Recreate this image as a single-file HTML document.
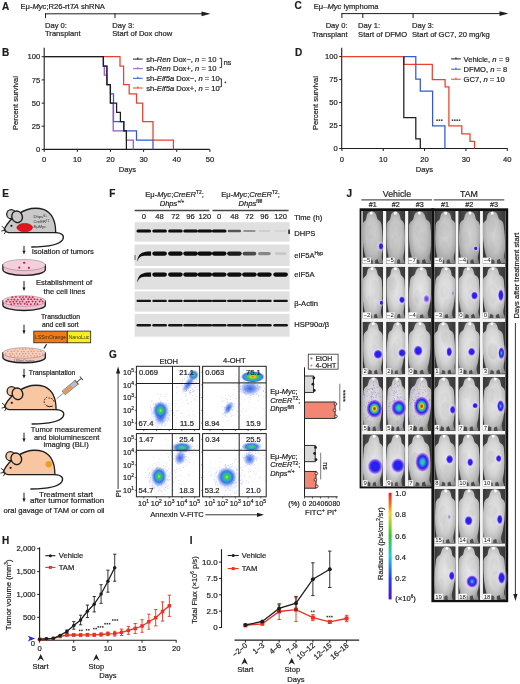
<!DOCTYPE html>
<html><head><meta charset="utf-8"><style>
html,body{margin:0;padding:0;background:#fff;}
svg{display:block;}
svg{font-family:"Liberation Sans",Arial,sans-serif;font-size:7.6px;}
text{fill:#1e1e1e;stroke:#1e1e1e;stroke-width:0.2px;}
</style></head><body>
<svg width="520" height="684" viewBox="0 0 520 684">
<text x="2" y="9.5" style="font-weight:bold;font-size:10px;">A</text>
<text x="20.5" y="9.4">Eμ-<tspan font-style="italic">Myc</tspan>;R26-rt<tspan font-style="italic">TA</tspan> shRNA</text>
<line x1="45" y1="13.8" x2="203.5" y2="13.8" stroke="#1e1e1e" stroke-width="1"/>
<polygon points="201.5,11.4 210.5,13.8 201.5,16.2" fill="#1e1e1e"/>
<line x1="45.5" y1="13.3" x2="45.5" y2="18.2" stroke="#1e1e1e" stroke-width="1"/>
<line x1="115" y1="13.3" x2="115" y2="18.2" stroke="#1e1e1e" stroke-width="1"/>
<text x="45" y="27.5">Day 0:</text>
<text x="45" y="36.2">Transplant</text>
<text x="112.3" y="27.5">Day 3:</text>
<text x="112.3" y="36.2">Start of Dox chow</text>
<text x="2" y="55.5" style="font-weight:bold;font-size:10px;">B</text>
<line x1="44.2" y1="47.7" x2="44.2" y2="149.9" stroke="#1e1e1e" stroke-width="1.1"/>
<line x1="41.7" y1="56.7" x2="44.2" y2="56.7" stroke="#1e1e1e" stroke-width="1"/>
<text x="40.2" y="59.300000000000004" text-anchor="end">100</text>
<line x1="41.7" y1="79.9" x2="44.2" y2="79.9" stroke="#1e1e1e" stroke-width="1"/>
<text x="40.2" y="82.5" text-anchor="end">75</text>
<line x1="41.7" y1="103.1" x2="44.2" y2="103.1" stroke="#1e1e1e" stroke-width="1"/>
<text x="40.2" y="105.69999999999999" text-anchor="end">50</text>
<line x1="41.7" y1="126.2" x2="44.2" y2="126.2" stroke="#1e1e1e" stroke-width="1"/>
<text x="40.2" y="128.8" text-anchor="end">25</text>
<line x1="41.7" y1="149.4" x2="44.2" y2="149.4" stroke="#1e1e1e" stroke-width="1"/>
<text x="40.2" y="152.0" text-anchor="end">0</text>
<line x1="44.2" y1="149.4" x2="209.8" y2="149.4" stroke="#1e1e1e" stroke-width="1.1"/>
<line x1="44.2" y1="149.4" x2="44.2" y2="151.9" stroke="#1e1e1e" stroke-width="1"/>
<text x="44.2" y="162.2" text-anchor="middle">0</text>
<line x1="77.34" y1="149.4" x2="77.34" y2="151.9" stroke="#1e1e1e" stroke-width="1"/>
<text x="77.34" y="162.2" text-anchor="middle">10</text>
<line x1="110.48" y1="149.4" x2="110.48" y2="151.9" stroke="#1e1e1e" stroke-width="1"/>
<text x="110.48" y="162.2" text-anchor="middle">20</text>
<line x1="143.62" y1="149.4" x2="143.62" y2="151.9" stroke="#1e1e1e" stroke-width="1"/>
<text x="143.62" y="162.2" text-anchor="middle">30</text>
<line x1="176.76" y1="149.4" x2="176.76" y2="151.9" stroke="#1e1e1e" stroke-width="1"/>
<text x="176.76" y="162.2" text-anchor="middle">40</text>
<line x1="209.89999999999998" y1="149.4" x2="209.89999999999998" y2="151.9" stroke="#1e1e1e" stroke-width="1"/>
<text x="209.89999999999998" y="162.2" text-anchor="middle">50</text>
<text x="127.5" y="172.3" text-anchor="middle">Days</text>
<text transform="translate(17.6,103) rotate(-90)" text-anchor="middle">Percent survival</text>
<polyline points="44.2,56.7 120.0,56.7 120.0,66.0 123.6,66.0 123.6,84.5 129.2,84.5 129.2,93.8 136.5,93.8 136.5,103.1 142.7,103.1 142.7,121.6 153.0,121.6 153.0,140.1 173.4,140.1 173.4,149.4" fill="none" stroke="#e8412f" stroke-width="1.25"/>
<polyline points="103.4,56.7 103.4,66.0 106.9,66.0 106.9,84.5 110.4,84.5 110.4,93.8 113.5,93.8 113.5,121.6 123.8,121.6 123.8,130.9 126.4,130.9 126.4,130.9 136.5,130.9 136.5,140.1 153.0,140.1 153.0,149.4" fill="none" stroke="#3557d4" stroke-width="1.25"/>
<polyline points="103.4,56.7 103.4,66.0 104.3,66.0 104.3,75.2 106.9,75.2 106.9,84.5 110.4,84.5 110.4,103.1 113.2,103.1 113.2,130.9 126.4,130.9 126.4,140.1 133.3,140.1 133.3,149.4" fill="none" stroke="#9a55b8" stroke-width="1.25"/>
<polyline points="44.2,56.7 103.4,56.7 103.4,66.0 106.9,66.0 106.9,84.5 110.4,84.5 110.4,103.1 116.6,103.1 116.6,112.3 120.4,112.3 120.4,121.6 123.8,121.6 123.8,130.9 126.4,130.9 126.4,149.4" fill="none" stroke="#1e1e1e" stroke-width="1.25"/>
<line x1="133" y1="59.1" x2="142.7" y2="59.1" stroke="#1e1e1e" stroke-width="1"/>
<line x1="137.85" y1="57.5" x2="137.85" y2="59.4" stroke="#1e1e1e" stroke-width="1"/>
<text x="146.3" y="61.800000000000004">sh-<tspan font-style="italic">Ren</tspan> Dox−, <tspan font-style="italic">n</tspan> = 10</text>
<line x1="133" y1="68.7" x2="142.7" y2="68.7" stroke="#9a55b8" stroke-width="1"/>
<line x1="137.85" y1="67.10000000000001" x2="137.85" y2="69.0" stroke="#9a55b8" stroke-width="1"/>
<text x="146.3" y="71.4">sh-<tspan font-style="italic">Ren</tspan> Dox+, <tspan font-style="italic">n</tspan> = 10</text>
<line x1="133" y1="78.3" x2="142.7" y2="78.3" stroke="#3557d4" stroke-width="1"/>
<line x1="137.85" y1="76.7" x2="137.85" y2="78.6" stroke="#3557d4" stroke-width="1"/>
<text x="146.3" y="81.0">sh-<tspan font-style="italic">Eif5a</tspan> Dox−, <tspan font-style="italic">n</tspan> = 10</text>
<line x1="133" y1="88.0" x2="142.7" y2="88.0" stroke="#e8412f" stroke-width="1"/>
<line x1="137.85" y1="86.4" x2="137.85" y2="88.3" stroke="#e8412f" stroke-width="1"/>
<text x="146.3" y="90.7">sh-<tspan font-style="italic">Eif5a</tspan> Dox+, <tspan font-style="italic">n</tspan> = 10</text>
<polyline points="219.6,58.3 221.6,58.3 221.6,67.4 219.6,67.4" fill="none" stroke="#1e1e1e" stroke-width="0.9"/>
<text x="223.4" y="65.4">ns</text>
<polyline points="219.4,78.8 221.4,78.8 221.4,86.8 219.4,86.8" fill="none" stroke="#1e1e1e" stroke-width="0.9"/>
<rect x="224.62" y="81.62" width="1.55" height="1.55" fill="#3a3a3a"/>
<text x="294.5" y="9.3" style="font-weight:bold;font-size:10px;">C</text>
<text x="313.8" y="9.4">Eμ–<tspan font-style="italic">Myc</tspan> lymphoma</text>
<line x1="341.5" y1="13.6" x2="501.5" y2="13.6" stroke="#1e1e1e" stroke-width="1"/>
<polygon points="499.5,11.2 508.5,13.6 499.5,16.0" fill="#1e1e1e"/>
<line x1="341.9" y1="13.1" x2="341.9" y2="18" stroke="#1e1e1e" stroke-width="1"/>
<line x1="362.8" y1="13.1" x2="362.8" y2="18" stroke="#1e1e1e" stroke-width="1"/>
<line x1="413.1" y1="13.1" x2="413.1" y2="18" stroke="#1e1e1e" stroke-width="1"/>
<text x="347.6" y="27.8" text-anchor="end">Day 0:</text>
<text x="347.6" y="36.6" text-anchor="end">Transplant</text>
<text x="358.1" y="27.8">Day 1:</text>
<text x="358.1" y="36.6">Start of DFMO</text>
<text x="412.0" y="27.8">Day 3:</text>
<text x="412.0" y="36.6">Start of GC7, 20 mg/kg</text>
<text x="295" y="55.7" style="font-weight:bold;font-size:10px;">D</text>
<line x1="341.7" y1="47.7" x2="341.7" y2="149" stroke="#1e1e1e" stroke-width="1.1"/>
<line x1="339.2" y1="56.599999999999994" x2="341.7" y2="56.599999999999994" stroke="#1e1e1e" stroke-width="1"/>
<text x="337.7" y="59.199999999999996" text-anchor="end">100</text>
<line x1="339.2" y1="79.575" x2="341.7" y2="79.575" stroke="#1e1e1e" stroke-width="1"/>
<text x="337.7" y="82.175" text-anchor="end">75</text>
<line x1="339.2" y1="102.55" x2="341.7" y2="102.55" stroke="#1e1e1e" stroke-width="1"/>
<text x="337.7" y="105.14999999999999" text-anchor="end">50</text>
<line x1="339.2" y1="125.525" x2="341.7" y2="125.525" stroke="#1e1e1e" stroke-width="1"/>
<text x="337.7" y="128.125" text-anchor="end">25</text>
<line x1="339.2" y1="148.5" x2="341.7" y2="148.5" stroke="#1e1e1e" stroke-width="1"/>
<text x="337.7" y="151.1" text-anchor="end">0</text>
<line x1="341.7" y1="148.5" x2="507.6" y2="148.5" stroke="#1e1e1e" stroke-width="1.1"/>
<line x1="341.9" y1="148.5" x2="341.9" y2="151" stroke="#1e1e1e" stroke-width="1"/>
<text x="341.9" y="161.5" text-anchor="middle">0</text>
<line x1="383.25" y1="148.5" x2="383.25" y2="151" stroke="#1e1e1e" stroke-width="1"/>
<text x="383.25" y="161.5" text-anchor="middle">10</text>
<line x1="424.59999999999997" y1="148.5" x2="424.59999999999997" y2="151" stroke="#1e1e1e" stroke-width="1"/>
<text x="424.59999999999997" y="161.5" text-anchor="middle">20</text>
<line x1="465.95" y1="148.5" x2="465.95" y2="151" stroke="#1e1e1e" stroke-width="1"/>
<text x="465.95" y="161.5" text-anchor="middle">30</text>
<line x1="507.29999999999995" y1="148.5" x2="507.29999999999995" y2="151" stroke="#1e1e1e" stroke-width="1"/>
<text x="507.29999999999995" y="161.5" text-anchor="middle">40</text>
<text x="424.5" y="171.6" text-anchor="middle">Days</text>
<text transform="translate(317.6,103) rotate(-90)" text-anchor="middle">Percent survival</text>
<polyline points="341.9,56.6 403.8,56.6 403.8,64.3 432.3,64.3 432.3,79.5 445.1,79.5 445.1,86.9 448.9,86.9 448.9,125.8 461.8,125.8 461.8,133.8 470.0,133.8 470.0,141.3 474.5,141.3 474.5,148.5" fill="none" stroke="#e8412f" stroke-width="1.25"/>
<polyline points="403.8,56.6 415.8,56.6 415.8,79.2 420.3,79.2 420.3,91.2 432.6,91.2 432.6,125.8 444.9,125.8 444.9,148.5" fill="none" stroke="#3557d4" stroke-width="1.25"/>
<polyline points="403.8,56.6 403.8,117.7 415.8,117.7 415.8,138.9 420.3,138.9 420.3,148.5" fill="none" stroke="#1e1e1e" stroke-width="1.25"/>
<rect x="436.32" y="119.42" width="1.55" height="1.55" fill="#3a3a3a"/>
<rect x="438.62" y="119.42" width="1.55" height="1.55" fill="#3a3a3a"/>
<rect x="440.93" y="119.42" width="1.55" height="1.55" fill="#3a3a3a"/>
<rect x="451.78" y="119.42" width="1.55" height="1.55" fill="#3a3a3a"/>
<rect x="454.08" y="119.42" width="1.55" height="1.55" fill="#3a3a3a"/>
<rect x="456.38" y="119.42" width="1.55" height="1.55" fill="#3a3a3a"/>
<rect x="458.68" y="119.42" width="1.55" height="1.55" fill="#3a3a3a"/>
<line x1="451.1" y1="58.9" x2="460.8" y2="58.9" stroke="#1e1e1e" stroke-width="1"/>
<line x1="455.95000000000005" y1="57.3" x2="455.95000000000005" y2="59.199999999999996" stroke="#1e1e1e" stroke-width="1"/>
<text x="463.6" y="61.6">Vehicle, <tspan font-style="italic">n</tspan> = 9</text>
<line x1="451.1" y1="69.2" x2="460.8" y2="69.2" stroke="#3557d4" stroke-width="1"/>
<line x1="455.95000000000005" y1="67.60000000000001" x2="455.95000000000005" y2="69.5" stroke="#3557d4" stroke-width="1"/>
<text x="463.6" y="71.9">DFMO, <tspan font-style="italic">n</tspan> = 8</text>
<line x1="451.1" y1="79.2" x2="460.8" y2="79.2" stroke="#e8412f" stroke-width="1"/>
<line x1="455.95000000000005" y1="77.60000000000001" x2="455.95000000000005" y2="79.5" stroke="#e8412f" stroke-width="1"/>
<text x="463.6" y="81.9">GC7, <tspan font-style="italic">n</tspan> = 10</text>
<text x="2.2" y="196.8" style="font-weight:bold;font-size:10px;">E</text>
<g transform="translate(4.2,207.6) scale(1.0)">
<path d="M51.5,25 C58,25.3 60.5,28 58.5,32 C55.5,37 42,39.2 27.5,39.4" fill="none" stroke="#1e1e1e" stroke-width="1.3" stroke-linecap="round"/>
<circle cx="7.0" cy="6.6" r="4.5" fill="#c9c9c9" stroke="#1e1e1e" stroke-width="1.25"/>
<path d="M0,21.5 C3,15.5 8,10 14,6.5 C22,1 32,-0.5 40,2 C48,5.5 51.5,14 51.5,25 L4.5,25 C2,24.5 0,23.5 0,21.5 Z" fill="#c9c9c9" stroke="#1e1e1e" stroke-width="1.3" stroke-linejoin="round"/>
<ellipse cx="12.9" cy="9.2" rx="5.2" ry="5.9" transform="rotate(-25,12.9,9.2)" fill="#c9c9c9" stroke="#1e1e1e" stroke-width="1.35"/>
<circle cx="7.2" cy="18.2" r="1.1" fill="#1e1e1e"/>
<path d="M1.5,22 L-2.5,18.5 M1.5,22.5 L-3,23.5 M2,23 L0,26.5" stroke="#1e1e1e" stroke-width="0.9" fill="none"/>
<ellipse cx="20.5" cy="20" rx="7.8" ry="4.2" fill="#e3141b" stroke="#b00010" stroke-width="0.6"/>
<text x="29.2" y="10.6" style="font-size:4.2px;fill:#333;stroke:none">Dhps<tspan font-size="2.8" dy="-1.5">fl/+</tspan></text>
<text x="29.2" y="15.7" style="font-size:4.2px;fill:#333;stroke:none">CreER<tspan font-size="2.8" dy="-1.5">T2</tspan></text>
<text x="29.2" y="20.8" style="font-size:4.2px;fill:#333;stroke:none">EμMyc</text>
</g>
<g transform="translate(4.6,384.6) scale(1.0)">
<path d="M51.5,25 C58,25.3 60.5,28 58.5,32 C55.5,37 42,39.2 27.5,39.4" fill="none" stroke="#1e1e1e" stroke-width="1.3" stroke-linecap="round"/>
<circle cx="7.0" cy="6.6" r="4.5" fill="#f8c6a0" stroke="#1e1e1e" stroke-width="1.25"/>
<path d="M0,21.5 C3,15.5 8,10 14,6.5 C22,1 32,-0.5 40,2 C48,5.5 51.5,14 51.5,25 L4.5,25 C2,24.5 0,23.5 0,21.5 Z" fill="#f8c6a0" stroke="#1e1e1e" stroke-width="1.3" stroke-linejoin="round"/>
<ellipse cx="12.9" cy="9.2" rx="5.2" ry="5.9" transform="rotate(-25,12.9,9.2)" fill="#f8c6a0" stroke="#1e1e1e" stroke-width="1.35"/>
<circle cx="7.2" cy="18.2" r="1.1" fill="#1e1e1e"/>
<path d="M1.5,22 L-2.5,18.5 M1.5,22.5 L-3,23.5 M2,23 L0,26.5" stroke="#1e1e1e" stroke-width="0.9" fill="none"/>
<path d="M42.5,12.5 A5,5 0 0 0 40.5,20" stroke="#1e1e1e" stroke-width="1" fill="none" stroke-dasharray="1.6,1"/>
<path d="M44,13.5 A4.8,4.8 0 0 1 49.5,17.5" stroke="#1e1e1e" stroke-width="1" fill="none" stroke-dasharray="1.6,1"/>
<path d="M41.5,21 Q44.5,23 48,21.5" stroke="#1e1e1e" stroke-width="1" fill="none"/>
</g>
<g transform="translate(3.4,449.6) scale(1.0)">
<path d="M51.5,25 C58,25.3 60.5,28 58.5,32 C55.5,37 42,39.2 27.5,39.4" fill="none" stroke="#1e1e1e" stroke-width="1.3" stroke-linecap="round"/>
<circle cx="7.0" cy="6.6" r="4.5" fill="#f8c6a0" stroke="#1e1e1e" stroke-width="1.25"/>
<path d="M0,21.5 C3,15.5 8,10 14,6.5 C22,1 32,-0.5 40,2 C48,5.5 51.5,14 51.5,25 L4.5,25 C2,24.5 0,23.5 0,21.5 Z" fill="#f8c6a0" stroke="#1e1e1e" stroke-width="1.3" stroke-linejoin="round"/>
<ellipse cx="12.9" cy="9.2" rx="5.2" ry="5.9" transform="rotate(-25,12.9,9.2)" fill="#f8c6a0" stroke="#1e1e1e" stroke-width="1.35"/>
<circle cx="7.2" cy="18.2" r="1.1" fill="#1e1e1e"/>
<path d="M1.5,22 L-2.5,18.5 M1.5,22.5 L-3,23.5 M2,23 L0,26.5" stroke="#1e1e1e" stroke-width="0.9" fill="none"/>
<circle cx="45.3" cy="14.6" r="3.1" fill="#ec9a1e" opacity="0.95"/>
</g>
<line x1="24" y1="245.8" x2="24" y2="251.4" stroke="#1e1e1e" stroke-width="1"/>
<polygon points="22.4,250.8 24,254.4 25.6,250.8" fill="#1e1e1e"/>
<line x1="24" y1="281" x2="24" y2="288" stroke="#1e1e1e" stroke-width="1"/>
<polygon points="22.4,287.4 24,291 25.6,287.4" fill="#1e1e1e"/>
<line x1="24" y1="324.6" x2="24" y2="331.2" stroke="#1e1e1e" stroke-width="1"/>
<polygon points="22.4,330.59999999999997 24,334.2 25.6,330.59999999999997" fill="#1e1e1e"/>
<line x1="24" y1="368.8" x2="24" y2="375.5" stroke="#1e1e1e" stroke-width="1"/>
<polygon points="22.4,374.9 24,378.5 25.6,374.9" fill="#1e1e1e"/>
<line x1="24" y1="432.7" x2="24" y2="439.2" stroke="#1e1e1e" stroke-width="1"/>
<polygon points="22.4,438.59999999999997 24,442.2 25.6,438.59999999999997" fill="#1e1e1e"/>
<line x1="24" y1="492.7" x2="24" y2="499.2" stroke="#1e1e1e" stroke-width="1"/>
<polygon points="22.4,498.59999999999997 24,502.2 25.6,498.59999999999997" fill="#1e1e1e"/>
<path d="M2.900000000000002,265 L2.900000000000002,269.8 A21.2,5.6 0 0 0 45.3,269.8 L45.3,265 Z" fill="#efc2d2" stroke="#1e1e1e" stroke-width="1.35"/>
<ellipse cx="24.1" cy="265" rx="21.2" ry="5.6" fill="#f4d0dd" stroke="#777" stroke-width="0.5"/>
<circle cx="24.1" cy="262.8" r="1.1" fill="#e0163a"/>
<circle cx="19.3" cy="267.6" r="1.1" fill="#e0163a"/>
<circle cx="28.9" cy="267.8" r="1.1" fill="#e0163a"/>
<path d="M2.900000000000002,301 L2.900000000000002,305.2 A21.2,5.3 0 0 0 45.3,305.2 L45.3,301 Z" fill="#efc2d2" stroke="#1e1e1e" stroke-width="1.35"/>
<ellipse cx="24.1" cy="301" rx="21.2" ry="5.3" fill="#f4d0dd" stroke="#777" stroke-width="0.5"/>
<circle cx="12.3" cy="297.2" r="0.95" fill="#e3183c"/>
<circle cx="15.9" cy="296.9" r="0.95" fill="#e3183c"/>
<circle cx="19.9" cy="297.1" r="0.95" fill="#e3183c"/>
<circle cx="23.0" cy="297.1" r="0.95" fill="#e3183c"/>
<circle cx="26.1" cy="296.9" r="0.95" fill="#e3183c"/>
<circle cx="29.4" cy="297.3" r="0.95" fill="#e3183c"/>
<circle cx="32.6" cy="297.2" r="0.95" fill="#e3183c"/>
<circle cx="8.1" cy="299.6" r="0.95" fill="#e3183c"/>
<circle cx="11.4" cy="299.6" r="0.95" fill="#e3183c"/>
<circle cx="14.3" cy="299.5" r="0.95" fill="#e3183c"/>
<circle cx="17.7" cy="299.6" r="0.95" fill="#e3183c"/>
<circle cx="21.4" cy="299.2" r="0.95" fill="#e3183c"/>
<circle cx="24.0" cy="299.2" r="0.95" fill="#e3183c"/>
<circle cx="28.1" cy="299.3" r="0.95" fill="#e3183c"/>
<circle cx="31.1" cy="299.3" r="0.95" fill="#e3183c"/>
<circle cx="34.3" cy="299.3" r="0.95" fill="#e3183c"/>
<circle cx="37.4" cy="299.4" r="0.95" fill="#e3183c"/>
<circle cx="40.9" cy="299.6" r="0.95" fill="#e3183c"/>
<circle cx="6.4" cy="301.5" r="0.95" fill="#e3183c"/>
<circle cx="9.9" cy="301.9" r="0.95" fill="#e3183c"/>
<circle cx="13.2" cy="301.7" r="0.95" fill="#e3183c"/>
<circle cx="16.3" cy="301.5" r="0.95" fill="#e3183c"/>
<circle cx="19.7" cy="301.7" r="0.95" fill="#e3183c"/>
<circle cx="22.5" cy="301.5" r="0.95" fill="#e3183c"/>
<circle cx="26.4" cy="301.9" r="0.95" fill="#e3183c"/>
<circle cx="28.9" cy="301.8" r="0.95" fill="#e3183c"/>
<circle cx="32.5" cy="301.5" r="0.95" fill="#e3183c"/>
<circle cx="35.7" cy="301.8" r="0.95" fill="#e3183c"/>
<circle cx="39.6" cy="301.5" r="0.95" fill="#e3183c"/>
<circle cx="42.6" cy="301.5" r="0.95" fill="#e3183c"/>
<circle cx="11.2" cy="304.2" r="0.95" fill="#e3183c"/>
<circle cx="14.3" cy="303.8" r="0.95" fill="#e3183c"/>
<circle cx="17.8" cy="303.7" r="0.95" fill="#e3183c"/>
<circle cx="20.7" cy="303.9" r="0.95" fill="#e3183c"/>
<circle cx="24.5" cy="303.8" r="0.95" fill="#e3183c"/>
<circle cx="27.2" cy="304.2" r="0.95" fill="#e3183c"/>
<circle cx="30.8" cy="304.2" r="0.95" fill="#e3183c"/>
<circle cx="34.6" cy="303.9" r="0.95" fill="#e3183c"/>
<circle cx="37.5" cy="304.0" r="0.95" fill="#e3183c"/>
<path d="M2.900000000000002,353 L2.900000000000002,357.5 A21.2,5.3 0 0 0 45.3,357.5 L45.3,353 Z" fill="#f0c6c6" stroke="#1e1e1e" stroke-width="1.35"/>
<ellipse cx="24.1" cy="353" rx="21.2" ry="5.3" fill="#f6d2c8" stroke="#777" stroke-width="0.5"/>
<circle cx="15.9" cy="349.0" r="0.85" fill="#f09a5a"/>
<circle cx="19.7" cy="348.8" r="0.85" fill="#f09a5a"/>
<circle cx="22.8" cy="349.2" r="0.85" fill="#f09a5a"/>
<circle cx="25.8" cy="348.9" r="0.85" fill="#f09a5a"/>
<circle cx="29.6" cy="348.9" r="0.85" fill="#f09a5a"/>
<circle cx="32.3" cy="349.0" r="0.85" fill="#f09a5a"/>
<circle cx="7.7" cy="351.5" r="0.85" fill="#f09a5a"/>
<circle cx="11.5" cy="351.4" r="0.85" fill="#f09a5a"/>
<circle cx="14.2" cy="351.2" r="0.85" fill="#f09a5a"/>
<circle cx="17.8" cy="351.2" r="0.85" fill="#f09a5a"/>
<circle cx="21.4" cy="351.5" r="0.85" fill="#f09a5a"/>
<circle cx="24.0" cy="351.3" r="0.85" fill="#f09a5a"/>
<circle cx="28.0" cy="351.5" r="0.85" fill="#f09a5a"/>
<circle cx="31.3" cy="351.3" r="0.85" fill="#f09a5a"/>
<circle cx="33.9" cy="351.3" r="0.85" fill="#f09a5a"/>
<circle cx="37.8" cy="351.3" r="0.85" fill="#f09a5a"/>
<circle cx="40.7" cy="351.3" r="0.85" fill="#f09a5a"/>
<circle cx="5.7" cy="353.9" r="0.85" fill="#f09a5a"/>
<circle cx="9.9" cy="353.9" r="0.85" fill="#f09a5a"/>
<circle cx="12.7" cy="353.9" r="0.85" fill="#f09a5a"/>
<circle cx="16.5" cy="353.5" r="0.85" fill="#f09a5a"/>
<circle cx="19.6" cy="353.8" r="0.85" fill="#f09a5a"/>
<circle cx="22.9" cy="353.7" r="0.85" fill="#f09a5a"/>
<circle cx="25.8" cy="353.6" r="0.85" fill="#f09a5a"/>
<circle cx="29.0" cy="353.5" r="0.85" fill="#f09a5a"/>
<circle cx="32.7" cy="353.6" r="0.85" fill="#f09a5a"/>
<circle cx="36.2" cy="353.5" r="0.85" fill="#f09a5a"/>
<circle cx="39.6" cy="353.8" r="0.85" fill="#f09a5a"/>
<circle cx="42.9" cy="353.9" r="0.85" fill="#f09a5a"/>
<circle cx="10.8" cy="355.9" r="0.85" fill="#f09a5a"/>
<circle cx="14.6" cy="356.0" r="0.85" fill="#f09a5a"/>
<circle cx="17.7" cy="356.2" r="0.85" fill="#f09a5a"/>
<circle cx="21.2" cy="355.9" r="0.85" fill="#f09a5a"/>
<circle cx="24.1" cy="356.2" r="0.85" fill="#f09a5a"/>
<circle cx="27.6" cy="356.1" r="0.85" fill="#f09a5a"/>
<circle cx="30.8" cy="355.8" r="0.85" fill="#f09a5a"/>
<circle cx="34.3" cy="356.1" r="0.85" fill="#f09a5a"/>
<circle cx="37.2" cy="356.1" r="0.85" fill="#f09a5a"/>
<text x="24.1" y="361.6" text-anchor="middle" style="font-size:3.4px;fill:#555;stroke:none">LSSmOrange</text>
<text x="31.7" y="254.4">Isolation of tumors</text>
<text x="64" y="285.2" text-anchor="middle">Establishment of</text>
<text x="64.5" y="293.5" text-anchor="middle">the cell lines</text>
<text x="60.5" y="318.5" text-anchor="middle" style="font-size:6.8px;">Transduction</text>
<text x="60.4" y="326.5" text-anchor="middle" style="font-size:6.8px;">and cell sort</text>
<rect x="33.8" y="331.1" width="33.5" height="11.7" fill="#ef7a1a" stroke="#1e1e1e" stroke-width="0.8"/>
<rect x="67.3" y="331.1" width="23.4" height="11.7" fill="#f6ee22" stroke="#1e1e1e" stroke-width="0.8"/>
<text x="50.5" y="338.9" text-anchor="middle" style="font-size:5.2px;fill:#3a2a10;stroke:none">LSSmOrange</text>
<text x="79" y="338.9" text-anchor="middle" style="font-size:5.2px;fill:#3a3a10;stroke:none">NanoLuc</text>
<line x1="46.6" y1="344.3" x2="44" y2="348.5" stroke="#1e1e1e" stroke-width="1.2"/>
<text x="28.8" y="375.2" style="font-size:6.8px;">Transplantation</text>
<g transform="translate(56.7,398.7) rotate(-39.5)">
<line x1="0" y1="0" x2="9" y2="0" stroke="#666" stroke-width="0.7"/>
<rect x="9" y="-2.4" width="17" height="4.8" fill="#b8bec6" stroke="#6a7078" stroke-width="0.7"/>
<rect x="9.3" y="-2.0" width="10" height="4.0" fill="#e49a5c"/>
<line x1="26" y1="0" x2="32" y2="0" stroke="#555" stroke-width="1.1"/>
<line x1="32" y1="-2.4" x2="32" y2="2.4" stroke="#555" stroke-width="1.1"/>
<line x1="25.8" y1="-3" x2="25.8" y2="3" stroke="#555" stroke-width="0.9"/>
</g>
<text x="65.9" y="432" text-anchor="middle">Tumor measurement</text>
<text x="66.6" y="439.5" text-anchor="middle">and bioluminescent</text>
<text x="66.1" y="447.1" text-anchor="middle">imaging (BLI)</text>
<text x="66.1" y="496.5" text-anchor="middle" style="font-size:8px;">Treatment start</text>
<text x="67.1" y="503.3" text-anchor="middle" style="font-size:8px;">after tumor formation</text>
<text x="54" y="512.8" text-anchor="middle">oral gavage of TAM or corn oil</text>
<text x="109.3" y="197" style="font-weight:bold;font-size:10px;">F</text>
<text x="174.5" y="196.9" text-anchor="middle">Eμ-<tspan font-style="italic">Myc</tspan>;<tspan font-style="italic">CreER</tspan><tspan font-size="4.8" dy="-2.8">T2</tspan><tspan dy="2.8">;</tspan></text>
<text x="172" y="206" text-anchor="middle"><tspan font-style="italic">Dhps</tspan><tspan font-size="4.8" dy="-2.8">+/+</tspan></text>
<text x="250.5" y="196.9" text-anchor="middle">Eμ-<tspan font-style="italic">Myc</tspan>;<tspan font-style="italic">CreER</tspan><tspan font-size="4.8" dy="-2.8">T2</tspan><tspan dy="2.8">;</tspan></text>
<text x="250.5" y="206" text-anchor="middle"><tspan font-style="italic">Dhps</tspan><tspan font-size="4.8" dy="-2.8">fl/fl</tspan></text>
<line x1="134.6" y1="210.5" x2="209.4" y2="210.5" stroke="#444" stroke-width="1.3"/>
<line x1="212.5" y1="210.5" x2="288.6" y2="210.5" stroke="#444" stroke-width="1.3"/>
<text x="143.8" y="218.5" text-anchor="middle">0</text>
<text x="159.6" y="218.5" text-anchor="middle">48</text>
<text x="175.4" y="218.5" text-anchor="middle">72</text>
<text x="190.6" y="218.5" text-anchor="middle">96</text>
<text x="204.8" y="218.5" text-anchor="middle">120</text>
<text x="219.2" y="218.5" text-anchor="middle">0</text>
<text x="234.4" y="218.5" text-anchor="middle">48</text>
<text x="249.4" y="218.5" text-anchor="middle">72</text>
<text x="264.4" y="218.5" text-anchor="middle">96</text>
<text x="280.6" y="218.5" text-anchor="middle">120</text>
<text x="294.2" y="219.6">Time (h)</text>
<defs><filter id="bl" x="-20%" y="-100%" width="140%" height="300%"><feGaussianBlur stdDeviation="0.45"/></filter><filter id="bl2" x="-20%" y="-100%" width="140%" height="300%"><feGaussianBlur stdDeviation="0.7"/></filter></defs>
<rect x="134.6" y="222.2" width="155" height="19.4" fill="#e0e0e0"/>
<g filter="url(#bl)">
<rect x="136.5" y="229.50" width="14.6" height="3.00" rx="1.50" fill="rgb(13,13,13)"/>
<rect x="152.3" y="229.50" width="14.6" height="3.00" rx="1.50" fill="rgb(13,13,13)"/>
<rect x="168.1" y="229.50" width="14.6" height="3.00" rx="1.50" fill="rgb(13,13,13)"/>
<rect x="183.3" y="229.50" width="14.6" height="3.00" rx="1.50" fill="rgb(13,13,13)"/>
<rect x="197.5" y="229.50" width="14.6" height="3.00" rx="1.50" fill="rgb(13,13,13)"/>
<rect x="211.9" y="229.50" width="14.6" height="3.00" rx="1.50" fill="rgb(13,13,13)"/>
<rect x="227.7" y="229.72" width="13.4" height="2.57" rx="1.28" fill="rgb(84,84,84)"/>
<rect x="243.2" y="229.91" width="12.4" height="2.19" rx="1.10" fill="rgb(146,146,146)"/>
<rect x="258.7" y="230.09" width="11.5" height="1.83" rx="0.91" fill="rgb(206,206,206)"/>
<rect x="274.9" y="230.11" width="11.4" height="1.79" rx="0.89" fill="rgb(212,212,212)"/>
</g>
<text x="294.2" y="235.9">DHPS</text>
<rect x="134.6" y="244.5" width="155" height="21.5" fill="#e0e0e0"/>
<g filter="url(#bl)">
<path d="M137.3,260.32 C138.8,253.1 141.8,251.5 151.10000000000002,251.5 L151.10000000000002,255.7 C141.8,255.7 139.8,254.79999999999998 137.3,261.52 Z" fill="rgb(13,13,13)"/>
<rect x="152.3" y="251.50" width="14.6" height="4.20" rx="2.10" fill="rgb(13,13,13)"/>
<rect x="168.1" y="251.50" width="14.6" height="4.20" rx="2.10" fill="rgb(13,13,13)"/>
<rect x="183.3" y="251.50" width="14.6" height="4.20" rx="2.10" fill="rgb(13,13,13)"/>
<rect x="197.5" y="251.50" width="14.6" height="4.20" rx="2.10" fill="rgb(13,13,13)"/>
<rect x="211.9" y="251.50" width="14.6" height="4.20" rx="2.10" fill="rgb(13,13,13)"/>
<rect x="227.1" y="251.58" width="14.6" height="4.05" rx="2.02" fill="rgb(30,30,30)"/>
<rect x="242.6" y="251.76" width="13.6" height="3.67" rx="1.84" fill="rgb(75,75,75)"/>
<rect x="258.1" y="252.02" width="12.6" height="3.16" rx="1.58" fill="rgb(135,135,135)"/>
<rect x="274.8" y="252.29" width="11.6" height="2.61" rx="1.31" fill="rgb(199,199,199)"/>
</g>
<text x="294.2" y="257.5">eIF5A<tspan font-size="4.8" dy="-2.8">Hyp</tspan></text>
<rect x="134.6" y="268.2" width="155" height="21.3" fill="#e0e0e0"/>
<g filter="url(#bl)">
<path d="M137.3,281.32000000000005 C138.8,274.1 141.8,272.5 151.10000000000002,272.5 L151.10000000000002,276.70000000000005 C141.8,276.70000000000005 139.8,275.8 137.3,282.52000000000004 Z" fill="rgb(13,13,13)"/>
<rect x="152.3" y="272.50" width="14.6" height="4.20" rx="2.10" fill="rgb(13,13,13)"/>
<rect x="168.1" y="272.50" width="14.6" height="4.20" rx="2.10" fill="rgb(13,13,13)"/>
<rect x="183.3" y="272.50" width="14.6" height="4.20" rx="2.10" fill="rgb(13,13,13)"/>
<rect x="197.5" y="272.50" width="14.6" height="4.20" rx="2.10" fill="rgb(13,13,13)"/>
<rect x="211.9" y="272.50" width="14.6" height="4.20" rx="2.10" fill="rgb(13,13,13)"/>
<rect x="227.1" y="272.50" width="14.6" height="4.20" rx="2.10" fill="rgb(13,13,13)"/>
<rect x="242.1" y="272.50" width="14.6" height="4.20" rx="2.10" fill="rgb(13,13,13)"/>
<rect x="257.1" y="272.50" width="14.6" height="4.20" rx="2.10" fill="rgb(13,13,13)"/>
<rect x="273.3" y="272.50" width="14.6" height="4.20" rx="2.10" fill="rgb(13,13,13)"/>
</g>
<text x="294.2" y="277.3">eIF5A</text>
<rect x="134.6" y="291.4" width="155" height="20.2" fill="#e0e0e0"/>
<g filter="url(#bl)">
<rect x="136.5" y="299.82" width="14.6" height="2.15" rx="1.08" fill="rgb(24,24,24)"/>
<rect x="152.3" y="299.82" width="14.6" height="2.15" rx="1.08" fill="rgb(24,24,24)"/>
<rect x="168.1" y="299.82" width="14.6" height="2.15" rx="1.08" fill="rgb(24,24,24)"/>
<rect x="183.3" y="299.82" width="14.6" height="2.15" rx="1.08" fill="rgb(24,24,24)"/>
<rect x="197.5" y="299.82" width="14.6" height="2.15" rx="1.08" fill="rgb(24,24,24)"/>
<rect x="211.9" y="299.82" width="14.6" height="2.15" rx="1.08" fill="rgb(24,24,24)"/>
<rect x="227.1" y="299.82" width="14.6" height="2.15" rx="1.08" fill="rgb(24,24,24)"/>
<rect x="242.1" y="299.82" width="14.6" height="2.15" rx="1.08" fill="rgb(24,24,24)"/>
<rect x="257.1" y="299.82" width="14.6" height="2.15" rx="1.08" fill="rgb(24,24,24)"/>
<rect x="273.3" y="299.82" width="14.6" height="2.15" rx="1.08" fill="rgb(24,24,24)"/>
</g>
<text x="294.2" y="305.8">β-Actin</text>
<rect x="134.6" y="313.9" width="155" height="22.8" fill="#e0e0e0"/>
<g filter="url(#bl)">
<rect x="136.5" y="324.03" width="14.6" height="2.35" rx="1.17" fill="rgb(24,24,24)"/>
<rect x="152.3" y="324.03" width="14.6" height="2.35" rx="1.17" fill="rgb(24,24,24)"/>
<rect x="168.1" y="324.03" width="14.6" height="2.35" rx="1.17" fill="rgb(24,24,24)"/>
<rect x="183.3" y="324.03" width="14.6" height="2.35" rx="1.17" fill="rgb(24,24,24)"/>
<rect x="197.5" y="324.03" width="14.6" height="2.35" rx="1.17" fill="rgb(24,24,24)"/>
<rect x="211.9" y="324.03" width="14.6" height="2.35" rx="1.17" fill="rgb(24,24,24)"/>
<rect x="227.1" y="324.03" width="14.6" height="2.35" rx="1.17" fill="rgb(24,24,24)"/>
<rect x="242.1" y="324.03" width="14.6" height="2.35" rx="1.17" fill="rgb(24,24,24)"/>
<rect x="257.1" y="324.03" width="14.6" height="2.35" rx="1.17" fill="rgb(24,24,24)"/>
<rect x="273.3" y="324.03" width="14.6" height="2.35" rx="1.17" fill="rgb(24,24,24)"/>
</g>
<text x="294.2" y="327.3">HSP90α/β</text>
<rect x="288.3" y="229.6" width="1.6" height="4.4" fill="#222" filter="url(#bl)"/>
<rect x="134.6" y="255" width="0.9" height="5" fill="#555"/>
<text x="109" y="358.2" style="font-weight:bold;font-size:10px;">G</text>
<text x="168.8" y="363.5" text-anchor="middle">EtOH</text>
<text x="234.3" y="362.6" text-anchor="middle">4-OHT</text>
<defs>
<radialGradient id="gD"><stop offset="0" stop-color="#e8e020"/><stop offset="0.18" stop-color="#40d040"/><stop offset="0.38" stop-color="#20b0c8"/><stop offset="0.6" stop-color="#2a64e0" stop-opacity="0.85"/><stop offset="1" stop-color="#5a7ef0" stop-opacity="0"/></radialGradient>
<radialGradient id="gG"><stop offset="0" stop-color="#50d848"/><stop offset="0.3" stop-color="#30b8b0"/><stop offset="0.55" stop-color="#2a64e0" stop-opacity="0.85"/><stop offset="1" stop-color="#5a7ef0" stop-opacity="0"/></radialGradient>
<radialGradient id="gB"><stop offset="0" stop-color="#2a5ee0" stop-opacity="0.95"/><stop offset="0.5" stop-color="#3a6ae8" stop-opacity="0.6"/><stop offset="1" stop-color="#7a90f0" stop-opacity="0"/></radialGradient>
<radialGradient id="gL"><stop offset="0" stop-color="#7a8ef0" stop-opacity="0.45"/><stop offset="1" stop-color="#9aa8f4" stop-opacity="0"/></radialGradient>
<radialGradient id="gR"><stop offset="0" stop-color="#f06818"/><stop offset="0.18" stop-color="#f0c820"/><stop offset="0.4" stop-color="#40d040"/><stop offset="0.62" stop-color="#20a8d0"/><stop offset="0.82" stop-color="#2a64e0" stop-opacity="0.85"/><stop offset="1" stop-color="#5a7ef0" stop-opacity="0"/></radialGradient>
<clipPath id="cp1"><rect x="136.4" y="366.3" width="63.2" height="63.2"/></clipPath>
<clipPath id="cp2"><rect x="202.6" y="366.3" width="63.6" height="63.2"/></clipPath>
<clipPath id="cp3"><rect x="136.4" y="433.6" width="63.2" height="63.2"/></clipPath>
<clipPath id="cp4"><rect x="202.6" y="433.6" width="63.6" height="63.2"/></clipPath>
</defs>
<g clip-path="url(#cp1)">
<path d="M153.7,416.0h0.7v0.7h-0.7zM167.0,408.9h0.7v0.7h-0.7zM153.0,412.5h0.7v0.7h-0.7zM163.9,421.8h0.7v0.7h-0.7zM153.7,402.7h0.7v0.7h-0.7zM165.2,416.8h0.7v0.7h-0.7zM170.2,420.9h0.7v0.7h-0.7zM160.4,410.8h0.7v0.7h-0.7zM176.4,410.7h0.7v0.7h-0.7zM156.3,403.9h0.7v0.7h-0.7zM161.6,414.2h0.7v0.7h-0.7zM158.9,412.5h0.7v0.7h-0.7zM162.6,418.5h0.7v0.7h-0.7zM167.6,414.7h0.7v0.7h-0.7zM150.3,418.6h0.7v0.7h-0.7zM152.5,411.6h0.7v0.7h-0.7zM152.2,413.0h0.7v0.7h-0.7zM156.3,414.7h0.7v0.7h-0.7zM180.8,412.6h0.7v0.7h-0.7zM166.1,402.4h0.7v0.7h-0.7zM159.3,418.3h0.7v0.7h-0.7zM160.4,416.0h0.7v0.7h-0.7zM161.6,405.0h0.7v0.7h-0.7zM164.4,406.5h0.7v0.7h-0.7zM172.2,409.0h0.7v0.7h-0.7zM165.1,413.0h0.7v0.7h-0.7zM166.7,408.2h0.7v0.7h-0.7zM167.0,412.0h0.7v0.7h-0.7zM168.6,418.0h0.7v0.7h-0.7zM161.8,406.8h0.7v0.7h-0.7zM165.6,416.7h0.7v0.7h-0.7zM170.9,410.0h0.7v0.7h-0.7zM164.3,417.1h0.7v0.7h-0.7zM162.7,414.7h0.7v0.7h-0.7zM162.1,408.2h0.7v0.7h-0.7zM154.9,409.8h0.7v0.7h-0.7zM164.5,425.1h0.7v0.7h-0.7zM166.9,421.4h0.7v0.7h-0.7zM165.7,418.6h0.7v0.7h-0.7zM162.1,419.2h0.7v0.7h-0.7zM171.6,410.4h0.7v0.7h-0.7zM156.8,428.7h0.7v0.7h-0.7zM162.5,420.8h0.7v0.7h-0.7zM166.2,403.9h0.7v0.7h-0.7zM175.6,427.2h0.7v0.7h-0.7zM162.1,419.0h0.7v0.7h-0.7zM161.8,405.9h0.7v0.7h-0.7zM160.3,416.0h0.7v0.7h-0.7zM167.7,418.7h0.7v0.7h-0.7zM161.4,423.8h0.7v0.7h-0.7zM156.4,419.3h0.7v0.7h-0.7zM167.7,410.7h0.7v0.7h-0.7zM150.3,405.7h0.7v0.7h-0.7zM162.4,417.2h0.7v0.7h-0.7zM170.3,405.0h0.7v0.7h-0.7zM161.0,418.2h0.7v0.7h-0.7zM160.1,394.0h0.7v0.7h-0.7zM165.8,431.5h0.7v0.7h-0.7zM167.0,405.7h0.7v0.7h-0.7zM158.5,414.8h0.7v0.7h-0.7zM175.9,417.9h0.7v0.7h-0.7zM161.7,425.5h0.7v0.7h-0.7zM160.5,427.9h0.7v0.7h-0.7zM156.9,409.2h0.7v0.7h-0.7zM165.3,424.4h0.7v0.7h-0.7zM164.9,415.4h0.7v0.7h-0.7zM150.1,407.3h0.7v0.7h-0.7zM157.3,408.7h0.7v0.7h-0.7zM164.5,410.3h0.7v0.7h-0.7zM165.7,413.7h0.7v0.7h-0.7zM159.0,413.9h0.7v0.7h-0.7zM163.6,419.9h0.7v0.7h-0.7zM158.1,411.1h0.7v0.7h-0.7zM152.8,425.8h0.7v0.7h-0.7zM169.7,411.6h0.7v0.7h-0.7zM158.1,403.1h0.7v0.7h-0.7zM162.0,414.7h0.7v0.7h-0.7zM174.1,415.0h0.7v0.7h-0.7zM156.3,393.4h0.7v0.7h-0.7zM169.5,414.5h0.7v0.7h-0.7zM151.3,414.4h0.7v0.7h-0.7zM151.3,440.8h0.7v0.7h-0.7zM167.7,417.6h0.7v0.7h-0.7zM159.9,395.9h0.7v0.7h-0.7zM160.2,400.6h0.7v0.7h-0.7zM164.6,395.9h0.7v0.7h-0.7zM155.6,422.8h0.7v0.7h-0.7zM170.9,403.6h0.7v0.7h-0.7zM151.8,420.0h0.7v0.7h-0.7zM166.1,405.1h0.7v0.7h-0.7zM156.8,407.4h0.7v0.7h-0.7zM153.9,407.6h0.7v0.7h-0.7zM168.5,418.5h0.7v0.7h-0.7zM173.3,412.3h0.7v0.7h-0.7zM160.2,405.1h0.7v0.7h-0.7zM160.3,402.5h0.7v0.7h-0.7zM150.3,418.6h0.7v0.7h-0.7zM169.6,419.7h0.7v0.7h-0.7zM169.0,415.0h0.7v0.7h-0.7zM156.7,413.7h0.7v0.7h-0.7zM158.8,404.1h0.7v0.7h-0.7zM150.8,401.1h0.7v0.7h-0.7zM161.0,414.2h0.7v0.7h-0.7zM158.2,424.4h0.7v0.7h-0.7zM162.1,417.7h0.7v0.7h-0.7zM168.3,406.4h0.7v0.7h-0.7zM149.2,419.0h0.7v0.7h-0.7zM156.9,423.5h0.7v0.7h-0.7zM163.0,421.1h0.7v0.7h-0.7zM165.6,396.4h0.7v0.7h-0.7zM165.3,407.6h0.7v0.7h-0.7zM156.5,409.5h0.7v0.7h-0.7zM165.6,420.1h0.7v0.7h-0.7zM167.1,399.7h0.7v0.7h-0.7zM157.5,394.0h0.7v0.7h-0.7zM160.4,417.8h0.7v0.7h-0.7zM156.4,415.0h0.7v0.7h-0.7zM162.4,421.1h0.7v0.7h-0.7zM156.1,406.4h0.7v0.7h-0.7zM156.4,427.0h0.7v0.7h-0.7zM167.5,412.0h0.7v0.7h-0.7zM162.4,413.9h0.7v0.7h-0.7zM162.2,411.3h0.7v0.7h-0.7zM159.0,402.9h0.7v0.7h-0.7zM157.1,426.2h0.7v0.7h-0.7zM164.2,413.5h0.7v0.7h-0.7zM159.7,413.5h0.7v0.7h-0.7zM163.1,407.8h0.7v0.7h-0.7zM162.2,414.9h0.7v0.7h-0.7zM156.5,406.7h0.7v0.7h-0.7zM155.0,404.5h0.7v0.7h-0.7zM166.3,394.1h0.7v0.7h-0.7zM159.4,408.1h0.7v0.7h-0.7zM157.3,413.8h0.7v0.7h-0.7zM167.8,413.6h0.7v0.7h-0.7zM160.2,408.1h0.7v0.7h-0.7zM160.2,420.3h0.7v0.7h-0.7zM158.6,403.8h0.7v0.7h-0.7zM153.4,404.1h0.7v0.7h-0.7zM152.7,421.8h0.7v0.7h-0.7zM163.1,411.1h0.7v0.7h-0.7zM169.8,407.7h0.7v0.7h-0.7zM165.5,419.4h0.7v0.7h-0.7zM151.7,400.5h0.7v0.7h-0.7zM155.4,420.3h0.7v0.7h-0.7zM168.8,403.2h0.7v0.7h-0.7zM167.3,409.9h0.7v0.7h-0.7zM158.6,408.6h0.7v0.7h-0.7zM159.1,398.5h0.7v0.7h-0.7zM155.0,403.1h0.7v0.7h-0.7zM163.9,429.7h0.7v0.7h-0.7zM177.4,410.3h0.7v0.7h-0.7zM150.7,409.7h0.7v0.7h-0.7zM155.4,428.9h0.7v0.7h-0.7zM164.4,407.2h0.7v0.7h-0.7zM166.6,417.3h0.7v0.7h-0.7zM151.2,408.7h0.7v0.7h-0.7zM159.6,413.2h0.7v0.7h-0.7zM161.8,410.3h0.7v0.7h-0.7zM162.1,408.3h0.7v0.7h-0.7zM155.6,425.1h0.7v0.7h-0.7zM163.2,416.5h0.7v0.7h-0.7zM151.4,411.7h0.7v0.7h-0.7zM165.9,402.7h0.7v0.7h-0.7zM167.6,409.9h0.7v0.7h-0.7zM163.4,411.9h0.7v0.7h-0.7zM162.3,422.6h0.7v0.7h-0.7zM158.6,425.5h0.7v0.7h-0.7zM156.3,405.5h0.7v0.7h-0.7zM165.3,404.5h0.7v0.7h-0.7z" fill="#6a7ee8" opacity="0.5"/>
<path d="M181.8,385.9h0.7v0.7h-0.7zM187.6,380.2h0.7v0.7h-0.7zM193.8,384.5h0.7v0.7h-0.7zM187.6,398.4h0.7v0.7h-0.7zM186.5,373.9h0.7v0.7h-0.7zM182.1,379.8h0.7v0.7h-0.7zM192.3,390.8h0.7v0.7h-0.7zM194.7,398.8h0.7v0.7h-0.7zM197.6,389.3h0.7v0.7h-0.7zM195.8,389.5h0.7v0.7h-0.7zM186.4,391.0h0.7v0.7h-0.7zM189.5,382.7h0.7v0.7h-0.7zM199.3,390.6h0.7v0.7h-0.7zM186.8,383.8h0.7v0.7h-0.7zM201.1,382.4h0.7v0.7h-0.7zM193.0,389.5h0.7v0.7h-0.7zM191.9,389.2h0.7v0.7h-0.7zM186.8,380.7h0.7v0.7h-0.7zM188.5,381.5h0.7v0.7h-0.7zM193.4,396.9h0.7v0.7h-0.7zM184.8,388.9h0.7v0.7h-0.7zM184.3,378.8h0.7v0.7h-0.7zM188.1,385.3h0.7v0.7h-0.7zM187.1,363.3h0.7v0.7h-0.7zM196.3,382.2h0.7v0.7h-0.7zM186.1,390.0h0.7v0.7h-0.7zM186.3,372.9h0.7v0.7h-0.7zM191.8,387.8h0.7v0.7h-0.7zM185.1,391.2h0.7v0.7h-0.7zM191.2,375.2h0.7v0.7h-0.7zM198.2,386.6h0.7v0.7h-0.7zM183.5,388.1h0.7v0.7h-0.7zM189.9,392.3h0.7v0.7h-0.7zM182.4,392.9h0.7v0.7h-0.7zM194.1,390.1h0.7v0.7h-0.7zM192.4,395.1h0.7v0.7h-0.7zM192.9,385.5h0.7v0.7h-0.7zM185.0,393.5h0.7v0.7h-0.7zM194.3,386.9h0.7v0.7h-0.7zM190.0,390.3h0.7v0.7h-0.7zM176.5,387.0h0.7v0.7h-0.7zM176.6,386.4h0.7v0.7h-0.7zM194.6,399.8h0.7v0.7h-0.7zM186.9,387.9h0.7v0.7h-0.7zM188.9,366.4h0.7v0.7h-0.7zM192.9,384.3h0.7v0.7h-0.7zM189.6,376.7h0.7v0.7h-0.7zM189.0,385.1h0.7v0.7h-0.7zM195.7,386.8h0.7v0.7h-0.7zM206.9,381.1h0.7v0.7h-0.7zM187.9,384.0h0.7v0.7h-0.7zM185.1,396.6h0.7v0.7h-0.7zM192.5,374.1h0.7v0.7h-0.7zM189.8,393.7h0.7v0.7h-0.7zM182.0,385.6h0.7v0.7h-0.7zM188.0,403.3h0.7v0.7h-0.7zM191.3,381.1h0.7v0.7h-0.7zM186.4,399.7h0.7v0.7h-0.7zM186.9,402.9h0.7v0.7h-0.7zM181.3,382.8h0.7v0.7h-0.7zM188.0,378.7h0.7v0.7h-0.7zM188.2,390.0h0.7v0.7h-0.7zM185.9,372.8h0.7v0.7h-0.7zM196.1,396.3h0.7v0.7h-0.7zM185.7,386.9h0.7v0.7h-0.7zM176.2,392.8h0.7v0.7h-0.7zM182.5,379.9h0.7v0.7h-0.7zM200.2,374.1h0.7v0.7h-0.7zM189.3,375.7h0.7v0.7h-0.7zM179.9,374.9h0.7v0.7h-0.7zM190.6,373.8h0.7v0.7h-0.7zM186.2,390.3h0.7v0.7h-0.7zM188.4,373.7h0.7v0.7h-0.7zM196.8,385.4h0.7v0.7h-0.7zM196.4,375.9h0.7v0.7h-0.7zM197.8,373.4h0.7v0.7h-0.7zM180.4,380.9h0.7v0.7h-0.7zM187.3,386.5h0.7v0.7h-0.7zM186.4,389.5h0.7v0.7h-0.7zM196.0,379.1h0.7v0.7h-0.7zM182.3,381.1h0.7v0.7h-0.7zM193.4,391.0h0.7v0.7h-0.7zM187.5,376.4h0.7v0.7h-0.7zM189.1,392.2h0.7v0.7h-0.7zM185.6,394.9h0.7v0.7h-0.7zM190.4,386.7h0.7v0.7h-0.7zM186.0,395.4h0.7v0.7h-0.7zM189.4,372.3h0.7v0.7h-0.7zM193.4,381.0h0.7v0.7h-0.7zM194.7,385.7h0.7v0.7h-0.7zM186.1,385.7h0.7v0.7h-0.7zM186.7,377.7h0.7v0.7h-0.7zM189.3,391.1h0.7v0.7h-0.7zM189.6,383.7h0.7v0.7h-0.7zM186.4,389.0h0.7v0.7h-0.7zM190.6,392.1h0.7v0.7h-0.7zM191.1,401.6h0.7v0.7h-0.7zM181.3,383.9h0.7v0.7h-0.7zM191.9,391.6h0.7v0.7h-0.7zM181.5,374.5h0.7v0.7h-0.7zM189.0,392.9h0.7v0.7h-0.7zM194.8,372.1h0.7v0.7h-0.7zM189.9,393.8h0.7v0.7h-0.7zM189.4,376.0h0.7v0.7h-0.7zM185.6,373.5h0.7v0.7h-0.7zM195.3,382.2h0.7v0.7h-0.7zM187.0,377.3h0.7v0.7h-0.7zM188.5,377.0h0.7v0.7h-0.7zM184.3,384.0h0.7v0.7h-0.7zM188.0,388.0h0.7v0.7h-0.7z" fill="#6a7ee8" opacity="0.5"/>
<path d="M183.3,426.2h0.7v0.7h-0.7zM177.7,386.6h0.7v0.7h-0.7zM186.3,416.0h0.7v0.7h-0.7zM187.4,414.8h0.7v0.7h-0.7zM183.6,401.7h0.7v0.7h-0.7zM178.6,406.4h0.7v0.7h-0.7zM181.6,420.3h0.7v0.7h-0.7zM189.7,394.0h0.7v0.7h-0.7zM190.4,408.9h0.7v0.7h-0.7zM193.8,427.4h0.7v0.7h-0.7zM189.3,387.8h0.7v0.7h-0.7zM190.1,390.4h0.7v0.7h-0.7zM197.5,401.3h0.7v0.7h-0.7zM183.3,431.4h0.7v0.7h-0.7zM170.6,409.7h0.7v0.7h-0.7zM176.2,403.0h0.7v0.7h-0.7zM178.4,417.6h0.7v0.7h-0.7zM182.4,413.5h0.7v0.7h-0.7zM190.1,388.6h0.7v0.7h-0.7zM196.2,406.3h0.7v0.7h-0.7zM171.5,401.3h0.7v0.7h-0.7zM192.0,421.5h0.7v0.7h-0.7zM179.3,410.6h0.7v0.7h-0.7zM186.9,422.0h0.7v0.7h-0.7zM183.8,421.3h0.7v0.7h-0.7zM177.7,400.6h0.7v0.7h-0.7zM190.3,418.2h0.7v0.7h-0.7zM184.5,416.8h0.7v0.7h-0.7zM186.6,418.8h0.7v0.7h-0.7zM194.4,415.7h0.7v0.7h-0.7zM191.6,404.6h0.7v0.7h-0.7zM180.4,380.6h0.7v0.7h-0.7zM188.3,409.8h0.7v0.7h-0.7zM189.3,386.5h0.7v0.7h-0.7zM181.0,402.6h0.7v0.7h-0.7zM170.2,420.5h0.7v0.7h-0.7zM194.9,393.8h0.7v0.7h-0.7zM188.6,430.5h0.7v0.7h-0.7zM175.0,421.5h0.7v0.7h-0.7zM197.9,432.3h0.7v0.7h-0.7zM173.8,396.4h0.7v0.7h-0.7zM186.6,424.2h0.7v0.7h-0.7zM174.7,400.2h0.7v0.7h-0.7zM175.8,423.0h0.7v0.7h-0.7zM180.4,416.4h0.7v0.7h-0.7zM190.2,423.6h0.7v0.7h-0.7zM188.4,413.6h0.7v0.7h-0.7zM194.4,415.3h0.7v0.7h-0.7zM174.6,402.8h0.7v0.7h-0.7zM192.4,411.1h0.7v0.7h-0.7zM182.1,412.4h0.7v0.7h-0.7zM212.1,408.8h0.7v0.7h-0.7zM188.9,415.0h0.7v0.7h-0.7zM182.7,424.1h0.7v0.7h-0.7zM192.0,414.3h0.7v0.7h-0.7zM173.8,424.9h0.7v0.7h-0.7zM191.2,408.4h0.7v0.7h-0.7zM162.8,408.7h0.7v0.7h-0.7zM175.0,406.6h0.7v0.7h-0.7zM180.7,399.2h0.7v0.7h-0.7z" fill="#9a8ee8" opacity="0.35"/>
<ellipse cx="161" cy="414" rx="12" ry="14" fill="url(#gL)"/>
<ellipse cx="160.5" cy="417" rx="6" ry="8" fill="url(#gB)"/>
<ellipse cx="160.5" cy="410.5" rx="8" ry="9.5" fill="url(#gD)"/>
<ellipse cx="188.5" cy="384" rx="4" ry="11" fill="url(#gB)" transform="rotate(35,188.5,384)"/>
<ellipse cx="193.5" cy="375" rx="5.5" ry="5.5" fill="url(#gG)"/>
</g>
<rect x="136.4" y="366.3" width="63.2" height="63.2" fill="none" stroke="#1e1e1e" stroke-width="1"/>
<line x1="172.5" y1="366.3" x2="172.5" y2="429.5" stroke="#1e1e1e" stroke-width="1"/>
<line x1="136.4" y1="383.5" x2="199.6" y2="383.5" stroke="#1e1e1e" stroke-width="1"/>
<text x="139.0" y="374.7">0.069</text>
<text x="194.1" y="374.7" text-anchor="end">21.1</text>
<text x="138.6" y="425.7">67.4</text>
<text x="194.1" y="425.7" text-anchor="end">11.5</text>
<line x1="143.8" y1="429.5" x2="143.8" y2="431.1" stroke="#1e1e1e" stroke-width="0.7"/>
<line x1="156.5" y1="429.5" x2="156.5" y2="431.1" stroke="#1e1e1e" stroke-width="0.7"/>
<line x1="169.20000000000002" y1="429.5" x2="169.20000000000002" y2="431.1" stroke="#1e1e1e" stroke-width="0.7"/>
<line x1="181.9" y1="429.5" x2="181.9" y2="431.1" stroke="#1e1e1e" stroke-width="0.7"/>
<line x1="194.60000000000002" y1="429.5" x2="194.60000000000002" y2="431.1" stroke="#1e1e1e" stroke-width="0.7"/>
<line x1="134.8" y1="372.1" x2="136.4" y2="372.1" stroke="#1e1e1e" stroke-width="0.7"/>
<text x="134.1" y="374.8" text-anchor="end" style="font-size:7.4px;">10<tspan style="font-size:5px" dy="-3">5</tspan></text>
<line x1="134.8" y1="384.85" x2="136.4" y2="384.85" stroke="#1e1e1e" stroke-width="0.7"/>
<text x="134.1" y="387.55" text-anchor="end" style="font-size:7.4px;">10<tspan style="font-size:5px" dy="-3">4</tspan></text>
<line x1="134.8" y1="397.6" x2="136.4" y2="397.6" stroke="#1e1e1e" stroke-width="0.7"/>
<text x="134.1" y="400.3" text-anchor="end" style="font-size:7.4px;">10<tspan style="font-size:5px" dy="-3">3</tspan></text>
<line x1="134.8" y1="410.35" x2="136.4" y2="410.35" stroke="#1e1e1e" stroke-width="0.7"/>
<text x="134.1" y="413.05" text-anchor="end" style="font-size:7.4px;">10<tspan style="font-size:5px" dy="-3">2</tspan></text>
<line x1="134.8" y1="423.1" x2="136.4" y2="423.1" stroke="#1e1e1e" stroke-width="0.7"/>
<text x="134.1" y="425.8" text-anchor="end" style="font-size:7.4px;">10<tspan style="font-size:5px" dy="-3">1</tspan></text>
<g clip-path="url(#cp2)">
<path d="M256.2,393.9h0.7v0.7h-0.7zM244.0,380.9h0.7v0.7h-0.7zM253.0,396.4h0.7v0.7h-0.7zM253.4,379.3h0.7v0.7h-0.7zM244.1,385.9h0.7v0.7h-0.7zM257.7,386.1h0.7v0.7h-0.7zM247.4,384.8h0.7v0.7h-0.7zM251.6,381.8h0.7v0.7h-0.7zM250.3,387.8h0.7v0.7h-0.7zM263.1,385.8h0.7v0.7h-0.7zM257.8,380.1h0.7v0.7h-0.7zM257.0,387.1h0.7v0.7h-0.7zM246.0,386.0h0.7v0.7h-0.7zM257.3,384.3h0.7v0.7h-0.7zM258.3,395.1h0.7v0.7h-0.7zM263.0,395.7h0.7v0.7h-0.7zM240.3,388.2h0.7v0.7h-0.7zM244.9,391.8h0.7v0.7h-0.7zM250.8,387.5h0.7v0.7h-0.7zM253.9,382.7h0.7v0.7h-0.7zM251.0,382.0h0.7v0.7h-0.7zM266.6,383.5h0.7v0.7h-0.7zM250.4,375.8h0.7v0.7h-0.7zM238.7,381.3h0.7v0.7h-0.7zM256.5,390.7h0.7v0.7h-0.7zM252.5,382.4h0.7v0.7h-0.7zM264.8,380.2h0.7v0.7h-0.7zM243.6,389.1h0.7v0.7h-0.7zM242.5,387.8h0.7v0.7h-0.7zM257.9,385.8h0.7v0.7h-0.7zM253.5,386.4h0.7v0.7h-0.7zM245.0,367.5h0.7v0.7h-0.7zM240.7,386.2h0.7v0.7h-0.7zM237.4,382.9h0.7v0.7h-0.7zM251.9,394.1h0.7v0.7h-0.7zM239.5,383.1h0.7v0.7h-0.7zM252.1,389.3h0.7v0.7h-0.7zM239.4,397.2h0.7v0.7h-0.7zM243.8,392.6h0.7v0.7h-0.7zM248.7,388.6h0.7v0.7h-0.7zM263.4,390.4h0.7v0.7h-0.7zM251.3,380.3h0.7v0.7h-0.7zM245.1,377.8h0.7v0.7h-0.7zM266.2,377.0h0.7v0.7h-0.7zM229.9,396.0h0.7v0.7h-0.7zM260.4,384.1h0.7v0.7h-0.7zM256.9,381.3h0.7v0.7h-0.7zM245.7,389.2h0.7v0.7h-0.7zM253.4,383.5h0.7v0.7h-0.7zM263.1,390.6h0.7v0.7h-0.7zM251.4,379.2h0.7v0.7h-0.7zM251.4,384.3h0.7v0.7h-0.7zM249.7,391.0h0.7v0.7h-0.7zM245.7,387.8h0.7v0.7h-0.7zM256.6,388.3h0.7v0.7h-0.7zM268.5,375.8h0.7v0.7h-0.7zM249.8,379.2h0.7v0.7h-0.7zM249.7,401.2h0.7v0.7h-0.7zM237.2,384.4h0.7v0.7h-0.7zM255.4,386.7h0.7v0.7h-0.7zM257.5,376.9h0.7v0.7h-0.7zM258.0,380.5h0.7v0.7h-0.7zM240.6,389.5h0.7v0.7h-0.7zM254.0,381.8h0.7v0.7h-0.7zM243.7,385.0h0.7v0.7h-0.7zM250.1,385.1h0.7v0.7h-0.7zM242.2,372.3h0.7v0.7h-0.7zM260.6,387.2h0.7v0.7h-0.7zM240.3,376.8h0.7v0.7h-0.7zM244.7,383.7h0.7v0.7h-0.7zM233.3,394.5h0.7v0.7h-0.7zM253.6,384.2h0.7v0.7h-0.7zM252.9,387.5h0.7v0.7h-0.7zM258.6,387.0h0.7v0.7h-0.7zM260.2,395.3h0.7v0.7h-0.7zM247.7,383.4h0.7v0.7h-0.7zM243.1,384.7h0.7v0.7h-0.7zM244.4,386.2h0.7v0.7h-0.7zM252.6,389.3h0.7v0.7h-0.7zM240.9,392.6h0.7v0.7h-0.7zM247.7,385.4h0.7v0.7h-0.7zM246.0,374.2h0.7v0.7h-0.7zM252.1,375.5h0.7v0.7h-0.7zM258.9,386.3h0.7v0.7h-0.7zM262.5,390.0h0.7v0.7h-0.7zM255.7,394.4h0.7v0.7h-0.7zM249.8,395.3h0.7v0.7h-0.7zM249.1,387.6h0.7v0.7h-0.7zM244.7,389.3h0.7v0.7h-0.7zM255.4,383.1h0.7v0.7h-0.7zM239.9,385.9h0.7v0.7h-0.7zM253.5,385.1h0.7v0.7h-0.7zM242.3,381.8h0.7v0.7h-0.7zM248.0,370.4h0.7v0.7h-0.7zM245.4,394.6h0.7v0.7h-0.7zM239.9,384.8h0.7v0.7h-0.7zM263.5,390.3h0.7v0.7h-0.7zM257.4,385.2h0.7v0.7h-0.7zM239.5,403.3h0.7v0.7h-0.7zM252.5,387.5h0.7v0.7h-0.7zM263.1,390.9h0.7v0.7h-0.7zM250.5,379.5h0.7v0.7h-0.7zM248.8,385.2h0.7v0.7h-0.7zM244.7,380.9h0.7v0.7h-0.7zM242.1,385.3h0.7v0.7h-0.7zM245.3,388.5h0.7v0.7h-0.7zM258.1,387.9h0.7v0.7h-0.7zM250.2,395.4h0.7v0.7h-0.7zM255.3,377.2h0.7v0.7h-0.7zM244.3,387.2h0.7v0.7h-0.7zM243.1,390.6h0.7v0.7h-0.7zM236.1,374.6h0.7v0.7h-0.7zM257.9,389.5h0.7v0.7h-0.7zM237.3,386.5h0.7v0.7h-0.7zM260.7,379.4h0.7v0.7h-0.7zM240.6,378.8h0.7v0.7h-0.7zM242.2,375.7h0.7v0.7h-0.7zM246.2,377.4h0.7v0.7h-0.7zM250.5,399.4h0.7v0.7h-0.7zM241.7,391.4h0.7v0.7h-0.7zM259.3,372.2h0.7v0.7h-0.7zM250.9,386.0h0.7v0.7h-0.7zM247.3,390.8h0.7v0.7h-0.7zM246.5,388.1h0.7v0.7h-0.7zM246.9,385.2h0.7v0.7h-0.7zM243.8,399.6h0.7v0.7h-0.7zM249.6,379.3h0.7v0.7h-0.7zM265.5,395.4h0.7v0.7h-0.7zM248.5,382.1h0.7v0.7h-0.7zM244.1,393.4h0.7v0.7h-0.7zM247.4,381.8h0.7v0.7h-0.7zM256.7,384.4h0.7v0.7h-0.7zM249.6,397.6h0.7v0.7h-0.7zM256.9,393.5h0.7v0.7h-0.7zM253.3,393.7h0.7v0.7h-0.7zM248.7,391.8h0.7v0.7h-0.7zM258.4,383.6h0.7v0.7h-0.7zM239.8,389.2h0.7v0.7h-0.7zM249.1,389.6h0.7v0.7h-0.7zM245.2,389.2h0.7v0.7h-0.7zM257.7,400.1h0.7v0.7h-0.7zM264.3,388.3h0.7v0.7h-0.7zM261.5,382.3h0.7v0.7h-0.7zM259.4,386.8h0.7v0.7h-0.7zM260.6,388.0h0.7v0.7h-0.7zM248.2,381.8h0.7v0.7h-0.7zM260.0,386.4h0.7v0.7h-0.7zM255.7,388.9h0.7v0.7h-0.7zM233.7,389.6h0.7v0.7h-0.7zM247.1,388.4h0.7v0.7h-0.7zM253.9,375.2h0.7v0.7h-0.7zM247.5,385.6h0.7v0.7h-0.7zM253.1,391.6h0.7v0.7h-0.7zM244.6,384.6h0.7v0.7h-0.7zM255.0,375.1h0.7v0.7h-0.7zM264.8,380.4h0.7v0.7h-0.7zM260.5,386.9h0.7v0.7h-0.7zM265.0,392.2h0.7v0.7h-0.7zM249.7,375.9h0.7v0.7h-0.7zM251.1,387.9h0.7v0.7h-0.7zM254.4,378.5h0.7v0.7h-0.7zM243.4,381.4h0.7v0.7h-0.7zM252.3,380.8h0.7v0.7h-0.7zM249.1,391.6h0.7v0.7h-0.7zM246.7,394.0h0.7v0.7h-0.7zM252.4,384.5h0.7v0.7h-0.7zM258.7,389.0h0.7v0.7h-0.7zM247.7,382.5h0.7v0.7h-0.7zM249.7,388.1h0.7v0.7h-0.7zM259.1,387.6h0.7v0.7h-0.7zM245.1,378.1h0.7v0.7h-0.7zM252.0,388.4h0.7v0.7h-0.7zM259.0,382.9h0.7v0.7h-0.7zM239.7,391.0h0.7v0.7h-0.7zM248.6,378.8h0.7v0.7h-0.7zM263.2,391.3h0.7v0.7h-0.7zM250.5,387.7h0.7v0.7h-0.7zM244.1,391.9h0.7v0.7h-0.7zM246.6,383.3h0.7v0.7h-0.7zM247.7,379.2h0.7v0.7h-0.7zM258.2,396.0h0.7v0.7h-0.7zM256.1,373.8h0.7v0.7h-0.7zM247.6,382.2h0.7v0.7h-0.7zM253.0,373.2h0.7v0.7h-0.7zM232.9,383.3h0.7v0.7h-0.7zM257.8,384.9h0.7v0.7h-0.7zM267.6,381.0h0.7v0.7h-0.7zM250.3,385.1h0.7v0.7h-0.7zM243.4,392.6h0.7v0.7h-0.7zM239.5,379.7h0.7v0.7h-0.7z" fill="#6a7ee8" opacity="0.5"/>
<path d="M230.4,407.3h0.7v0.7h-0.7zM241.1,410.7h0.7v0.7h-0.7zM229.2,410.3h0.7v0.7h-0.7zM226.6,404.3h0.7v0.7h-0.7zM230.5,405.7h0.7v0.7h-0.7zM231.5,406.9h0.7v0.7h-0.7zM222.0,401.1h0.7v0.7h-0.7zM225.4,397.6h0.7v0.7h-0.7zM228.2,406.5h0.7v0.7h-0.7zM231.9,403.5h0.7v0.7h-0.7zM227.7,411.0h0.7v0.7h-0.7zM231.2,402.6h0.7v0.7h-0.7zM234.1,404.7h0.7v0.7h-0.7zM232.9,406.4h0.7v0.7h-0.7zM227.0,401.5h0.7v0.7h-0.7zM228.0,420.5h0.7v0.7h-0.7zM226.2,416.1h0.7v0.7h-0.7zM233.4,406.0h0.7v0.7h-0.7zM232.6,415.3h0.7v0.7h-0.7zM227.4,405.2h0.7v0.7h-0.7zM232.6,409.9h0.7v0.7h-0.7zM236.3,410.3h0.7v0.7h-0.7zM224.3,407.8h0.7v0.7h-0.7zM224.2,412.0h0.7v0.7h-0.7zM231.1,405.9h0.7v0.7h-0.7zM225.3,412.7h0.7v0.7h-0.7zM227.1,414.4h0.7v0.7h-0.7zM224.9,406.6h0.7v0.7h-0.7zM226.5,402.6h0.7v0.7h-0.7zM238.5,416.8h0.7v0.7h-0.7zM226.2,412.2h0.7v0.7h-0.7zM221.9,414.6h0.7v0.7h-0.7zM232.5,406.2h0.7v0.7h-0.7zM227.2,409.3h0.7v0.7h-0.7zM230.2,406.1h0.7v0.7h-0.7zM225.4,406.7h0.7v0.7h-0.7zM226.9,412.1h0.7v0.7h-0.7zM228.8,409.3h0.7v0.7h-0.7zM222.4,406.0h0.7v0.7h-0.7zM227.1,405.3h0.7v0.7h-0.7zM228.1,406.5h0.7v0.7h-0.7zM222.9,413.0h0.7v0.7h-0.7zM231.9,405.4h0.7v0.7h-0.7zM230.8,403.2h0.7v0.7h-0.7zM223.9,407.0h0.7v0.7h-0.7zM234.3,407.5h0.7v0.7h-0.7zM222.9,409.4h0.7v0.7h-0.7zM226.5,404.3h0.7v0.7h-0.7zM229.9,399.0h0.7v0.7h-0.7zM222.0,400.5h0.7v0.7h-0.7zM232.6,408.7h0.7v0.7h-0.7zM226.4,404.6h0.7v0.7h-0.7zM231.0,414.8h0.7v0.7h-0.7zM226.0,409.6h0.7v0.7h-0.7zM237.3,411.4h0.7v0.7h-0.7zM227.4,410.0h0.7v0.7h-0.7zM229.1,411.8h0.7v0.7h-0.7zM230.0,405.6h0.7v0.7h-0.7zM228.2,410.2h0.7v0.7h-0.7zM226.2,408.6h0.7v0.7h-0.7zM225.3,414.8h0.7v0.7h-0.7zM234.4,403.7h0.7v0.7h-0.7zM231.8,409.2h0.7v0.7h-0.7zM229.0,406.9h0.7v0.7h-0.7zM229.7,413.6h0.7v0.7h-0.7zM224.2,413.6h0.7v0.7h-0.7zM227.7,402.5h0.7v0.7h-0.7zM228.5,411.6h0.7v0.7h-0.7zM228.4,409.8h0.7v0.7h-0.7zM227.5,405.5h0.7v0.7h-0.7zM232.4,403.4h0.7v0.7h-0.7zM232.4,410.1h0.7v0.7h-0.7zM227.7,407.1h0.7v0.7h-0.7zM227.6,408.1h0.7v0.7h-0.7zM228.5,407.6h0.7v0.7h-0.7zM221.6,397.3h0.7v0.7h-0.7zM230.0,405.0h0.7v0.7h-0.7zM226.6,407.4h0.7v0.7h-0.7zM224.7,416.4h0.7v0.7h-0.7zM228.7,407.4h0.7v0.7h-0.7zM224.9,412.9h0.7v0.7h-0.7zM231.3,416.0h0.7v0.7h-0.7zM232.0,404.1h0.7v0.7h-0.7zM224.1,415.4h0.7v0.7h-0.7zM226.2,407.7h0.7v0.7h-0.7zM228.1,410.9h0.7v0.7h-0.7zM230.7,402.9h0.7v0.7h-0.7zM226.4,399.3h0.7v0.7h-0.7zM230.7,407.5h0.7v0.7h-0.7zM222.6,413.7h0.7v0.7h-0.7z" fill="#6a7ee8" opacity="0.5"/>
<path d="M266.7,391.7h0.7v0.7h-0.7zM248.3,401.9h0.7v0.7h-0.7zM236.2,398.1h0.7v0.7h-0.7zM239.8,403.8h0.7v0.7h-0.7zM248.9,417.2h0.7v0.7h-0.7zM247.0,418.0h0.7v0.7h-0.7zM249.2,405.8h0.7v0.7h-0.7zM242.4,392.8h0.7v0.7h-0.7zM228.8,403.5h0.7v0.7h-0.7zM242.8,408.2h0.7v0.7h-0.7zM247.8,389.3h0.7v0.7h-0.7zM237.4,391.0h0.7v0.7h-0.7zM254.3,402.9h0.7v0.7h-0.7zM245.6,393.5h0.7v0.7h-0.7zM231.8,397.3h0.7v0.7h-0.7zM243.3,409.7h0.7v0.7h-0.7zM229.3,408.1h0.7v0.7h-0.7zM235.8,398.0h0.7v0.7h-0.7zM241.0,399.1h0.7v0.7h-0.7zM248.8,414.6h0.7v0.7h-0.7zM247.7,397.8h0.7v0.7h-0.7zM248.4,408.6h0.7v0.7h-0.7zM252.8,407.3h0.7v0.7h-0.7zM228.4,395.2h0.7v0.7h-0.7zM240.3,415.1h0.7v0.7h-0.7zM243.0,414.9h0.7v0.7h-0.7zM247.2,390.1h0.7v0.7h-0.7zM244.7,410.7h0.7v0.7h-0.7zM248.3,386.6h0.7v0.7h-0.7zM248.5,397.2h0.7v0.7h-0.7zM223.5,397.4h0.7v0.7h-0.7zM224.9,389.1h0.7v0.7h-0.7zM258.5,433.3h0.7v0.7h-0.7zM254.7,409.3h0.7v0.7h-0.7zM263.0,408.2h0.7v0.7h-0.7zM234.6,375.1h0.7v0.7h-0.7zM253.3,377.5h0.7v0.7h-0.7zM216.1,396.4h0.7v0.7h-0.7zM244.9,393.9h0.7v0.7h-0.7zM254.6,403.1h0.7v0.7h-0.7zM246.4,409.5h0.7v0.7h-0.7zM238.5,406.7h0.7v0.7h-0.7zM267.4,393.1h0.7v0.7h-0.7zM246.0,410.5h0.7v0.7h-0.7zM239.0,403.7h0.7v0.7h-0.7zM227.4,399.1h0.7v0.7h-0.7zM244.8,417.6h0.7v0.7h-0.7zM253.8,397.4h0.7v0.7h-0.7zM233.4,426.2h0.7v0.7h-0.7zM253.3,381.5h0.7v0.7h-0.7z" fill="#9a8ee8" opacity="0.35"/>
<ellipse cx="250" cy="388.5" rx="11" ry="7.5" fill="url(#gB)"/>
<ellipse cx="228.5" cy="408" rx="4" ry="7.5" fill="url(#gB)" transform="rotate(30,228.5,408)"/>
<ellipse cx="252.8" cy="376.8" rx="12" ry="5.8" fill="url(#gR)"/>
</g>
<rect x="202.6" y="366.3" width="63.6" height="63.2" fill="none" stroke="#1e1e1e" stroke-width="1"/>
<line x1="239.0" y1="366.3" x2="239.0" y2="429.5" stroke="#1e1e1e" stroke-width="1"/>
<line x1="202.6" y1="382.9" x2="266.2" y2="382.9" stroke="#1e1e1e" stroke-width="1"/>
<text x="205.2" y="374.7">0.063</text>
<text x="260.7" y="374.7" text-anchor="end">75.1</text>
<text x="204.79999999999998" y="425.7">8.94</text>
<text x="260.7" y="425.7" text-anchor="end">15.9</text>
<line x1="210.0" y1="429.5" x2="210.0" y2="431.1" stroke="#1e1e1e" stroke-width="0.7"/>
<line x1="222.7" y1="429.5" x2="222.7" y2="431.1" stroke="#1e1e1e" stroke-width="0.7"/>
<line x1="235.4" y1="429.5" x2="235.4" y2="431.1" stroke="#1e1e1e" stroke-width="0.7"/>
<line x1="248.1" y1="429.5" x2="248.1" y2="431.1" stroke="#1e1e1e" stroke-width="0.7"/>
<line x1="260.8" y1="429.5" x2="260.8" y2="431.1" stroke="#1e1e1e" stroke-width="0.7"/>
<line x1="201.4" y1="372.1" x2="202.6" y2="372.1" stroke="#1e1e1e" stroke-width="0.7"/>
<line x1="201.4" y1="384.85" x2="202.6" y2="384.85" stroke="#1e1e1e" stroke-width="0.7"/>
<line x1="201.4" y1="397.6" x2="202.6" y2="397.6" stroke="#1e1e1e" stroke-width="0.7"/>
<line x1="201.4" y1="410.35" x2="202.6" y2="410.35" stroke="#1e1e1e" stroke-width="0.7"/>
<line x1="201.4" y1="423.1" x2="202.6" y2="423.1" stroke="#1e1e1e" stroke-width="0.7"/>
<g clip-path="url(#cp3)">
<path d="M161.9,477.3h0.7v0.7h-0.7zM151.9,484.6h0.7v0.7h-0.7zM160.9,480.0h0.7v0.7h-0.7zM160.2,490.4h0.7v0.7h-0.7zM164.9,487.5h0.7v0.7h-0.7zM157.3,473.3h0.7v0.7h-0.7zM152.6,475.1h0.7v0.7h-0.7zM141.9,491.0h0.7v0.7h-0.7zM160.0,477.9h0.7v0.7h-0.7zM164.7,474.0h0.7v0.7h-0.7zM160.7,483.8h0.7v0.7h-0.7zM149.1,492.0h0.7v0.7h-0.7zM160.0,482.4h0.7v0.7h-0.7zM152.5,471.9h0.7v0.7h-0.7zM170.0,472.6h0.7v0.7h-0.7zM156.5,481.3h0.7v0.7h-0.7zM168.3,456.4h0.7v0.7h-0.7zM168.6,479.5h0.7v0.7h-0.7zM164.9,468.5h0.7v0.7h-0.7zM161.1,491.0h0.7v0.7h-0.7zM158.5,471.8h0.7v0.7h-0.7zM156.3,472.6h0.7v0.7h-0.7zM164.2,478.9h0.7v0.7h-0.7zM156.0,483.9h0.7v0.7h-0.7zM152.1,464.9h0.7v0.7h-0.7zM174.9,471.7h0.7v0.7h-0.7zM169.6,476.4h0.7v0.7h-0.7zM157.7,481.7h0.7v0.7h-0.7zM153.6,469.9h0.7v0.7h-0.7zM157.8,473.8h0.7v0.7h-0.7zM163.8,493.9h0.7v0.7h-0.7zM151.6,469.7h0.7v0.7h-0.7zM164.0,481.6h0.7v0.7h-0.7zM166.3,470.8h0.7v0.7h-0.7zM163.0,476.7h0.7v0.7h-0.7zM148.7,481.0h0.7v0.7h-0.7zM149.1,481.8h0.7v0.7h-0.7zM156.2,475.5h0.7v0.7h-0.7zM172.9,490.3h0.7v0.7h-0.7zM161.9,480.6h0.7v0.7h-0.7zM154.2,487.9h0.7v0.7h-0.7zM163.1,469.8h0.7v0.7h-0.7zM148.4,477.2h0.7v0.7h-0.7zM158.0,484.6h0.7v0.7h-0.7zM152.5,469.6h0.7v0.7h-0.7zM161.8,477.9h0.7v0.7h-0.7zM165.2,486.8h0.7v0.7h-0.7zM153.3,456.9h0.7v0.7h-0.7zM159.5,470.9h0.7v0.7h-0.7zM160.7,453.9h0.7v0.7h-0.7zM158.5,478.0h0.7v0.7h-0.7zM155.5,481.6h0.7v0.7h-0.7zM159.8,479.2h0.7v0.7h-0.7zM167.5,488.3h0.7v0.7h-0.7zM166.9,480.4h0.7v0.7h-0.7zM160.1,482.0h0.7v0.7h-0.7zM161.2,470.9h0.7v0.7h-0.7zM161.7,485.1h0.7v0.7h-0.7zM156.5,467.8h0.7v0.7h-0.7zM162.9,470.7h0.7v0.7h-0.7zM149.6,475.1h0.7v0.7h-0.7zM149.7,480.0h0.7v0.7h-0.7zM155.9,477.9h0.7v0.7h-0.7zM166.5,486.8h0.7v0.7h-0.7zM158.5,457.9h0.7v0.7h-0.7zM156.1,467.2h0.7v0.7h-0.7zM164.9,490.5h0.7v0.7h-0.7zM163.6,482.7h0.7v0.7h-0.7zM162.7,483.1h0.7v0.7h-0.7zM156.8,484.9h0.7v0.7h-0.7zM157.2,467.3h0.7v0.7h-0.7zM159.5,490.9h0.7v0.7h-0.7zM157.9,462.1h0.7v0.7h-0.7zM167.1,479.3h0.7v0.7h-0.7zM162.7,473.2h0.7v0.7h-0.7zM162.3,491.0h0.7v0.7h-0.7zM155.0,483.1h0.7v0.7h-0.7zM161.4,469.8h0.7v0.7h-0.7zM160.3,482.3h0.7v0.7h-0.7zM153.8,487.2h0.7v0.7h-0.7zM152.0,487.1h0.7v0.7h-0.7zM163.2,479.4h0.7v0.7h-0.7zM154.1,470.5h0.7v0.7h-0.7zM145.0,477.0h0.7v0.7h-0.7zM158.4,482.0h0.7v0.7h-0.7zM165.7,478.9h0.7v0.7h-0.7zM157.0,485.7h0.7v0.7h-0.7zM159.1,477.0h0.7v0.7h-0.7zM151.7,486.2h0.7v0.7h-0.7zM154.9,493.8h0.7v0.7h-0.7zM153.6,473.1h0.7v0.7h-0.7zM159.7,471.3h0.7v0.7h-0.7zM149.8,467.5h0.7v0.7h-0.7zM153.9,475.2h0.7v0.7h-0.7zM165.5,482.9h0.7v0.7h-0.7zM161.2,484.1h0.7v0.7h-0.7zM145.2,472.0h0.7v0.7h-0.7zM155.6,468.4h0.7v0.7h-0.7zM162.2,471.7h0.7v0.7h-0.7zM152.1,484.8h0.7v0.7h-0.7zM155.0,475.1h0.7v0.7h-0.7zM149.5,484.9h0.7v0.7h-0.7zM159.5,489.5h0.7v0.7h-0.7zM173.2,482.9h0.7v0.7h-0.7zM156.9,470.5h0.7v0.7h-0.7zM169.6,475.5h0.7v0.7h-0.7zM163.2,479.3h0.7v0.7h-0.7zM137.7,478.5h0.7v0.7h-0.7zM160.2,478.9h0.7v0.7h-0.7zM158.3,479.2h0.7v0.7h-0.7zM152.7,482.4h0.7v0.7h-0.7zM155.9,478.6h0.7v0.7h-0.7zM169.7,479.1h0.7v0.7h-0.7zM152.6,480.4h0.7v0.7h-0.7zM150.0,478.7h0.7v0.7h-0.7zM168.1,468.2h0.7v0.7h-0.7zM158.2,469.8h0.7v0.7h-0.7zM160.3,480.0h0.7v0.7h-0.7zM160.3,474.9h0.7v0.7h-0.7zM147.1,469.6h0.7v0.7h-0.7zM156.4,484.1h0.7v0.7h-0.7zM146.4,486.5h0.7v0.7h-0.7zM154.4,463.0h0.7v0.7h-0.7zM168.4,480.1h0.7v0.7h-0.7zM153.2,479.5h0.7v0.7h-0.7zM163.0,465.1h0.7v0.7h-0.7zM167.3,470.0h0.7v0.7h-0.7zM164.4,472.5h0.7v0.7h-0.7zM149.1,472.2h0.7v0.7h-0.7zM155.9,478.3h0.7v0.7h-0.7zM148.6,468.7h0.7v0.7h-0.7zM161.1,474.0h0.7v0.7h-0.7zM155.8,480.9h0.7v0.7h-0.7zM150.8,494.0h0.7v0.7h-0.7zM154.4,480.3h0.7v0.7h-0.7zM158.1,485.5h0.7v0.7h-0.7zM156.3,470.6h0.7v0.7h-0.7zM160.7,482.3h0.7v0.7h-0.7zM158.2,494.4h0.7v0.7h-0.7zM163.9,488.7h0.7v0.7h-0.7zM167.2,485.8h0.7v0.7h-0.7zM158.0,490.8h0.7v0.7h-0.7zM156.8,478.3h0.7v0.7h-0.7zM167.9,485.0h0.7v0.7h-0.7zM152.3,474.6h0.7v0.7h-0.7zM153.5,486.8h0.7v0.7h-0.7zM156.9,477.3h0.7v0.7h-0.7zM154.8,472.9h0.7v0.7h-0.7zM163.3,468.7h0.7v0.7h-0.7zM159.5,473.0h0.7v0.7h-0.7zM156.8,466.4h0.7v0.7h-0.7zM166.4,463.6h0.7v0.7h-0.7zM151.4,473.6h0.7v0.7h-0.7zM159.5,470.8h0.7v0.7h-0.7zM148.9,473.1h0.7v0.7h-0.7zM152.8,471.4h0.7v0.7h-0.7zM169.1,459.9h0.7v0.7h-0.7zM158.9,480.1h0.7v0.7h-0.7zM156.4,474.0h0.7v0.7h-0.7zM165.7,475.3h0.7v0.7h-0.7zM148.2,473.9h0.7v0.7h-0.7zM161.3,473.8h0.7v0.7h-0.7zM155.4,478.5h0.7v0.7h-0.7zM155.9,478.1h0.7v0.7h-0.7zM163.0,471.8h0.7v0.7h-0.7zM149.2,487.9h0.7v0.7h-0.7zM161.4,470.5h0.7v0.7h-0.7zM150.1,477.0h0.7v0.7h-0.7zM160.2,481.0h0.7v0.7h-0.7zM161.2,473.3h0.7v0.7h-0.7zM156.4,464.4h0.7v0.7h-0.7zM154.4,473.0h0.7v0.7h-0.7zM165.6,466.0h0.7v0.7h-0.7zM170.5,484.4h0.7v0.7h-0.7zM155.8,472.0h0.7v0.7h-0.7zM160.3,480.2h0.7v0.7h-0.7zM163.4,462.6h0.7v0.7h-0.7zM156.8,481.1h0.7v0.7h-0.7zM164.6,480.7h0.7v0.7h-0.7zM158.4,479.5h0.7v0.7h-0.7z" fill="#6a7ee8" opacity="0.5"/>
<path d="M184.7,454.6h0.7v0.7h-0.7zM176.8,468.2h0.7v0.7h-0.7zM171.4,452.3h0.7v0.7h-0.7zM186.8,457.6h0.7v0.7h-0.7zM185.0,443.9h0.7v0.7h-0.7zM192.7,446.4h0.7v0.7h-0.7zM180.8,452.2h0.7v0.7h-0.7zM181.1,447.8h0.7v0.7h-0.7zM190.7,452.8h0.7v0.7h-0.7zM187.3,439.3h0.7v0.7h-0.7zM184.9,450.5h0.7v0.7h-0.7zM183.7,454.0h0.7v0.7h-0.7zM183.9,451.5h0.7v0.7h-0.7zM181.7,453.4h0.7v0.7h-0.7zM182.6,452.7h0.7v0.7h-0.7zM178.8,455.8h0.7v0.7h-0.7zM175.9,469.1h0.7v0.7h-0.7zM186.5,464.8h0.7v0.7h-0.7zM180.4,441.7h0.7v0.7h-0.7zM171.9,445.7h0.7v0.7h-0.7zM177.3,449.0h0.7v0.7h-0.7zM178.9,457.3h0.7v0.7h-0.7zM166.6,465.8h0.7v0.7h-0.7zM179.0,453.4h0.7v0.7h-0.7zM170.1,454.1h0.7v0.7h-0.7zM172.2,456.2h0.7v0.7h-0.7zM182.8,453.6h0.7v0.7h-0.7zM180.0,449.9h0.7v0.7h-0.7zM179.1,459.5h0.7v0.7h-0.7zM181.6,454.0h0.7v0.7h-0.7zM195.8,452.8h0.7v0.7h-0.7zM175.4,433.7h0.7v0.7h-0.7zM166.1,453.0h0.7v0.7h-0.7zM186.4,443.6h0.7v0.7h-0.7zM173.9,450.5h0.7v0.7h-0.7zM181.9,459.7h0.7v0.7h-0.7zM180.3,446.8h0.7v0.7h-0.7zM185.2,444.3h0.7v0.7h-0.7zM172.2,443.0h0.7v0.7h-0.7zM179.0,448.5h0.7v0.7h-0.7zM181.0,452.4h0.7v0.7h-0.7zM195.5,455.4h0.7v0.7h-0.7zM167.8,440.4h0.7v0.7h-0.7zM182.0,445.2h0.7v0.7h-0.7zM194.3,448.3h0.7v0.7h-0.7zM178.6,452.9h0.7v0.7h-0.7zM179.5,456.4h0.7v0.7h-0.7zM179.3,454.5h0.7v0.7h-0.7zM177.2,430.3h0.7v0.7h-0.7zM183.5,465.5h0.7v0.7h-0.7zM175.1,447.4h0.7v0.7h-0.7zM185.9,447.7h0.7v0.7h-0.7zM181.7,450.1h0.7v0.7h-0.7zM184.7,450.9h0.7v0.7h-0.7zM193.4,452.4h0.7v0.7h-0.7zM179.4,440.2h0.7v0.7h-0.7zM181.6,444.3h0.7v0.7h-0.7zM185.0,456.6h0.7v0.7h-0.7zM197.2,445.5h0.7v0.7h-0.7zM181.8,460.6h0.7v0.7h-0.7zM168.6,457.3h0.7v0.7h-0.7zM192.3,452.5h0.7v0.7h-0.7zM180.8,462.1h0.7v0.7h-0.7zM182.7,454.4h0.7v0.7h-0.7zM186.3,445.7h0.7v0.7h-0.7zM192.8,449.2h0.7v0.7h-0.7zM181.0,448.8h0.7v0.7h-0.7zM165.2,438.7h0.7v0.7h-0.7zM178.8,451.9h0.7v0.7h-0.7zM188.1,473.8h0.7v0.7h-0.7zM185.5,451.1h0.7v0.7h-0.7zM177.0,463.5h0.7v0.7h-0.7zM177.2,451.8h0.7v0.7h-0.7zM189.3,450.9h0.7v0.7h-0.7zM180.2,453.3h0.7v0.7h-0.7zM171.0,451.1h0.7v0.7h-0.7zM182.1,455.1h0.7v0.7h-0.7zM178.8,434.2h0.7v0.7h-0.7zM176.1,458.3h0.7v0.7h-0.7zM176.2,444.7h0.7v0.7h-0.7zM184.3,456.6h0.7v0.7h-0.7zM182.1,457.1h0.7v0.7h-0.7zM186.1,456.2h0.7v0.7h-0.7zM183.2,467.2h0.7v0.7h-0.7zM174.3,470.5h0.7v0.7h-0.7zM182.8,446.1h0.7v0.7h-0.7zM185.4,460.6h0.7v0.7h-0.7zM173.7,453.6h0.7v0.7h-0.7zM186.3,458.9h0.7v0.7h-0.7zM181.4,443.3h0.7v0.7h-0.7zM180.6,470.1h0.7v0.7h-0.7zM175.4,477.1h0.7v0.7h-0.7zM180.8,451.5h0.7v0.7h-0.7zM177.8,453.5h0.7v0.7h-0.7zM182.4,443.9h0.7v0.7h-0.7zM193.7,462.1h0.7v0.7h-0.7zM183.5,441.6h0.7v0.7h-0.7zM178.9,450.7h0.7v0.7h-0.7zM186.1,451.3h0.7v0.7h-0.7zM174.1,450.6h0.7v0.7h-0.7zM179.9,452.3h0.7v0.7h-0.7zM186.5,446.2h0.7v0.7h-0.7zM171.7,461.9h0.7v0.7h-0.7zM187.1,442.2h0.7v0.7h-0.7zM185.7,447.9h0.7v0.7h-0.7zM185.4,456.5h0.7v0.7h-0.7zM172.5,443.6h0.7v0.7h-0.7zM180.2,440.8h0.7v0.7h-0.7zM173.8,445.0h0.7v0.7h-0.7zM180.1,451.4h0.7v0.7h-0.7zM176.4,450.1h0.7v0.7h-0.7zM188.4,456.8h0.7v0.7h-0.7zM183.6,446.5h0.7v0.7h-0.7zM177.0,442.2h0.7v0.7h-0.7zM175.9,437.3h0.7v0.7h-0.7zM180.2,448.9h0.7v0.7h-0.7zM176.9,447.0h0.7v0.7h-0.7zM173.2,458.0h0.7v0.7h-0.7zM184.9,462.0h0.7v0.7h-0.7zM183.2,450.8h0.7v0.7h-0.7zM186.6,441.9h0.7v0.7h-0.7zM172.6,459.7h0.7v0.7h-0.7zM184.1,454.3h0.7v0.7h-0.7zM189.4,451.8h0.7v0.7h-0.7zM182.6,455.7h0.7v0.7h-0.7zM173.9,455.3h0.7v0.7h-0.7zM184.8,451.7h0.7v0.7h-0.7zM176.7,445.5h0.7v0.7h-0.7zM167.6,445.3h0.7v0.7h-0.7zM189.4,462.3h0.7v0.7h-0.7zM180.5,445.7h0.7v0.7h-0.7zM188.2,461.1h0.7v0.7h-0.7zM184.3,446.1h0.7v0.7h-0.7zM185.9,459.8h0.7v0.7h-0.7zM178.3,445.4h0.7v0.7h-0.7zM178.6,454.0h0.7v0.7h-0.7zM183.7,456.4h0.7v0.7h-0.7zM181.2,447.9h0.7v0.7h-0.7zM183.2,460.5h0.7v0.7h-0.7zM182.1,457.7h0.7v0.7h-0.7z" fill="#6a7ee8" opacity="0.5"/>
<path d="M171.1,474.6h0.7v0.7h-0.7zM182.3,473.4h0.7v0.7h-0.7zM171.5,464.5h0.7v0.7h-0.7zM183.8,476.9h0.7v0.7h-0.7zM174.4,469.8h0.7v0.7h-0.7zM161.8,479.5h0.7v0.7h-0.7zM172.5,478.3h0.7v0.7h-0.7zM189.3,475.6h0.7v0.7h-0.7zM178.1,487.3h0.7v0.7h-0.7zM177.7,480.1h0.7v0.7h-0.7zM171.1,470.8h0.7v0.7h-0.7zM167.9,487.8h0.7v0.7h-0.7zM188.0,475.0h0.7v0.7h-0.7zM178.5,475.9h0.7v0.7h-0.7zM198.4,488.7h0.7v0.7h-0.7zM179.0,486.1h0.7v0.7h-0.7zM189.3,470.9h0.7v0.7h-0.7zM184.4,485.5h0.7v0.7h-0.7zM180.3,487.2h0.7v0.7h-0.7zM188.5,480.4h0.7v0.7h-0.7zM177.7,488.5h0.7v0.7h-0.7zM181.3,484.0h0.7v0.7h-0.7zM193.9,483.8h0.7v0.7h-0.7zM179.9,468.5h0.7v0.7h-0.7zM182.8,483.6h0.7v0.7h-0.7zM184.5,485.4h0.7v0.7h-0.7zM185.3,482.6h0.7v0.7h-0.7zM181.3,485.6h0.7v0.7h-0.7zM175.6,471.8h0.7v0.7h-0.7zM173.5,481.4h0.7v0.7h-0.7zM168.1,476.2h0.7v0.7h-0.7zM179.0,483.2h0.7v0.7h-0.7zM173.2,481.0h0.7v0.7h-0.7zM180.6,475.7h0.7v0.7h-0.7zM180.8,478.9h0.7v0.7h-0.7zM172.7,477.4h0.7v0.7h-0.7zM174.1,497.3h0.7v0.7h-0.7zM178.8,474.9h0.7v0.7h-0.7zM170.4,480.4h0.7v0.7h-0.7zM182.9,480.8h0.7v0.7h-0.7zM170.9,471.3h0.7v0.7h-0.7zM172.9,482.2h0.7v0.7h-0.7zM174.6,479.7h0.7v0.7h-0.7zM192.8,463.9h0.7v0.7h-0.7zM178.6,480.2h0.7v0.7h-0.7zM169.9,489.8h0.7v0.7h-0.7zM178.5,483.8h0.7v0.7h-0.7zM184.4,493.0h0.7v0.7h-0.7zM175.9,474.9h0.7v0.7h-0.7zM171.6,469.3h0.7v0.7h-0.7zM192.9,476.4h0.7v0.7h-0.7zM168.3,486.6h0.7v0.7h-0.7zM192.6,471.8h0.7v0.7h-0.7zM180.0,468.0h0.7v0.7h-0.7zM166.4,478.7h0.7v0.7h-0.7zM172.1,469.8h0.7v0.7h-0.7zM180.4,483.9h0.7v0.7h-0.7zM178.8,491.8h0.7v0.7h-0.7zM175.8,477.3h0.7v0.7h-0.7zM186.4,500.4h0.7v0.7h-0.7z" fill="#9a8ee8" opacity="0.35"/>
<ellipse cx="159" cy="478" rx="12" ry="14" fill="url(#gL)"/>
<ellipse cx="159" cy="476.5" rx="8" ry="10" fill="url(#gD)"/>
<ellipse cx="180" cy="458" rx="6" ry="7.5" fill="url(#gB)" transform="rotate(15,180,458)"/>
<ellipse cx="182" cy="447.5" rx="11" ry="5.5" fill="url(#gG)"/>
</g>
<rect x="136.4" y="433.6" width="63.2" height="63.2" fill="none" stroke="#1e1e1e" stroke-width="1"/>
<line x1="172.3" y1="433.6" x2="172.3" y2="496.8" stroke="#1e1e1e" stroke-width="1"/>
<line x1="136.4" y1="450.3" x2="199.6" y2="450.3" stroke="#1e1e1e" stroke-width="1"/>
<text x="139.0" y="442.0">1.47</text>
<text x="194.1" y="442.0" text-anchor="end">25.4</text>
<text x="138.6" y="493.0">54.7</text>
<text x="194.1" y="493.0" text-anchor="end">18.3</text>
<line x1="143.8" y1="496.8" x2="143.8" y2="498.40000000000003" stroke="#1e1e1e" stroke-width="0.7"/>
<line x1="156.5" y1="496.8" x2="156.5" y2="498.40000000000003" stroke="#1e1e1e" stroke-width="0.7"/>
<line x1="169.20000000000002" y1="496.8" x2="169.20000000000002" y2="498.40000000000003" stroke="#1e1e1e" stroke-width="0.7"/>
<line x1="181.9" y1="496.8" x2="181.9" y2="498.40000000000003" stroke="#1e1e1e" stroke-width="0.7"/>
<line x1="194.60000000000002" y1="496.8" x2="194.60000000000002" y2="498.40000000000003" stroke="#1e1e1e" stroke-width="0.7"/>
<line x1="134.8" y1="439.40000000000003" x2="136.4" y2="439.40000000000003" stroke="#1e1e1e" stroke-width="0.7"/>
<text x="134.1" y="442.1" text-anchor="end" style="font-size:7.4px;">10<tspan style="font-size:5px" dy="-3">5</tspan></text>
<line x1="134.8" y1="452.15000000000003" x2="136.4" y2="452.15000000000003" stroke="#1e1e1e" stroke-width="0.7"/>
<text x="134.1" y="454.85" text-anchor="end" style="font-size:7.4px;">10<tspan style="font-size:5px" dy="-3">4</tspan></text>
<line x1="134.8" y1="464.90000000000003" x2="136.4" y2="464.90000000000003" stroke="#1e1e1e" stroke-width="0.7"/>
<text x="134.1" y="467.6" text-anchor="end" style="font-size:7.4px;">10<tspan style="font-size:5px" dy="-3">3</tspan></text>
<line x1="134.8" y1="477.65000000000003" x2="136.4" y2="477.65000000000003" stroke="#1e1e1e" stroke-width="0.7"/>
<text x="134.1" y="480.35" text-anchor="end" style="font-size:7.4px;">10<tspan style="font-size:5px" dy="-3">2</tspan></text>
<line x1="134.8" y1="490.40000000000003" x2="136.4" y2="490.40000000000003" stroke="#1e1e1e" stroke-width="0.7"/>
<text x="134.1" y="493.1" text-anchor="end" style="font-size:7.4px;">10<tspan style="font-size:5px" dy="-3">1</tspan></text>
<g clip-path="url(#cp4)">
<path d="M222.8,481.9h0.7v0.7h-0.7zM235.9,493.3h0.7v0.7h-0.7zM216.2,472.2h0.7v0.7h-0.7zM219.6,475.4h0.7v0.7h-0.7zM225.8,467.6h0.7v0.7h-0.7zM229.3,466.4h0.7v0.7h-0.7zM231.6,470.7h0.7v0.7h-0.7zM229.6,481.8h0.7v0.7h-0.7zM226.2,473.2h0.7v0.7h-0.7zM220.7,468.8h0.7v0.7h-0.7zM240.0,483.1h0.7v0.7h-0.7zM242.7,481.3h0.7v0.7h-0.7zM230.0,473.3h0.7v0.7h-0.7zM225.1,465.2h0.7v0.7h-0.7zM235.4,486.4h0.7v0.7h-0.7zM239.6,490.4h0.7v0.7h-0.7zM218.6,457.3h0.7v0.7h-0.7zM233.6,480.3h0.7v0.7h-0.7zM219.0,470.5h0.7v0.7h-0.7zM233.9,493.2h0.7v0.7h-0.7zM230.9,472.4h0.7v0.7h-0.7zM234.2,487.4h0.7v0.7h-0.7zM217.1,484.5h0.7v0.7h-0.7zM219.0,478.3h0.7v0.7h-0.7zM231.3,478.6h0.7v0.7h-0.7zM214.5,481.3h0.7v0.7h-0.7zM215.2,484.0h0.7v0.7h-0.7zM211.0,473.9h0.7v0.7h-0.7zM223.0,472.2h0.7v0.7h-0.7zM228.9,480.3h0.7v0.7h-0.7zM242.4,481.9h0.7v0.7h-0.7zM236.4,468.5h0.7v0.7h-0.7zM236.1,485.5h0.7v0.7h-0.7zM238.7,490.1h0.7v0.7h-0.7zM219.5,467.0h0.7v0.7h-0.7zM220.6,472.7h0.7v0.7h-0.7zM238.8,461.3h0.7v0.7h-0.7zM227.4,486.6h0.7v0.7h-0.7zM225.7,466.0h0.7v0.7h-0.7zM219.6,482.7h0.7v0.7h-0.7zM233.3,476.7h0.7v0.7h-0.7zM229.9,489.8h0.7v0.7h-0.7zM224.1,494.8h0.7v0.7h-0.7zM218.7,494.2h0.7v0.7h-0.7zM214.9,489.4h0.7v0.7h-0.7zM227.1,465.0h0.7v0.7h-0.7zM228.1,482.7h0.7v0.7h-0.7zM232.0,479.0h0.7v0.7h-0.7zM225.5,475.5h0.7v0.7h-0.7zM227.8,488.3h0.7v0.7h-0.7zM231.0,483.9h0.7v0.7h-0.7zM228.6,489.9h0.7v0.7h-0.7zM247.4,496.8h0.7v0.7h-0.7zM216.7,470.7h0.7v0.7h-0.7zM218.1,475.0h0.7v0.7h-0.7zM243.7,474.9h0.7v0.7h-0.7zM227.9,476.2h0.7v0.7h-0.7zM210.9,467.8h0.7v0.7h-0.7zM220.8,470.7h0.7v0.7h-0.7zM224.1,474.0h0.7v0.7h-0.7zM225.0,464.1h0.7v0.7h-0.7zM235.6,482.2h0.7v0.7h-0.7zM220.8,473.8h0.7v0.7h-0.7zM219.5,461.6h0.7v0.7h-0.7zM232.7,474.2h0.7v0.7h-0.7zM236.1,490.8h0.7v0.7h-0.7zM215.5,468.3h0.7v0.7h-0.7zM231.4,473.2h0.7v0.7h-0.7zM221.2,474.5h0.7v0.7h-0.7zM230.6,466.3h0.7v0.7h-0.7zM227.6,487.4h0.7v0.7h-0.7zM222.2,474.8h0.7v0.7h-0.7zM230.7,486.3h0.7v0.7h-0.7zM235.4,482.1h0.7v0.7h-0.7zM240.9,472.5h0.7v0.7h-0.7zM241.1,483.0h0.7v0.7h-0.7zM224.4,465.7h0.7v0.7h-0.7zM240.3,480.3h0.7v0.7h-0.7zM231.8,491.6h0.7v0.7h-0.7zM223.6,484.9h0.7v0.7h-0.7zM234.5,492.2h0.7v0.7h-0.7zM229.9,494.0h0.7v0.7h-0.7zM222.5,477.6h0.7v0.7h-0.7zM221.5,469.9h0.7v0.7h-0.7zM241.7,480.5h0.7v0.7h-0.7zM226.8,479.7h0.7v0.7h-0.7zM228.3,465.2h0.7v0.7h-0.7zM223.1,481.4h0.7v0.7h-0.7zM216.5,476.2h0.7v0.7h-0.7zM223.6,469.4h0.7v0.7h-0.7zM215.4,472.7h0.7v0.7h-0.7zM228.9,482.7h0.7v0.7h-0.7zM213.7,479.3h0.7v0.7h-0.7zM232.1,463.2h0.7v0.7h-0.7zM215.3,482.7h0.7v0.7h-0.7zM233.2,482.9h0.7v0.7h-0.7zM240.9,484.2h0.7v0.7h-0.7zM238.9,478.0h0.7v0.7h-0.7zM227.1,470.3h0.7v0.7h-0.7zM227.9,474.8h0.7v0.7h-0.7zM221.9,483.4h0.7v0.7h-0.7zM230.2,474.3h0.7v0.7h-0.7zM228.9,480.9h0.7v0.7h-0.7zM230.8,472.2h0.7v0.7h-0.7zM232.7,474.0h0.7v0.7h-0.7zM229.7,473.5h0.7v0.7h-0.7zM244.7,465.6h0.7v0.7h-0.7zM235.9,469.5h0.7v0.7h-0.7zM241.1,467.2h0.7v0.7h-0.7zM233.3,476.6h0.7v0.7h-0.7zM235.2,466.7h0.7v0.7h-0.7zM224.2,482.0h0.7v0.7h-0.7zM234.3,472.7h0.7v0.7h-0.7zM210.6,474.9h0.7v0.7h-0.7zM220.9,478.6h0.7v0.7h-0.7zM223.1,468.9h0.7v0.7h-0.7zM225.3,490.2h0.7v0.7h-0.7zM232.0,474.6h0.7v0.7h-0.7zM232.1,465.6h0.7v0.7h-0.7zM221.8,477.3h0.7v0.7h-0.7zM223.7,472.4h0.7v0.7h-0.7zM226.9,493.7h0.7v0.7h-0.7zM226.5,481.5h0.7v0.7h-0.7zM241.7,456.6h0.7v0.7h-0.7zM224.2,485.7h0.7v0.7h-0.7zM214.1,474.3h0.7v0.7h-0.7zM238.5,478.9h0.7v0.7h-0.7zM228.9,496.3h0.7v0.7h-0.7zM210.5,487.8h0.7v0.7h-0.7zM215.9,481.6h0.7v0.7h-0.7zM232.2,479.3h0.7v0.7h-0.7zM224.8,485.4h0.7v0.7h-0.7zM230.9,485.4h0.7v0.7h-0.7zM235.8,483.4h0.7v0.7h-0.7zM242.4,474.4h0.7v0.7h-0.7zM210.7,462.3h0.7v0.7h-0.7zM225.5,466.8h0.7v0.7h-0.7zM223.8,478.9h0.7v0.7h-0.7zM240.3,467.4h0.7v0.7h-0.7zM231.1,466.5h0.7v0.7h-0.7zM234.7,459.4h0.7v0.7h-0.7zM240.5,475.6h0.7v0.7h-0.7zM246.3,480.0h0.7v0.7h-0.7zM219.0,474.4h0.7v0.7h-0.7zM221.2,480.7h0.7v0.7h-0.7zM237.9,480.4h0.7v0.7h-0.7zM224.5,475.7h0.7v0.7h-0.7zM242.3,469.9h0.7v0.7h-0.7zM233.6,470.5h0.7v0.7h-0.7zM220.2,484.0h0.7v0.7h-0.7zM213.3,492.5h0.7v0.7h-0.7zM242.0,469.7h0.7v0.7h-0.7zM217.5,476.8h0.7v0.7h-0.7zM224.5,471.9h0.7v0.7h-0.7zM236.3,499.2h0.7v0.7h-0.7zM226.2,484.3h0.7v0.7h-0.7zM223.6,478.2h0.7v0.7h-0.7zM222.3,477.3h0.7v0.7h-0.7zM228.6,475.1h0.7v0.7h-0.7zM229.0,472.0h0.7v0.7h-0.7zM230.4,464.0h0.7v0.7h-0.7zM231.8,476.6h0.7v0.7h-0.7zM231.5,477.6h0.7v0.7h-0.7zM226.4,478.8h0.7v0.7h-0.7zM223.7,478.1h0.7v0.7h-0.7zM209.5,471.6h0.7v0.7h-0.7zM229.3,466.7h0.7v0.7h-0.7zM246.8,490.7h0.7v0.7h-0.7zM214.1,492.7h0.7v0.7h-0.7zM231.1,483.3h0.7v0.7h-0.7zM239.6,473.7h0.7v0.7h-0.7zM230.4,486.2h0.7v0.7h-0.7zM221.1,476.4h0.7v0.7h-0.7zM227.7,481.3h0.7v0.7h-0.7zM218.7,477.5h0.7v0.7h-0.7zM221.6,485.4h0.7v0.7h-0.7zM222.5,484.5h0.7v0.7h-0.7zM227.4,473.5h0.7v0.7h-0.7zM234.2,482.9h0.7v0.7h-0.7zM224.8,486.8h0.7v0.7h-0.7zM239.3,463.1h0.7v0.7h-0.7zM234.3,461.6h0.7v0.7h-0.7zM227.9,485.3h0.7v0.7h-0.7zM232.1,482.3h0.7v0.7h-0.7zM226.6,483.9h0.7v0.7h-0.7zM217.5,494.5h0.7v0.7h-0.7zM209.9,476.4h0.7v0.7h-0.7zM213.9,475.7h0.7v0.7h-0.7zM221.8,468.6h0.7v0.7h-0.7zM236.6,473.1h0.7v0.7h-0.7z" fill="#6a7ee8" opacity="0.5"/>
<path d="M249.1,451.6h0.7v0.7h-0.7zM249.3,458.6h0.7v0.7h-0.7zM249.2,441.0h0.7v0.7h-0.7zM252.0,450.9h0.7v0.7h-0.7zM248.7,453.9h0.7v0.7h-0.7zM251.4,462.3h0.7v0.7h-0.7zM253.9,453.9h0.7v0.7h-0.7zM245.6,444.9h0.7v0.7h-0.7zM251.5,463.5h0.7v0.7h-0.7zM250.2,452.1h0.7v0.7h-0.7zM253.2,441.4h0.7v0.7h-0.7zM248.1,456.9h0.7v0.7h-0.7zM255.2,451.1h0.7v0.7h-0.7zM252.3,455.0h0.7v0.7h-0.7zM254.7,444.1h0.7v0.7h-0.7zM253.4,440.9h0.7v0.7h-0.7zM234.3,448.1h0.7v0.7h-0.7zM244.5,460.0h0.7v0.7h-0.7zM254.0,443.2h0.7v0.7h-0.7zM255.1,445.0h0.7v0.7h-0.7zM249.5,450.6h0.7v0.7h-0.7zM250.7,459.5h0.7v0.7h-0.7zM253.8,455.8h0.7v0.7h-0.7zM253.9,456.8h0.7v0.7h-0.7zM246.2,447.3h0.7v0.7h-0.7zM247.2,457.0h0.7v0.7h-0.7zM248.5,471.7h0.7v0.7h-0.7zM245.1,444.2h0.7v0.7h-0.7zM254.6,464.4h0.7v0.7h-0.7zM253.0,459.7h0.7v0.7h-0.7zM258.6,452.2h0.7v0.7h-0.7zM241.5,448.7h0.7v0.7h-0.7zM255.7,441.5h0.7v0.7h-0.7zM250.2,455.0h0.7v0.7h-0.7zM248.1,458.8h0.7v0.7h-0.7zM253.5,471.6h0.7v0.7h-0.7zM253.7,448.1h0.7v0.7h-0.7zM246.6,446.3h0.7v0.7h-0.7zM255.7,448.5h0.7v0.7h-0.7zM249.6,459.0h0.7v0.7h-0.7zM245.7,450.7h0.7v0.7h-0.7zM239.0,444.3h0.7v0.7h-0.7zM246.6,456.3h0.7v0.7h-0.7zM257.2,452.9h0.7v0.7h-0.7zM251.6,454.3h0.7v0.7h-0.7zM256.5,460.1h0.7v0.7h-0.7zM251.6,444.9h0.7v0.7h-0.7zM255.4,456.0h0.7v0.7h-0.7zM257.4,452.8h0.7v0.7h-0.7zM261.7,450.1h0.7v0.7h-0.7zM259.6,453.9h0.7v0.7h-0.7zM246.9,444.0h0.7v0.7h-0.7zM249.1,464.4h0.7v0.7h-0.7zM254.9,458.5h0.7v0.7h-0.7zM235.7,458.7h0.7v0.7h-0.7zM253.3,448.6h0.7v0.7h-0.7zM246.2,453.0h0.7v0.7h-0.7zM260.3,444.6h0.7v0.7h-0.7zM247.4,463.9h0.7v0.7h-0.7zM247.3,450.1h0.7v0.7h-0.7zM250.6,443.1h0.7v0.7h-0.7zM251.3,443.3h0.7v0.7h-0.7zM255.3,453.0h0.7v0.7h-0.7zM263.7,455.2h0.7v0.7h-0.7zM258.2,442.6h0.7v0.7h-0.7zM249.3,455.6h0.7v0.7h-0.7zM260.5,439.6h0.7v0.7h-0.7zM255.9,457.7h0.7v0.7h-0.7zM259.2,458.7h0.7v0.7h-0.7zM250.3,448.8h0.7v0.7h-0.7zM242.5,454.6h0.7v0.7h-0.7zM248.8,469.2h0.7v0.7h-0.7zM246.3,455.6h0.7v0.7h-0.7zM240.6,449.8h0.7v0.7h-0.7zM251.6,459.6h0.7v0.7h-0.7zM258.7,452.6h0.7v0.7h-0.7zM243.3,456.7h0.7v0.7h-0.7zM253.1,456.9h0.7v0.7h-0.7zM245.8,462.1h0.7v0.7h-0.7zM250.5,458.6h0.7v0.7h-0.7zM257.6,457.9h0.7v0.7h-0.7zM251.7,470.2h0.7v0.7h-0.7zM251.5,450.6h0.7v0.7h-0.7zM250.7,464.9h0.7v0.7h-0.7zM250.7,457.2h0.7v0.7h-0.7zM257.2,448.9h0.7v0.7h-0.7zM239.6,455.4h0.7v0.7h-0.7zM251.4,448.1h0.7v0.7h-0.7zM255.2,457.9h0.7v0.7h-0.7zM244.0,457.1h0.7v0.7h-0.7zM248.8,441.1h0.7v0.7h-0.7zM252.7,452.6h0.7v0.7h-0.7zM245.5,457.2h0.7v0.7h-0.7zM252.9,448.4h0.7v0.7h-0.7zM252.4,461.1h0.7v0.7h-0.7zM245.7,456.0h0.7v0.7h-0.7zM250.0,471.1h0.7v0.7h-0.7zM238.8,458.6h0.7v0.7h-0.7zM248.2,452.2h0.7v0.7h-0.7zM261.4,452.9h0.7v0.7h-0.7zM263.4,449.5h0.7v0.7h-0.7zM252.1,449.1h0.7v0.7h-0.7zM245.9,453.5h0.7v0.7h-0.7zM248.3,454.6h0.7v0.7h-0.7zM237.4,469.0h0.7v0.7h-0.7zM249.0,466.9h0.7v0.7h-0.7zM244.0,455.3h0.7v0.7h-0.7zM269.0,446.0h0.7v0.7h-0.7zM241.0,448.6h0.7v0.7h-0.7zM252.8,458.5h0.7v0.7h-0.7zM257.7,450.9h0.7v0.7h-0.7zM240.4,449.5h0.7v0.7h-0.7zM257.4,456.7h0.7v0.7h-0.7zM238.3,452.7h0.7v0.7h-0.7zM258.4,470.0h0.7v0.7h-0.7zM253.4,455.5h0.7v0.7h-0.7zM242.6,446.3h0.7v0.7h-0.7zM250.3,457.0h0.7v0.7h-0.7zM253.5,449.2h0.7v0.7h-0.7zM243.1,446.8h0.7v0.7h-0.7zM243.1,458.1h0.7v0.7h-0.7zM236.1,450.3h0.7v0.7h-0.7zM252.7,465.2h0.7v0.7h-0.7zM250.4,461.0h0.7v0.7h-0.7zM247.6,447.0h0.7v0.7h-0.7zM246.0,465.2h0.7v0.7h-0.7zM256.0,456.9h0.7v0.7h-0.7zM270.0,452.7h0.7v0.7h-0.7zM253.7,455.5h0.7v0.7h-0.7zM248.7,471.5h0.7v0.7h-0.7zM259.0,441.8h0.7v0.7h-0.7zM247.6,456.4h0.7v0.7h-0.7zM254.7,442.2h0.7v0.7h-0.7zM236.5,437.7h0.7v0.7h-0.7zM249.6,452.2h0.7v0.7h-0.7zM252.1,446.8h0.7v0.7h-0.7zM242.7,436.8h0.7v0.7h-0.7zM252.0,456.0h0.7v0.7h-0.7zM256.0,459.3h0.7v0.7h-0.7zM248.9,463.8h0.7v0.7h-0.7z" fill="#6a7ee8" opacity="0.5"/>
<path d="M260.5,483.3h0.7v0.7h-0.7zM254.8,487.9h0.7v0.7h-0.7zM244.1,465.9h0.7v0.7h-0.7zM242.1,483.1h0.7v0.7h-0.7zM257.4,481.2h0.7v0.7h-0.7zM240.5,492.6h0.7v0.7h-0.7zM238.8,475.6h0.7v0.7h-0.7zM246.0,482.3h0.7v0.7h-0.7zM257.7,466.6h0.7v0.7h-0.7zM247.8,482.8h0.7v0.7h-0.7zM241.8,479.2h0.7v0.7h-0.7zM251.3,468.0h0.7v0.7h-0.7zM240.8,479.5h0.7v0.7h-0.7zM248.4,482.0h0.7v0.7h-0.7zM265.5,488.1h0.7v0.7h-0.7zM253.1,473.6h0.7v0.7h-0.7zM256.5,473.0h0.7v0.7h-0.7zM261.0,490.7h0.7v0.7h-0.7zM236.0,469.4h0.7v0.7h-0.7zM248.7,476.4h0.7v0.7h-0.7zM241.2,469.0h0.7v0.7h-0.7zM255.1,475.2h0.7v0.7h-0.7zM239.3,477.5h0.7v0.7h-0.7zM256.8,495.1h0.7v0.7h-0.7zM250.4,477.2h0.7v0.7h-0.7zM244.4,475.3h0.7v0.7h-0.7zM253.7,491.3h0.7v0.7h-0.7zM258.7,477.8h0.7v0.7h-0.7zM256.2,486.9h0.7v0.7h-0.7zM253.2,457.9h0.7v0.7h-0.7zM249.6,477.4h0.7v0.7h-0.7zM259.3,477.5h0.7v0.7h-0.7zM253.2,482.4h0.7v0.7h-0.7zM258.9,486.9h0.7v0.7h-0.7zM257.2,493.5h0.7v0.7h-0.7zM256.7,487.0h0.7v0.7h-0.7zM248.2,480.9h0.7v0.7h-0.7zM265.1,480.3h0.7v0.7h-0.7zM253.6,479.3h0.7v0.7h-0.7zM248.0,453.0h0.7v0.7h-0.7zM262.0,469.4h0.7v0.7h-0.7zM244.2,492.2h0.7v0.7h-0.7zM233.5,480.3h0.7v0.7h-0.7zM246.1,463.4h0.7v0.7h-0.7zM254.3,473.1h0.7v0.7h-0.7zM249.3,476.1h0.7v0.7h-0.7zM254.5,500.3h0.7v0.7h-0.7zM241.2,487.7h0.7v0.7h-0.7zM245.2,476.8h0.7v0.7h-0.7zM236.8,469.7h0.7v0.7h-0.7zM247.0,487.3h0.7v0.7h-0.7zM251.7,485.2h0.7v0.7h-0.7zM255.1,467.5h0.7v0.7h-0.7zM260.2,477.1h0.7v0.7h-0.7zM254.8,478.4h0.7v0.7h-0.7zM251.9,485.8h0.7v0.7h-0.7zM234.2,498.1h0.7v0.7h-0.7zM251.2,489.8h0.7v0.7h-0.7zM251.5,480.8h0.7v0.7h-0.7zM240.7,476.5h0.7v0.7h-0.7z" fill="#9a8ee8" opacity="0.35"/>
<ellipse cx="227" cy="479" rx="14" ry="14" fill="url(#gL)"/>
<ellipse cx="226.8" cy="477" rx="10" ry="10" fill="url(#gD)"/>
<ellipse cx="249.5" cy="459" rx="6.5" ry="7" fill="url(#gB)"/>
<ellipse cx="251.5" cy="446.8" rx="10.5" ry="5" fill="url(#gG)"/>
</g>
<rect x="202.6" y="433.6" width="63.6" height="63.2" fill="none" stroke="#1e1e1e" stroke-width="1"/>
<line x1="239.2" y1="433.6" x2="239.2" y2="496.8" stroke="#1e1e1e" stroke-width="1"/>
<line x1="202.6" y1="450.3" x2="266.2" y2="450.3" stroke="#1e1e1e" stroke-width="1"/>
<text x="205.2" y="442.0">0.34</text>
<text x="260.7" y="442.0" text-anchor="end">25.5</text>
<text x="204.79999999999998" y="493.0">53.2</text>
<text x="260.7" y="493.0" text-anchor="end">21.0</text>
<line x1="210.0" y1="496.8" x2="210.0" y2="498.40000000000003" stroke="#1e1e1e" stroke-width="0.7"/>
<line x1="222.7" y1="496.8" x2="222.7" y2="498.40000000000003" stroke="#1e1e1e" stroke-width="0.7"/>
<line x1="235.4" y1="496.8" x2="235.4" y2="498.40000000000003" stroke="#1e1e1e" stroke-width="0.7"/>
<line x1="248.1" y1="496.8" x2="248.1" y2="498.40000000000003" stroke="#1e1e1e" stroke-width="0.7"/>
<line x1="260.8" y1="496.8" x2="260.8" y2="498.40000000000003" stroke="#1e1e1e" stroke-width="0.7"/>
<line x1="201.4" y1="439.40000000000003" x2="202.6" y2="439.40000000000003" stroke="#1e1e1e" stroke-width="0.7"/>
<line x1="201.4" y1="452.15000000000003" x2="202.6" y2="452.15000000000003" stroke="#1e1e1e" stroke-width="0.7"/>
<line x1="201.4" y1="464.90000000000003" x2="202.6" y2="464.90000000000003" stroke="#1e1e1e" stroke-width="0.7"/>
<line x1="201.4" y1="477.65000000000003" x2="202.6" y2="477.65000000000003" stroke="#1e1e1e" stroke-width="0.7"/>
<line x1="201.4" y1="490.40000000000003" x2="202.6" y2="490.40000000000003" stroke="#1e1e1e" stroke-width="0.7"/>
<text x="143.6" y="506.4" text-anchor="middle" style="font-size:7.4px;">10<tspan style="font-size:5px" dy="-3">1</tspan></text>
<text x="156.29999999999998" y="506.4" text-anchor="middle" style="font-size:7.4px;">10<tspan style="font-size:5px" dy="-3">2</tspan></text>
<text x="169.0" y="506.4" text-anchor="middle" style="font-size:7.4px;">10<tspan style="font-size:5px" dy="-3">3</tspan></text>
<text x="181.7" y="506.4" text-anchor="middle" style="font-size:7.4px;">10<tspan style="font-size:5px" dy="-3">4</tspan></text>
<text x="194.39999999999998" y="506.4" text-anchor="middle" style="font-size:7.4px;">10<tspan style="font-size:5px" dy="-3">5</tspan></text>
<text x="209.79999999999998" y="506.4" text-anchor="middle" style="font-size:7.4px;">10<tspan style="font-size:5px" dy="-3">1</tspan></text>
<text x="222.49999999999997" y="506.4" text-anchor="middle" style="font-size:7.4px;">10<tspan style="font-size:5px" dy="-3">2</tspan></text>
<text x="235.2" y="506.4" text-anchor="middle" style="font-size:7.4px;">10<tspan style="font-size:5px" dy="-3">3</tspan></text>
<text x="247.89999999999998" y="506.4" text-anchor="middle" style="font-size:7.4px;">10<tspan style="font-size:5px" dy="-3">4</tspan></text>
<text x="260.59999999999997" y="506.4" text-anchor="middle" style="font-size:7.4px;">10<tspan style="font-size:5px" dy="-3">5</tspan></text>
<line x1="118.1" y1="372" x2="118.1" y2="489" stroke="#1e1e1e" stroke-width="0.9"/>
<polygon points="116,373.5 118.1,366.5 120.2,373.5" fill="#1e1e1e"/>
<text transform="translate(120.6,493.6) rotate(-90)" text-anchor="middle">PI</text>
<text x="150.2" y="517">Annexin V-FITC</text>
<line x1="205.4" y1="514.8" x2="258" y2="514.8" stroke="#1e1e1e" stroke-width="0.9"/>
<polygon points="257,512.7 264,514.8 257,516.9" fill="#1e1e1e"/>
<line x1="304.5" y1="367.3" x2="304.5" y2="496.8" stroke="#1e1e1e" stroke-width="1"/>
<line x1="304.5" y1="496.8" x2="337.7" y2="496.8" stroke="#1e1e1e" stroke-width="1"/>
<line x1="304.5" y1="496.8" x2="304.5" y2="498.6" stroke="#1e1e1e" stroke-width="0.7"/>
<text x="304.5" y="506.3" text-anchor="middle" style="font-size:6.8px;">0</text>
<line x1="312.45" y1="496.8" x2="312.45" y2="498.6" stroke="#1e1e1e" stroke-width="0.7"/>
<text x="312.45" y="506.3" text-anchor="middle" style="font-size:6.8px;">20</text>
<line x1="320.4" y1="496.8" x2="320.4" y2="498.6" stroke="#1e1e1e" stroke-width="0.7"/>
<text x="320.4" y="506.3" text-anchor="middle" style="font-size:6.8px;">40</text>
<line x1="328.35" y1="496.8" x2="328.35" y2="498.6" stroke="#1e1e1e" stroke-width="0.7"/>
<text x="328.35" y="506.3" text-anchor="middle" style="font-size:6.8px;">60</text>
<line x1="336.3" y1="496.8" x2="336.3" y2="498.6" stroke="#1e1e1e" stroke-width="0.7"/>
<text x="336.3" y="506.3" text-anchor="middle" style="font-size:6.8px;">80</text>
<text x="299.8" y="506.3" text-anchor="end" style="font-size:7.4px;">(%)</text>
<text x="321" y="514.8" text-anchor="middle">FITC<tspan font-size="4.8" dy="-2.8">+</tspan><tspan dy="2.8"> PI</tspan><tspan font-size="4.8" dy="-2.8">+</tspan></text>
<rect x="304.5" y="376" width="9.0" height="16.4" fill="#dadada" stroke="#1e1e1e" stroke-width="0.9"/>
<circle cx="313.8" cy="378.0" r="1.4" fill="#1e1e1e"/>
<circle cx="312.9" cy="384.2" r="1.4" fill="#1e1e1e"/>
<circle cx="314.3" cy="390.4" r="1.4" fill="#1e1e1e"/>
<rect x="304.5" y="402" width="30.6" height="16.4" fill="#f28672" stroke="#1e1e1e" stroke-width="0.9"/>
<circle cx="335.4" cy="404.0" r="1.4" fill="#f6c8be" stroke="#1e1e1e" stroke-width="0.7"/>
<circle cx="334.5" cy="410.2" r="1.4" fill="#f6c8be" stroke="#1e1e1e" stroke-width="0.7"/>
<circle cx="335.9" cy="416.4" r="1.4" fill="#f6c8be" stroke="#1e1e1e" stroke-width="0.7"/>
<rect x="304.5" y="445.4" width="10.7" height="16.3" fill="#dadada" stroke="#1e1e1e" stroke-width="0.9"/>
<circle cx="315.5" cy="447.4" r="1.4" fill="#1e1e1e"/>
<circle cx="314.6" cy="453.5" r="1.4" fill="#1e1e1e"/>
<circle cx="316.0" cy="459.7" r="1.4" fill="#1e1e1e"/>
<rect x="304.5" y="471.4" width="11.5" height="16.8" fill="#f28672" stroke="#1e1e1e" stroke-width="0.9"/>
<circle cx="316.3" cy="473.4" r="1.4" fill="#f6c8be" stroke="#1e1e1e" stroke-width="0.7"/>
<circle cx="315.4" cy="479.8" r="1.4" fill="#f6c8be" stroke="#1e1e1e" stroke-width="0.7"/>
<circle cx="316.8" cy="486.2" r="1.4" fill="#f6c8be" stroke="#1e1e1e" stroke-width="0.7"/>
<line x1="339.8" y1="383.7" x2="339.8" y2="410.6" stroke="#555" stroke-width="0.8"/>
<text x="344.3" y="395.20000000000005" text-anchor="middle" style="font-size:6.5px">*</text>
<text x="344.3" y="398.1" text-anchor="middle" style="font-size:6.5px">*</text>
<text x="344.3" y="401.0" text-anchor="middle" style="font-size:6.5px">*</text>
<text x="344.3" y="403.90000000000003" text-anchor="middle" style="font-size:6.5px">*</text>
<line x1="320.7" y1="452.7" x2="320.7" y2="479.5" stroke="#555" stroke-width="0.8"/>
<text transform="translate(323.3,466) rotate(90)" text-anchor="middle" style="font-size:7px;">ns</text>
<rect x="308.3" y="354.2" width="29.8" height="15" fill="#fff" stroke="#444" stroke-width="0.9"/>
<circle cx="311.4" cy="358.4" r="1.15" fill="#7a8484"/>
<circle cx="311.4" cy="365.6" r="1.15" fill="#e08888"/>
<text x="315.5" y="360.8" style="font-size:6.9px;">EtOH</text>
<text x="315.5" y="367.9" style="font-size:6.9px;">4-OHT</text>
<text x="270.2" y="394.1" style="font-size:7.4px;">Eμ-<tspan font-style="italic">Myc</tspan>;</text>
<text x="270.2" y="402.8" style="font-size:7.4px;"><tspan font-style="italic">CreER</tspan><tspan font-size="5" dy="-2.8">T2</tspan><tspan dy="2.8">;</tspan></text>
<text x="270.2" y="411.40000000000003" style="font-size:7.4px;"><tspan font-style="italic">Dhps</tspan><tspan font-size="5" dy="-2.8">fl/fl</tspan></text>
<text x="270.2" y="458.7" style="font-size:7.4px;">Eμ-<tspan font-style="italic">Myc</tspan>;</text>
<text x="270.2" y="467.4" style="font-size:7.4px;"><tspan font-style="italic">CreER</tspan><tspan font-size="5" dy="-2.8">T2</tspan><tspan dy="2.8">;</tspan></text>
<text x="270.2" y="476.0" style="font-size:7.4px;"><tspan font-style="italic">Dhps</tspan><tspan font-size="5" dy="-2.8">+/+</tspan></text>
<text x="346.6" y="197.4" style="font-weight:bold;font-size:10px;">J</text>
<text x="397" y="196.5" text-anchor="middle" style="font-size:8.8px;">Vehicle</text>
<text x="469" y="196.5" text-anchor="middle" style="font-size:8.8px;">TAM</text>
<line x1="361.3" y1="199.8" x2="432.1" y2="199.8" stroke="#555" stroke-width="1.2"/>
<line x1="433.7" y1="199.8" x2="504.3" y2="199.8" stroke="#555" stroke-width="1.2"/>
<text x="372.75" y="206.7" text-anchor="middle" style="font-size:7.2px;">#1</text>
<text x="395.70000000000005" y="206.7" text-anchor="middle" style="font-size:7.2px;">#2</text>
<text x="419.65" y="206.7" text-anchor="middle" style="font-size:7.2px;">#3</text>
<text x="444.95" y="206.7" text-anchor="middle" style="font-size:7.2px;">#1</text>
<text x="469.2" y="206.7" text-anchor="middle" style="font-size:7.2px;">#2</text>
<text x="494.04999999999995" y="206.7" text-anchor="middle" style="font-size:7.2px;">#3</text>
<defs>
<radialGradient id="mb" cx="0.5" cy="0.45" r="0.62"><stop offset="0" stop-color="#e6e6e6"/><stop offset="0.5" stop-color="#d6d6d6"/><stop offset="0.8" stop-color="#b6b6b6"/><stop offset="1" stop-color="#909090"/></radialGradient>
<radialGradient id="mb0" cx="0.5" cy="0.45" r="0.62"><stop offset="0" stop-color="#d2d2d2"/><stop offset="0.5" stop-color="#c4c4c4"/><stop offset="0.8" stop-color="#a8a8a8"/><stop offset="1" stop-color="#888"/></radialGradient>
<linearGradient id="cbg" x1="0" y1="0" x2="1" y2="0"><stop offset="0" stop-color="#363636"/><stop offset="0.5" stop-color="#555"/><stop offset="1" stop-color="#363636"/></linearGradient>
<radialGradient id="bP"><stop offset="0" stop-color="#2226f2"/><stop offset="0.55" stop-color="#2a1cf0"/><stop offset="0.8" stop-color="#6a40f0" stop-opacity="0.75"/><stop offset="1" stop-color="#a070f0" stop-opacity="0"/></radialGradient>
<radialGradient id="bF"><stop offset="0" stop-color="#6a50e8" stop-opacity="0.8"/><stop offset="1" stop-color="#a080f0" stop-opacity="0"/></radialGradient>
<radialGradient id="bC"><stop offset="0" stop-color="#30d0e0"/><stop offset="0.3" stop-color="#2a60f0"/><stop offset="0.6" stop-color="#3818e6"/><stop offset="0.82" stop-color="#7040f0" stop-opacity="0.75"/><stop offset="1" stop-color="#a070f0" stop-opacity="0"/></radialGradient>
<radialGradient id="bG"><stop offset="0" stop-color="#50e040"/><stop offset="0.25" stop-color="#20c8a0"/><stop offset="0.42" stop-color="#2080f0"/><stop offset="0.62" stop-color="#3418e6"/><stop offset="0.82" stop-color="#8040f0" stop-opacity="0.7"/><stop offset="1" stop-color="#b080f0" stop-opacity="0"/></radialGradient>
<radialGradient id="bR"><stop offset="0" stop-color="#d81810"/><stop offset="0.12" stop-color="#e85010"/><stop offset="0.24" stop-color="#f0d020"/><stop offset="0.36" stop-color="#40d040"/><stop offset="0.48" stop-color="#20a0e0"/><stop offset="0.64" stop-color="#3418e6"/><stop offset="0.84" stop-color="#8040f0" stop-opacity="0.7"/><stop offset="1" stop-color="#b080f0" stop-opacity="0"/></radialGradient>
<radialGradient id="halo"><stop offset="0" stop-color="#f4f0ff" stop-opacity="0.7"/><stop offset="0.6" stop-color="#e8e0f8" stop-opacity="0.35"/><stop offset="1" stop-color="#e0d8f0" stop-opacity="0"/></radialGradient>
<radialGradient id="bV"><stop offset="0" stop-color="#5a30e0"/><stop offset="0.5" stop-color="#7a50e8" stop-opacity="0.9"/><stop offset="0.8" stop-color="#a070f0" stop-opacity="0.6"/><stop offset="1" stop-color="#b090f0" stop-opacity="0"/></radialGradient>
<radialGradient id="bG2"><stop offset="0" stop-color="#40d070"/><stop offset="0.22" stop-color="#20c0c0"/><stop offset="0.42" stop-color="#2070f0"/><stop offset="0.62" stop-color="#3418e6"/><stop offset="0.84" stop-color="#8040f0" stop-opacity="0.7"/><stop offset="1" stop-color="#b080f0" stop-opacity="0"/></radialGradient>
<linearGradient id="cbar" x1="0" y1="0" x2="0" y2="1"><stop offset="0" stop-color="#e8201a"/><stop offset="0.1" stop-color="#f07018"/><stop offset="0.2" stop-color="#f0d820"/><stop offset="0.4" stop-color="#30c828"/><stop offset="0.6" stop-color="#20c8e0"/><stop offset="0.8" stop-color="#2040f0"/><stop offset="1" stop-color="#5010d0"/></linearGradient>
</defs>
<rect x="359.6" y="208.3" width="74.6" height="280.1" fill="#111"/>
<rect x="431.4" y="208.3" width="76.8" height="393.9" fill="#111"/>
<rect x="361.4" y="211" width="69.8" height="275.4" fill="#f4f4f4"/>
<rect x="434.2" y="211" width="71.2" height="389" fill="#f4f4f4"/>
<clipPath id="cc1"><rect x="362.4" y="211" width="20.7" height="52.9"/></clipPath>
<g clip-path="url(#cc1)">
<rect x="362.4" y="211" width="20.7" height="52.9" fill="url(#cbg)"/>
<g transform="rotate(-3.0,372.8,237.4)">
<path d="M10.5,0.4 C13.5,0.4 15.2,2.5 15.6,5.5 C16,7.5 16.2,8.5 17.2,9.3 C19.5,10.6 20.6,13 20.3,17 C20.8,24 20.7,33 19.8,40 C19.3,43.5 18.4,45.5 18.8,48 L20,52.6 L15.4,52.6 L14.4,48.2 C13.2,48.6 12.3,49 11.7,49.4 L11.7,53 L9.3,53 L9.3,49.4 C8.7,49 7.8,48.6 6.6,48.2 L5.6,52.6 L1,52.6 L2.2,48 C2.6,45.5 1.7,43.5 1.2,40 C0.3,33 0.2,24 0.7,17 C0.4,13 1.5,10.6 3.8,9.3 C4.8,8.5 5,7.5 5.4,5.5 C5.8,2.5 7.5,0.4 10.5,0.4 Z" fill="url(#mb0)" transform="translate(362.28,211) scale(0.986,0.998)"/>
<rect x="371.3" y="211.8" width="2.6" height="2.6" rx="0.6" fill="#fff"/>
<ellipse cx="370.1" cy="231.5" rx="4.5" ry="7.0" fill="#a0a0a0" opacity="0.1"/>
<ellipse cx="371.8" cy="244.1" rx="4.1" ry="9.8" fill="#a0a0a0" opacity="0.1"/>
</g></g>
<clipPath id="cc2"><rect x="386.1" y="211" width="19.2" height="52.9"/></clipPath>
<g clip-path="url(#cc2)">
<rect x="386.1" y="211" width="19.2" height="52.9" fill="url(#cbg)"/>
<g transform="rotate(-0.8,395.7,237.4)">
<path d="M10.5,0.4 C13.5,0.4 15.2,2.5 15.6,5.5 C16,7.5 16.2,8.5 17.2,9.3 C19.5,10.6 20.6,13 20.3,17 C20.8,24 20.7,33 19.8,40 C19.3,43.5 18.4,45.5 18.8,48 L20,52.6 L15.4,52.6 L14.4,48.2 C13.2,48.6 12.3,49 11.7,49.4 L11.7,53 L9.3,53 L9.3,49.4 C8.7,49 7.8,48.6 6.6,48.2 L5.6,52.6 L1,52.6 L2.2,48 C2.6,45.5 1.7,43.5 1.2,40 C0.3,33 0.2,24 0.7,17 C0.4,13 1.5,10.6 3.8,9.3 C4.8,8.5 5,7.5 5.4,5.5 C5.8,2.5 7.5,0.4 10.5,0.4 Z" fill="url(#mb0)" transform="translate(386.09,211) scale(0.914,0.998)"/>
<rect x="394.4" y="211.8" width="2.6" height="2.6" rx="0.6" fill="#fff"/>
<ellipse cx="396.6" cy="230.5" rx="4.8" ry="7.5" fill="#a0a0a0" opacity="0.1"/>
<ellipse cx="394.8" cy="244.1" rx="3.3" ry="8.6" fill="#a0a0a0" opacity="0.1"/>
</g></g>
<clipPath id="cc3"><rect x="408.1" y="211" width="23.1" height="52.9"/></clipPath>
<g clip-path="url(#cc3)">
<rect x="408.1" y="211" width="23.1" height="52.9" fill="url(#cbg)"/>
<g transform="rotate(-1.6,419.6,237.4)">
<path d="M10.5,0.4 C13.5,0.4 15.2,2.5 15.6,5.5 C16,7.5 16.2,8.5 17.2,9.3 C19.5,10.6 20.6,13 20.3,17 C20.8,24 20.7,33 19.8,40 C19.3,43.5 18.4,45.5 18.8,48 L20,52.6 L15.4,52.6 L14.4,48.2 C13.2,48.6 12.3,49 11.7,49.4 L11.7,53 L9.3,53 L9.3,49.4 C8.7,49 7.8,48.6 6.6,48.2 L5.6,52.6 L1,52.6 L2.2,48 C2.6,45.5 1.7,43.5 1.2,40 C0.3,33 0.2,24 0.7,17 C0.4,13 1.5,10.6 3.8,9.3 C4.8,8.5 5,7.5 5.4,5.5 C5.8,2.5 7.5,0.4 10.5,0.4 Z" fill="url(#mb0)" transform="translate(408.52,211) scale(1.100,0.998)"/>
<rect x="418.8" y="211.8" width="2.6" height="2.6" rx="0.6" fill="#fff"/>
<ellipse cx="423.8" cy="239.6" rx="4.5" ry="7.9" fill="#a0a0a0" opacity="0.1"/>
<ellipse cx="418.8" cy="232.1" rx="3.0" ry="6.8" fill="#a0a0a0" opacity="0.1"/>
</g></g>
<clipPath id="cc4"><rect x="434.2" y="211" width="21.5" height="52.9"/></clipPath>
<g clip-path="url(#cc4)">
<rect x="434.2" y="211" width="21.5" height="52.9" fill="url(#cbg)"/>
<g transform="rotate(0.3,444.9,237.4)">
<path d="M10.5,0.4 C13.5,0.4 15.2,2.5 15.6,5.5 C16,7.5 16.2,8.5 17.2,9.3 C19.5,10.6 20.6,13 20.3,17 C20.8,24 20.7,33 19.8,40 C19.3,43.5 18.4,45.5 18.8,48 L20,52.6 L15.4,52.6 L14.4,48.2 C13.2,48.6 12.3,49 11.7,49.4 L11.7,53 L9.3,53 L9.3,49.4 C8.7,49 7.8,48.6 6.6,48.2 L5.6,52.6 L1,52.6 L2.2,48 C2.6,45.5 1.7,43.5 1.2,40 C0.3,33 0.2,24 0.7,17 C0.4,13 1.5,10.6 3.8,9.3 C4.8,8.5 5,7.5 5.4,5.5 C5.8,2.5 7.5,0.4 10.5,0.4 Z" fill="url(#mb0)" transform="translate(434.79,211) scale(1.024,0.998)"/>
<rect x="444.2" y="211.8" width="2.6" height="2.6" rx="0.6" fill="#fff"/>
<ellipse cx="444.6" cy="250.4" rx="4.2" ry="9.9" fill="#a0a0a0" opacity="0.1"/>
<ellipse cx="443.7" cy="230.5" rx="4.8" ry="6.6" fill="#a0a0a0" opacity="0.1"/>
</g></g>
<clipPath id="cc5"><rect x="458.2" y="211" width="22.0" height="52.9"/></clipPath>
<g clip-path="url(#cc5)">
<rect x="458.2" y="211" width="22.0" height="52.9" fill="url(#cbg)"/>
<g transform="rotate(1.0,469.2,237.4)">
<path d="M10.5,0.4 C13.5,0.4 15.2,2.5 15.6,5.5 C16,7.5 16.2,8.5 17.2,9.3 C19.5,10.6 20.6,13 20.3,17 C20.8,24 20.7,33 19.8,40 C19.3,43.5 18.4,45.5 18.8,48 L20,52.6 L15.4,52.6 L14.4,48.2 C13.2,48.6 12.3,49 11.7,49.4 L11.7,53 L9.3,53 L9.3,49.4 C8.7,49 7.8,48.6 6.6,48.2 L5.6,52.6 L1,52.6 L2.2,48 C2.6,45.5 1.7,43.5 1.2,40 C0.3,33 0.2,24 0.7,17 C0.4,13 1.5,10.6 3.8,9.3 C4.8,8.5 5,7.5 5.4,5.5 C5.8,2.5 7.5,0.4 10.5,0.4 Z" fill="url(#mb0)" transform="translate(458.55,211) scale(1.048,0.998)"/>
<rect x="468.3" y="211.8" width="2.6" height="2.6" rx="0.6" fill="#fff"/>
<ellipse cx="473.4" cy="251.7" rx="4.3" ry="6.1" fill="#a0a0a0" opacity="0.1"/>
<ellipse cx="465.0" cy="238.0" rx="4.6" ry="6.3" fill="#a0a0a0" opacity="0.1"/>
</g></g>
<clipPath id="cc6"><rect x="482.7" y="211" width="22.7" height="52.9"/></clipPath>
<g clip-path="url(#cc6)">
<rect x="482.7" y="211" width="22.7" height="52.9" fill="url(#cbg)"/>
<g transform="rotate(-4.1,494.0,237.4)">
<path d="M10.5,0.4 C13.5,0.4 15.2,2.5 15.6,5.5 C16,7.5 16.2,8.5 17.2,9.3 C19.5,10.6 20.6,13 20.3,17 C20.8,24 20.7,33 19.8,40 C19.3,43.5 18.4,45.5 18.8,48 L20,52.6 L15.4,52.6 L14.4,48.2 C13.2,48.6 12.3,49 11.7,49.4 L11.7,53 L9.3,53 L9.3,49.4 C8.7,49 7.8,48.6 6.6,48.2 L5.6,52.6 L1,52.6 L2.2,48 C2.6,45.5 1.7,43.5 1.2,40 C0.3,33 0.2,24 0.7,17 C0.4,13 1.5,10.6 3.8,9.3 C4.8,8.5 5,7.5 5.4,5.5 C5.8,2.5 7.5,0.4 10.5,0.4 Z" fill="url(#mb0)" transform="translate(482.61,211) scale(1.081,0.998)"/>
<rect x="492.7" y="211.8" width="2.6" height="2.6" rx="0.6" fill="#fff"/>
<ellipse cx="492.3" cy="224.4" rx="3.7" ry="8.1" fill="#a0a0a0" opacity="0.1"/>
<ellipse cx="491.3" cy="247.1" rx="3.1" ry="6.8" fill="#a0a0a0" opacity="0.1"/>
</g></g>
<clipPath id="cc7"><rect x="362.4" y="266.7" width="20.7" height="51.9"/></clipPath>
<g clip-path="url(#cc7)">
<rect x="362.4" y="266.7" width="20.7" height="51.9" fill="url(#cbg)"/>
<g transform="rotate(-1.0,372.8,292.6)">
<path d="M10.5,0.4 C13.5,0.4 15.2,2.5 15.6,5.5 C16,7.5 16.2,8.5 17.2,9.3 C19.5,10.6 20.6,13 20.3,17 C20.8,24 20.7,33 19.8,40 C19.3,43.5 18.4,45.5 18.8,48 L20,52.6 L15.4,52.6 L14.4,48.2 C13.2,48.6 12.3,49 11.7,49.4 L11.7,53 L9.3,53 L9.3,49.4 C8.7,49 7.8,48.6 6.6,48.2 L5.6,52.6 L1,52.6 L2.2,48 C2.6,45.5 1.7,43.5 1.2,40 C0.3,33 0.2,24 0.7,17 C0.4,13 1.5,10.6 3.8,9.3 C4.8,8.5 5,7.5 5.4,5.5 C5.8,2.5 7.5,0.4 10.5,0.4 Z" fill="url(#mb)" transform="translate(362.11,266.7) scale(0.986,0.979)"/>
<rect x="371.2" y="267.5" width="2.6" height="2.6" rx="0.6" fill="#fff"/>
<ellipse cx="374.9" cy="289.8" rx="4.4" ry="9.7" fill="#a0a0a0" opacity="0.1"/>
<ellipse cx="369.7" cy="304.3" rx="4.2" ry="9.0" fill="#a0a0a0" opacity="0.1"/>
</g></g>
<clipPath id="cc8"><rect x="386.1" y="266.7" width="19.2" height="51.9"/></clipPath>
<g clip-path="url(#cc8)">
<rect x="386.1" y="266.7" width="19.2" height="51.9" fill="url(#cbg)"/>
<g transform="rotate(-0.9,395.7,292.6)">
<path d="M10.5,0.4 C13.5,0.4 15.2,2.5 15.6,5.5 C16,7.5 16.2,8.5 17.2,9.3 C19.5,10.6 20.6,13 20.3,17 C20.8,24 20.7,33 19.8,40 C19.3,43.5 18.4,45.5 18.8,48 L20,52.6 L15.4,52.6 L14.4,48.2 C13.2,48.6 12.3,49 11.7,49.4 L11.7,53 L9.3,53 L9.3,49.4 C8.7,49 7.8,48.6 6.6,48.2 L5.6,52.6 L1,52.6 L2.2,48 C2.6,45.5 1.7,43.5 1.2,40 C0.3,33 0.2,24 0.7,17 C0.4,13 1.5,10.6 3.8,9.3 C4.8,8.5 5,7.5 5.4,5.5 C5.8,2.5 7.5,0.4 10.5,0.4 Z" fill="url(#mb)" transform="translate(386.23,266.7) scale(0.914,0.979)"/>
<rect x="394.5" y="267.5" width="2.6" height="2.6" rx="0.6" fill="#fff"/>
<ellipse cx="392.6" cy="283.8" rx="3.3" ry="6.7" fill="#a0a0a0" opacity="0.1"/>
<ellipse cx="393.0" cy="285.6" rx="4.1" ry="9.1" fill="#a0a0a0" opacity="0.1"/>
</g></g>
<clipPath id="cc9"><rect x="408.1" y="266.7" width="23.1" height="51.9"/></clipPath>
<g clip-path="url(#cc9)">
<rect x="408.1" y="266.7" width="23.1" height="51.9" fill="url(#cbg)"/>
<g transform="rotate(3.5,419.6,292.6)">
<path d="M10.5,0.4 C13.5,0.4 15.2,2.5 15.6,5.5 C16,7.5 16.2,8.5 17.2,9.3 C19.5,10.6 20.6,13 20.3,17 C20.8,24 20.7,33 19.8,40 C19.3,43.5 18.4,45.5 18.8,48 L20,52.6 L15.4,52.6 L14.4,48.2 C13.2,48.6 12.3,49 11.7,49.4 L11.7,53 L9.3,53 L9.3,49.4 C8.7,49 7.8,48.6 6.6,48.2 L5.6,52.6 L1,52.6 L2.2,48 C2.6,45.5 1.7,43.5 1.2,40 C0.3,33 0.2,24 0.7,17 C0.4,13 1.5,10.6 3.8,9.3 C4.8,8.5 5,7.5 5.4,5.5 C5.8,2.5 7.5,0.4 10.5,0.4 Z" fill="url(#mb)" transform="translate(408.46,266.7) scale(1.100,0.979)"/>
<rect x="418.7" y="267.5" width="2.6" height="2.6" rx="0.6" fill="#fff"/>
<ellipse cx="416.1" cy="303.1" rx="3.4" ry="6.3" fill="#a0a0a0" opacity="0.1"/>
<ellipse cx="417.7" cy="296.4" rx="3.1" ry="6.9" fill="#a0a0a0" opacity="0.1"/>
</g></g>
<clipPath id="cc10"><rect x="434.2" y="266.7" width="21.5" height="51.9"/></clipPath>
<g clip-path="url(#cc10)">
<rect x="434.2" y="266.7" width="21.5" height="51.9" fill="url(#cbg)"/>
<g transform="rotate(3.2,444.9,292.6)">
<path d="M10.5,0.4 C13.5,0.4 15.2,2.5 15.6,5.5 C16,7.5 16.2,8.5 17.2,9.3 C19.5,10.6 20.6,13 20.3,17 C20.8,24 20.7,33 19.8,40 C19.3,43.5 18.4,45.5 18.8,48 L20,52.6 L15.4,52.6 L14.4,48.2 C13.2,48.6 12.3,49 11.7,49.4 L11.7,53 L9.3,53 L9.3,49.4 C8.7,49 7.8,48.6 6.6,48.2 L5.6,52.6 L1,52.6 L2.2,48 C2.6,45.5 1.7,43.5 1.2,40 C0.3,33 0.2,24 0.7,17 C0.4,13 1.5,10.6 3.8,9.3 C4.8,8.5 5,7.5 5.4,5.5 C5.8,2.5 7.5,0.4 10.5,0.4 Z" fill="url(#mb)" transform="translate(434.08,266.7) scale(1.024,0.979)"/>
<rect x="443.5" y="267.5" width="2.6" height="2.6" rx="0.6" fill="#fff"/>
<ellipse cx="444.1" cy="291.5" rx="3.7" ry="6.4" fill="#a0a0a0" opacity="0.1"/>
<ellipse cx="448.2" cy="306.0" rx="4.4" ry="7.6" fill="#a0a0a0" opacity="0.1"/>
</g></g>
<clipPath id="cc11"><rect x="458.2" y="266.7" width="22.0" height="51.9"/></clipPath>
<g clip-path="url(#cc11)">
<rect x="458.2" y="266.7" width="22.0" height="51.9" fill="url(#cbg)"/>
<g transform="rotate(-1.9,469.2,292.6)">
<path d="M10.5,0.4 C13.5,0.4 15.2,2.5 15.6,5.5 C16,7.5 16.2,8.5 17.2,9.3 C19.5,10.6 20.6,13 20.3,17 C20.8,24 20.7,33 19.8,40 C19.3,43.5 18.4,45.5 18.8,48 L20,52.6 L15.4,52.6 L14.4,48.2 C13.2,48.6 12.3,49 11.7,49.4 L11.7,53 L9.3,53 L9.3,49.4 C8.7,49 7.8,48.6 6.6,48.2 L5.6,52.6 L1,52.6 L2.2,48 C2.6,45.5 1.7,43.5 1.2,40 C0.3,33 0.2,24 0.7,17 C0.4,13 1.5,10.6 3.8,9.3 C4.8,8.5 5,7.5 5.4,5.5 C5.8,2.5 7.5,0.4 10.5,0.4 Z" fill="url(#mb)" transform="translate(458.13,266.7) scale(1.048,0.979)"/>
<rect x="467.8" y="267.5" width="2.6" height="2.6" rx="0.6" fill="#fff"/>
<ellipse cx="470.6" cy="298.3" rx="3.6" ry="9.5" fill="#a0a0a0" opacity="0.1"/>
<ellipse cx="471.1" cy="285.9" rx="4.6" ry="8.7" fill="#a0a0a0" opacity="0.1"/>
</g></g>
<clipPath id="cc12"><rect x="482.7" y="266.7" width="22.7" height="51.9"/></clipPath>
<g clip-path="url(#cc12)">
<rect x="482.7" y="266.7" width="22.7" height="51.9" fill="url(#cbg)"/>
<g transform="rotate(-2.0,494.0,292.6)">
<path d="M10.5,0.4 C13.5,0.4 15.2,2.5 15.6,5.5 C16,7.5 16.2,8.5 17.2,9.3 C19.5,10.6 20.6,13 20.3,17 C20.8,24 20.7,33 19.8,40 C19.3,43.5 18.4,45.5 18.8,48 L20,52.6 L15.4,52.6 L14.4,48.2 C13.2,48.6 12.3,49 11.7,49.4 L11.7,53 L9.3,53 L9.3,49.4 C8.7,49 7.8,48.6 6.6,48.2 L5.6,52.6 L1,52.6 L2.2,48 C2.6,45.5 1.7,43.5 1.2,40 C0.3,33 0.2,24 0.7,17 C0.4,13 1.5,10.6 3.8,9.3 C4.8,8.5 5,7.5 5.4,5.5 C5.8,2.5 7.5,0.4 10.5,0.4 Z" fill="url(#mb)" transform="translate(482.40,266.7) scale(1.081,0.979)"/>
<rect x="492.4" y="267.5" width="2.6" height="2.6" rx="0.6" fill="#fff"/>
<ellipse cx="496.3" cy="282.0" rx="3.9" ry="9.9" fill="#a0a0a0" opacity="0.1"/>
<ellipse cx="491.8" cy="294.0" rx="4.8" ry="9.5" fill="#a0a0a0" opacity="0.1"/>
</g></g>
<clipPath id="cc13"><rect x="362.4" y="321.7" width="20.7" height="52.8"/></clipPath>
<g clip-path="url(#cc13)">
<rect x="362.4" y="321.7" width="20.7" height="52.8" fill="url(#cbg)"/>
<g transform="rotate(0.3,372.8,348.1)">
<path d="M10.5,0.4 C13.5,0.4 15.2,2.5 15.6,5.5 C16,7.5 16.2,8.5 17.2,9.3 C19.5,10.6 20.6,13 20.3,17 C20.8,24 20.7,33 19.8,40 C19.3,43.5 18.4,45.5 18.8,48 L20,52.6 L15.4,52.6 L14.4,48.2 C13.2,48.6 12.3,49 11.7,49.4 L11.7,53 L9.3,53 L9.3,49.4 C8.7,49 7.8,48.6 6.6,48.2 L5.6,52.6 L1,52.6 L2.2,48 C2.6,45.5 1.7,43.5 1.2,40 C0.3,33 0.2,24 0.7,17 C0.4,13 1.5,10.6 3.8,9.3 C4.8,8.5 5,7.5 5.4,5.5 C5.8,2.5 7.5,0.4 10.5,0.4 Z" fill="url(#mb)" transform="translate(362.75,321.7) scale(0.986,0.996)"/>
<rect x="371.8" y="322.5" width="2.6" height="2.6" rx="0.6" fill="#fff"/>
<ellipse cx="376.3" cy="342.4" rx="4.8" ry="7.6" fill="#a0a0a0" opacity="0.1"/>
<ellipse cx="374.1" cy="352.6" rx="3.6" ry="8.7" fill="#a0a0a0" opacity="0.1"/>
</g></g>
<clipPath id="cc14"><rect x="386.1" y="321.7" width="19.2" height="52.8"/></clipPath>
<g clip-path="url(#cc14)">
<rect x="386.1" y="321.7" width="19.2" height="52.8" fill="url(#cbg)"/>
<g transform="rotate(4.9,395.7,348.1)">
<path d="M10.5,0.4 C13.5,0.4 15.2,2.5 15.6,5.5 C16,7.5 16.2,8.5 17.2,9.3 C19.5,10.6 20.6,13 20.3,17 C20.8,24 20.7,33 19.8,40 C19.3,43.5 18.4,45.5 18.8,48 L20,52.6 L15.4,52.6 L14.4,48.2 C13.2,48.6 12.3,49 11.7,49.4 L11.7,53 L9.3,53 L9.3,49.4 C8.7,49 7.8,48.6 6.6,48.2 L5.6,52.6 L1,52.6 L2.2,48 C2.6,45.5 1.7,43.5 1.2,40 C0.3,33 0.2,24 0.7,17 C0.4,13 1.5,10.6 3.8,9.3 C4.8,8.5 5,7.5 5.4,5.5 C5.8,2.5 7.5,0.4 10.5,0.4 Z" fill="url(#mb)" transform="translate(386.23,321.7) scale(0.914,0.996)"/>
<rect x="394.5" y="322.5" width="2.6" height="2.6" rx="0.6" fill="#fff"/>
<ellipse cx="397.0" cy="347.7" rx="3.8" ry="9.5" fill="#a0a0a0" opacity="0.1"/>
<ellipse cx="394.5" cy="354.3" rx="4.4" ry="9.9" fill="#a0a0a0" opacity="0.1"/>
</g></g>
<clipPath id="cc15"><rect x="408.1" y="321.7" width="23.1" height="52.8"/></clipPath>
<g clip-path="url(#cc15)">
<rect x="408.1" y="321.7" width="23.1" height="52.8" fill="url(#cbg)"/>
<g transform="rotate(1.7,419.6,348.1)">
<path d="M10.5,0.4 C13.5,0.4 15.2,2.5 15.6,5.5 C16,7.5 16.2,8.5 17.2,9.3 C19.5,10.6 20.6,13 20.3,17 C20.8,24 20.7,33 19.8,40 C19.3,43.5 18.4,45.5 18.8,48 L20,52.6 L15.4,52.6 L14.4,48.2 C13.2,48.6 12.3,49 11.7,49.4 L11.7,53 L9.3,53 L9.3,49.4 C8.7,49 7.8,48.6 6.6,48.2 L5.6,52.6 L1,52.6 L2.2,48 C2.6,45.5 1.7,43.5 1.2,40 C0.3,33 0.2,24 0.7,17 C0.4,13 1.5,10.6 3.8,9.3 C4.8,8.5 5,7.5 5.4,5.5 C5.8,2.5 7.5,0.4 10.5,0.4 Z" fill="url(#mb)" transform="translate(407.73,321.7) scale(1.100,0.996)"/>
<rect x="418.0" y="322.5" width="2.6" height="2.6" rx="0.6" fill="#fff"/>
<ellipse cx="416.6" cy="353.5" rx="4.3" ry="9.0" fill="#a0a0a0" opacity="0.1"/>
<ellipse cx="423.0" cy="341.6" rx="4.7" ry="7.4" fill="#a0a0a0" opacity="0.1"/>
</g></g>
<clipPath id="cc16"><rect x="434.2" y="321.7" width="21.5" height="52.8"/></clipPath>
<g clip-path="url(#cc16)">
<rect x="434.2" y="321.7" width="21.5" height="52.8" fill="url(#cbg)"/>
<g transform="rotate(-3.9,444.9,348.1)">
<path d="M10.5,0.4 C13.5,0.4 15.2,2.5 15.6,5.5 C16,7.5 16.2,8.5 17.2,9.3 C19.5,10.6 20.6,13 20.3,17 C20.8,24 20.7,33 19.8,40 C19.3,43.5 18.4,45.5 18.8,48 L20,52.6 L15.4,52.6 L14.4,48.2 C13.2,48.6 12.3,49 11.7,49.4 L11.7,53 L9.3,53 L9.3,49.4 C8.7,49 7.8,48.6 6.6,48.2 L5.6,52.6 L1,52.6 L2.2,48 C2.6,45.5 1.7,43.5 1.2,40 C0.3,33 0.2,24 0.7,17 C0.4,13 1.5,10.6 3.8,9.3 C4.8,8.5 5,7.5 5.4,5.5 C5.8,2.5 7.5,0.4 10.5,0.4 Z" fill="url(#mb)" transform="translate(434.08,321.7) scale(1.024,0.996)"/>
<rect x="443.5" y="322.5" width="2.6" height="2.6" rx="0.6" fill="#fff"/>
<ellipse cx="445.2" cy="334.9" rx="3.6" ry="8.7" fill="#a0a0a0" opacity="0.1"/>
<ellipse cx="447.1" cy="339.8" rx="4.6" ry="7.8" fill="#a0a0a0" opacity="0.1"/>
</g></g>
<clipPath id="cc17"><rect x="458.2" y="321.7" width="22.0" height="52.8"/></clipPath>
<g clip-path="url(#cc17)">
<rect x="458.2" y="321.7" width="22.0" height="52.8" fill="url(#cbg)"/>
<g transform="rotate(2.5,469.2,348.1)">
<path d="M10.5,0.4 C13.5,0.4 15.2,2.5 15.6,5.5 C16,7.5 16.2,8.5 17.2,9.3 C19.5,10.6 20.6,13 20.3,17 C20.8,24 20.7,33 19.8,40 C19.3,43.5 18.4,45.5 18.8,48 L20,52.6 L15.4,52.6 L14.4,48.2 C13.2,48.6 12.3,49 11.7,49.4 L11.7,53 L9.3,53 L9.3,49.4 C8.7,49 7.8,48.6 6.6,48.2 L5.6,52.6 L1,52.6 L2.2,48 C2.6,45.5 1.7,43.5 1.2,40 C0.3,33 0.2,24 0.7,17 C0.4,13 1.5,10.6 3.8,9.3 C4.8,8.5 5,7.5 5.4,5.5 C5.8,2.5 7.5,0.4 10.5,0.4 Z" fill="url(#mb)" transform="translate(457.85,321.7) scale(1.048,0.996)"/>
<rect x="467.5" y="322.5" width="2.6" height="2.6" rx="0.6" fill="#fff"/>
<ellipse cx="471.3" cy="348.5" rx="4.1" ry="8.5" fill="#a0a0a0" opacity="0.1"/>
<ellipse cx="470.4" cy="357.1" rx="4.5" ry="6.8" fill="#a0a0a0" opacity="0.1"/>
</g></g>
<clipPath id="cc18"><rect x="482.7" y="321.7" width="22.7" height="52.8"/></clipPath>
<g clip-path="url(#cc18)">
<rect x="482.7" y="321.7" width="22.7" height="52.8" fill="url(#cbg)"/>
<g transform="rotate(-3.9,494.0,348.1)">
<path d="M10.5,0.4 C13.5,0.4 15.2,2.5 15.6,5.5 C16,7.5 16.2,8.5 17.2,9.3 C19.5,10.6 20.6,13 20.3,17 C20.8,24 20.7,33 19.8,40 C19.3,43.5 18.4,45.5 18.8,48 L20,52.6 L15.4,52.6 L14.4,48.2 C13.2,48.6 12.3,49 11.7,49.4 L11.7,53 L9.3,53 L9.3,49.4 C8.7,49 7.8,48.6 6.6,48.2 L5.6,52.6 L1,52.6 L2.2,48 C2.6,45.5 1.7,43.5 1.2,40 C0.3,33 0.2,24 0.7,17 C0.4,13 1.5,10.6 3.8,9.3 C4.8,8.5 5,7.5 5.4,5.5 C5.8,2.5 7.5,0.4 10.5,0.4 Z" fill="url(#mb)" transform="translate(482.12,321.7) scale(1.081,0.996)"/>
<rect x="492.2" y="322.5" width="2.6" height="2.6" rx="0.6" fill="#fff"/>
<ellipse cx="492.3" cy="351.8" rx="4.9" ry="7.7" fill="#a0a0a0" opacity="0.1"/>
<ellipse cx="492.9" cy="351.1" rx="4.9" ry="8.4" fill="#a0a0a0" opacity="0.1"/>
</g></g>
<clipPath id="cc19"><rect x="362.4" y="377" width="20.7" height="54.1"/></clipPath>
<g clip-path="url(#cc19)">
<rect x="362.4" y="377" width="20.7" height="54.1" fill="url(#cbg)"/>
<g transform="rotate(2.6,372.8,404.1)">
<path d="M10.5,0.4 C13.5,0.4 15.2,2.5 15.6,5.5 C16,7.5 16.2,8.5 17.2,9.3 C19.5,10.6 20.6,13 20.3,17 C20.8,24 20.7,33 19.8,40 C19.3,43.5 18.4,45.5 18.8,48 L20,52.6 L15.4,52.6 L14.4,48.2 C13.2,48.6 12.3,49 11.7,49.4 L11.7,53 L9.3,53 L9.3,49.4 C8.7,49 7.8,48.6 6.6,48.2 L5.6,52.6 L1,52.6 L2.2,48 C2.6,45.5 1.7,43.5 1.2,40 C0.3,33 0.2,24 0.7,17 C0.4,13 1.5,10.6 3.8,9.3 C4.8,8.5 5,7.5 5.4,5.5 C5.8,2.5 7.5,0.4 10.5,0.4 Z" fill="url(#mb)" transform="translate(362.15,377) scale(0.986,1.021)"/>
<rect x="371.2" y="377.8" width="2.6" height="2.6" rx="0.6" fill="#fff"/>
<ellipse cx="376.8" cy="414.1" rx="3.8" ry="6.7" fill="#a0a0a0" opacity="0.1"/>
<ellipse cx="372.4" cy="394.3" rx="3.3" ry="7.8" fill="#a0a0a0" opacity="0.1"/>
</g></g>
<clipPath id="cc20"><rect x="386.1" y="377" width="19.2" height="54.1"/></clipPath>
<g clip-path="url(#cc20)">
<rect x="386.1" y="377" width="19.2" height="54.1" fill="url(#cbg)"/>
<g transform="rotate(2.0,395.7,404.1)">
<path d="M10.5,0.4 C13.5,0.4 15.2,2.5 15.6,5.5 C16,7.5 16.2,8.5 17.2,9.3 C19.5,10.6 20.6,13 20.3,17 C20.8,24 20.7,33 19.8,40 C19.3,43.5 18.4,45.5 18.8,48 L20,52.6 L15.4,52.6 L14.4,48.2 C13.2,48.6 12.3,49 11.7,49.4 L11.7,53 L9.3,53 L9.3,49.4 C8.7,49 7.8,48.6 6.6,48.2 L5.6,52.6 L1,52.6 L2.2,48 C2.6,45.5 1.7,43.5 1.2,40 C0.3,33 0.2,24 0.7,17 C0.4,13 1.5,10.6 3.8,9.3 C4.8,8.5 5,7.5 5.4,5.5 C5.8,2.5 7.5,0.4 10.5,0.4 Z" fill="url(#mb)" transform="translate(386.52,377) scale(0.914,1.021)"/>
<rect x="394.8" y="377.8" width="2.6" height="2.6" rx="0.6" fill="#fff"/>
<ellipse cx="395.1" cy="418.9" rx="3.4" ry="7.0" fill="#a0a0a0" opacity="0.1"/>
<ellipse cx="394.0" cy="407.6" rx="4.8" ry="7.5" fill="#a0a0a0" opacity="0.1"/>
</g></g>
<clipPath id="cc21"><rect x="408.1" y="377" width="23.1" height="54.1"/></clipPath>
<g clip-path="url(#cc21)">
<rect x="408.1" y="377" width="23.1" height="54.1" fill="url(#cbg)"/>
<g transform="rotate(4.4,419.6,404.1)">
<path d="M10.5,0.4 C13.5,0.4 15.2,2.5 15.6,5.5 C16,7.5 16.2,8.5 17.2,9.3 C19.5,10.6 20.6,13 20.3,17 C20.8,24 20.7,33 19.8,40 C19.3,43.5 18.4,45.5 18.8,48 L20,52.6 L15.4,52.6 L14.4,48.2 C13.2,48.6 12.3,49 11.7,49.4 L11.7,53 L9.3,53 L9.3,49.4 C8.7,49 7.8,48.6 6.6,48.2 L5.6,52.6 L1,52.6 L2.2,48 C2.6,45.5 1.7,43.5 1.2,40 C0.3,33 0.2,24 0.7,17 C0.4,13 1.5,10.6 3.8,9.3 C4.8,8.5 5,7.5 5.4,5.5 C5.8,2.5 7.5,0.4 10.5,0.4 Z" fill="url(#mb)" transform="translate(408.49,377) scale(1.100,1.021)"/>
<rect x="418.7" y="377.8" width="2.6" height="2.6" rx="0.6" fill="#fff"/>
<ellipse cx="419.5" cy="417.1" rx="4.8" ry="7.9" fill="#a0a0a0" opacity="0.1"/>
<ellipse cx="416.6" cy="392.7" rx="3.5" ry="7.8" fill="#a0a0a0" opacity="0.1"/>
</g></g>
<clipPath id="cc22"><rect x="434.2" y="377" width="21.5" height="54.1"/></clipPath>
<g clip-path="url(#cc22)">
<rect x="434.2" y="377" width="21.5" height="54.1" fill="url(#cbg)"/>
<g transform="rotate(-1.7,444.9,404.1)">
<path d="M10.5,0.4 C13.5,0.4 15.2,2.5 15.6,5.5 C16,7.5 16.2,8.5 17.2,9.3 C19.5,10.6 20.6,13 20.3,17 C20.8,24 20.7,33 19.8,40 C19.3,43.5 18.4,45.5 18.8,48 L20,52.6 L15.4,52.6 L14.4,48.2 C13.2,48.6 12.3,49 11.7,49.4 L11.7,53 L9.3,53 L9.3,49.4 C8.7,49 7.8,48.6 6.6,48.2 L5.6,52.6 L1,52.6 L2.2,48 C2.6,45.5 1.7,43.5 1.2,40 C0.3,33 0.2,24 0.7,17 C0.4,13 1.5,10.6 3.8,9.3 C4.8,8.5 5,7.5 5.4,5.5 C5.8,2.5 7.5,0.4 10.5,0.4 Z" fill="url(#mb)" transform="translate(433.62,377) scale(1.024,1.021)"/>
<rect x="443.1" y="377.8" width="2.6" height="2.6" rx="0.6" fill="#fff"/>
<ellipse cx="444.9" cy="400.5" rx="4.5" ry="8.3" fill="#a0a0a0" opacity="0.1"/>
<ellipse cx="445.2" cy="409.4" rx="4.2" ry="7.7" fill="#a0a0a0" opacity="0.1"/>
</g></g>
<clipPath id="cc23"><rect x="458.2" y="377" width="22.0" height="54.1"/></clipPath>
<g clip-path="url(#cc23)">
<rect x="458.2" y="377" width="22.0" height="54.1" fill="url(#cbg)"/>
<g transform="rotate(0.9,469.2,404.1)">
<path d="M10.5,0.4 C13.5,0.4 15.2,2.5 15.6,5.5 C16,7.5 16.2,8.5 17.2,9.3 C19.5,10.6 20.6,13 20.3,17 C20.8,24 20.7,33 19.8,40 C19.3,43.5 18.4,45.5 18.8,48 L20,52.6 L15.4,52.6 L14.4,48.2 C13.2,48.6 12.3,49 11.7,49.4 L11.7,53 L9.3,53 L9.3,49.4 C8.7,49 7.8,48.6 6.6,48.2 L5.6,52.6 L1,52.6 L2.2,48 C2.6,45.5 1.7,43.5 1.2,40 C0.3,33 0.2,24 0.7,17 C0.4,13 1.5,10.6 3.8,9.3 C4.8,8.5 5,7.5 5.4,5.5 C5.8,2.5 7.5,0.4 10.5,0.4 Z" fill="url(#mb)" transform="translate(457.80,377) scale(1.048,1.021)"/>
<rect x="467.5" y="377.8" width="2.6" height="2.6" rx="0.6" fill="#fff"/>
<ellipse cx="465.2" cy="391.6" rx="3.7" ry="6.9" fill="#a0a0a0" opacity="0.1"/>
<ellipse cx="471.4" cy="395.2" rx="3.9" ry="8.8" fill="#a0a0a0" opacity="0.1"/>
</g></g>
<clipPath id="cc24"><rect x="482.7" y="377" width="22.7" height="54.1"/></clipPath>
<g clip-path="url(#cc24)">
<rect x="482.7" y="377" width="22.7" height="54.1" fill="url(#cbg)"/>
<g transform="rotate(3.1,494.0,404.1)">
<path d="M10.5,0.4 C13.5,0.4 15.2,2.5 15.6,5.5 C16,7.5 16.2,8.5 17.2,9.3 C19.5,10.6 20.6,13 20.3,17 C20.8,24 20.7,33 19.8,40 C19.3,43.5 18.4,45.5 18.8,48 L20,52.6 L15.4,52.6 L14.4,48.2 C13.2,48.6 12.3,49 11.7,49.4 L11.7,53 L9.3,53 L9.3,49.4 C8.7,49 7.8,48.6 6.6,48.2 L5.6,52.6 L1,52.6 L2.2,48 C2.6,45.5 1.7,43.5 1.2,40 C0.3,33 0.2,24 0.7,17 C0.4,13 1.5,10.6 3.8,9.3 C4.8,8.5 5,7.5 5.4,5.5 C5.8,2.5 7.5,0.4 10.5,0.4 Z" fill="url(#mb)" transform="translate(482.60,377) scale(1.081,1.021)"/>
<rect x="492.7" y="377.8" width="2.6" height="2.6" rx="0.6" fill="#fff"/>
<ellipse cx="490.6" cy="395.6" rx="3.6" ry="7.5" fill="#a0a0a0" opacity="0.1"/>
<ellipse cx="494.6" cy="396.4" rx="4.1" ry="8.8" fill="#a0a0a0" opacity="0.1"/>
</g></g>
<clipPath id="cc25"><rect x="362.4" y="434.2" width="20.7" height="52.2"/></clipPath>
<g clip-path="url(#cc25)">
<rect x="362.4" y="434.2" width="20.7" height="52.2" fill="url(#cbg)"/>
<g transform="rotate(3.2,372.8,460.3)">
<path d="M10.5,0.4 C13.5,0.4 15.2,2.5 15.6,5.5 C16,7.5 16.2,8.5 17.2,9.3 C19.5,10.6 20.6,13 20.3,17 C20.8,24 20.7,33 19.8,40 C19.3,43.5 18.4,45.5 18.8,48 L20,52.6 L15.4,52.6 L14.4,48.2 C13.2,48.6 12.3,49 11.7,49.4 L11.7,53 L9.3,53 L9.3,49.4 C8.7,49 7.8,48.6 6.6,48.2 L5.6,52.6 L1,52.6 L2.2,48 C2.6,45.5 1.7,43.5 1.2,40 C0.3,33 0.2,24 0.7,17 C0.4,13 1.5,10.6 3.8,9.3 C4.8,8.5 5,7.5 5.4,5.5 C5.8,2.5 7.5,0.4 10.5,0.4 Z" fill="url(#mb)" transform="translate(362.58,434.2) scale(0.986,0.985)"/>
<rect x="371.6" y="435.0" width="2.6" height="2.6" rx="0.6" fill="#fff"/>
<ellipse cx="369.3" cy="466.7" rx="4.4" ry="9.3" fill="#a0a0a0" opacity="0.1"/>
<ellipse cx="369.9" cy="449.7" rx="4.5" ry="8.6" fill="#a0a0a0" opacity="0.1"/>
</g></g>
<clipPath id="cc26"><rect x="386.1" y="434.2" width="19.2" height="52.2"/></clipPath>
<g clip-path="url(#cc26)">
<rect x="386.1" y="434.2" width="19.2" height="52.2" fill="url(#cbg)"/>
<g transform="rotate(3.7,395.7,460.3)">
<path d="M10.5,0.4 C13.5,0.4 15.2,2.5 15.6,5.5 C16,7.5 16.2,8.5 17.2,9.3 C19.5,10.6 20.6,13 20.3,17 C20.8,24 20.7,33 19.8,40 C19.3,43.5 18.4,45.5 18.8,48 L20,52.6 L15.4,52.6 L14.4,48.2 C13.2,48.6 12.3,49 11.7,49.4 L11.7,53 L9.3,53 L9.3,49.4 C8.7,49 7.8,48.6 6.6,48.2 L5.6,52.6 L1,52.6 L2.2,48 C2.6,45.5 1.7,43.5 1.2,40 C0.3,33 0.2,24 0.7,17 C0.4,13 1.5,10.6 3.8,9.3 C4.8,8.5 5,7.5 5.4,5.5 C5.8,2.5 7.5,0.4 10.5,0.4 Z" fill="url(#mb)" transform="translate(385.70,434.2) scale(0.914,0.985)"/>
<rect x="394.0" y="435.0" width="2.6" height="2.6" rx="0.6" fill="#fff"/>
<ellipse cx="397.4" cy="464.9" rx="4.5" ry="8.4" fill="#a0a0a0" opacity="0.1"/>
<ellipse cx="394.5" cy="448.8" rx="3.7" ry="8.5" fill="#a0a0a0" opacity="0.1"/>
</g></g>
<clipPath id="cc27"><rect x="408.1" y="434.2" width="23.1" height="52.2"/></clipPath>
<g clip-path="url(#cc27)">
<rect x="408.1" y="434.2" width="23.1" height="52.2" fill="url(#cbg)"/>
<g transform="rotate(-3.2,419.6,460.3)">
<path d="M10.5,0.4 C13.5,0.4 15.2,2.5 15.6,5.5 C16,7.5 16.2,8.5 17.2,9.3 C19.5,10.6 20.6,13 20.3,17 C20.8,24 20.7,33 19.8,40 C19.3,43.5 18.4,45.5 18.8,48 L20,52.6 L15.4,52.6 L14.4,48.2 C13.2,48.6 12.3,49 11.7,49.4 L11.7,53 L9.3,53 L9.3,49.4 C8.7,49 7.8,48.6 6.6,48.2 L5.6,52.6 L1,52.6 L2.2,48 C2.6,45.5 1.7,43.5 1.2,40 C0.3,33 0.2,24 0.7,17 C0.4,13 1.5,10.6 3.8,9.3 C4.8,8.5 5,7.5 5.4,5.5 C5.8,2.5 7.5,0.4 10.5,0.4 Z" fill="url(#mb)" transform="translate(407.73,434.2) scale(1.100,0.985)"/>
<rect x="418.0" y="435.0" width="2.6" height="2.6" rx="0.6" fill="#fff"/>
<ellipse cx="416.1" cy="461.5" rx="4.9" ry="8.9" fill="#a0a0a0" opacity="0.1"/>
<ellipse cx="415.1" cy="458.1" rx="4.4" ry="6.4" fill="#a0a0a0" opacity="0.1"/>
</g></g>
<clipPath id="cc28"><rect x="434.2" y="434.2" width="21.5" height="52.2"/></clipPath>
<g clip-path="url(#cc28)">
<rect x="434.2" y="434.2" width="21.5" height="52.2" fill="url(#cbg)"/>
<g transform="rotate(-2.6,444.9,460.3)">
<path d="M10.5,0.4 C13.5,0.4 15.2,2.5 15.6,5.5 C16,7.5 16.2,8.5 17.2,9.3 C19.5,10.6 20.6,13 20.3,17 C20.8,24 20.7,33 19.8,40 C19.3,43.5 18.4,45.5 18.8,48 L20,52.6 L15.4,52.6 L14.4,48.2 C13.2,48.6 12.3,49 11.7,49.4 L11.7,53 L9.3,53 L9.3,49.4 C8.7,49 7.8,48.6 6.6,48.2 L5.6,52.6 L1,52.6 L2.2,48 C2.6,45.5 1.7,43.5 1.2,40 C0.3,33 0.2,24 0.7,17 C0.4,13 1.5,10.6 3.8,9.3 C4.8,8.5 5,7.5 5.4,5.5 C5.8,2.5 7.5,0.4 10.5,0.4 Z" fill="url(#mb)" transform="translate(434.55,434.2) scale(1.024,0.985)"/>
<rect x="444.0" y="435.0" width="2.6" height="2.6" rx="0.6" fill="#fff"/>
<ellipse cx="444.5" cy="470.0" rx="4.7" ry="6.3" fill="#a0a0a0" opacity="0.1"/>
<ellipse cx="447.7" cy="472.4" rx="4.7" ry="9.1" fill="#a0a0a0" opacity="0.1"/>
</g></g>
<clipPath id="cc29"><rect x="458.2" y="434.2" width="22.0" height="52.2"/></clipPath>
<g clip-path="url(#cc29)">
<rect x="458.2" y="434.2" width="22.0" height="52.2" fill="url(#cbg)"/>
<g transform="rotate(-1.9,469.2,460.3)">
<path d="M10.5,0.4 C13.5,0.4 15.2,2.5 15.6,5.5 C16,7.5 16.2,8.5 17.2,9.3 C19.5,10.6 20.6,13 20.3,17 C20.8,24 20.7,33 19.8,40 C19.3,43.5 18.4,45.5 18.8,48 L20,52.6 L15.4,52.6 L14.4,48.2 C13.2,48.6 12.3,49 11.7,49.4 L11.7,53 L9.3,53 L9.3,49.4 C8.7,49 7.8,48.6 6.6,48.2 L5.6,52.6 L1,52.6 L2.2,48 C2.6,45.5 1.7,43.5 1.2,40 C0.3,33 0.2,24 0.7,17 C0.4,13 1.5,10.6 3.8,9.3 C4.8,8.5 5,7.5 5.4,5.5 C5.8,2.5 7.5,0.4 10.5,0.4 Z" fill="url(#mb)" transform="translate(458.05,434.2) scale(1.048,0.985)"/>
<rect x="467.7" y="435.0" width="2.6" height="2.6" rx="0.6" fill="#fff"/>
<ellipse cx="465.2" cy="458.6" rx="3.6" ry="6.6" fill="#a0a0a0" opacity="0.1"/>
<ellipse cx="473.1" cy="472.5" rx="4.6" ry="7.2" fill="#a0a0a0" opacity="0.1"/>
</g></g>
<clipPath id="cc30"><rect x="482.7" y="434.2" width="22.7" height="52.2"/></clipPath>
<g clip-path="url(#cc30)">
<rect x="482.7" y="434.2" width="22.7" height="52.2" fill="url(#cbg)"/>
<g transform="rotate(-0.7,494.0,460.3)">
<path d="M10.5,0.4 C13.5,0.4 15.2,2.5 15.6,5.5 C16,7.5 16.2,8.5 17.2,9.3 C19.5,10.6 20.6,13 20.3,17 C20.8,24 20.7,33 19.8,40 C19.3,43.5 18.4,45.5 18.8,48 L20,52.6 L15.4,52.6 L14.4,48.2 C13.2,48.6 12.3,49 11.7,49.4 L11.7,53 L9.3,53 L9.3,49.4 C8.7,49 7.8,48.6 6.6,48.2 L5.6,52.6 L1,52.6 L2.2,48 C2.6,45.5 1.7,43.5 1.2,40 C0.3,33 0.2,24 0.7,17 C0.4,13 1.5,10.6 3.8,9.3 C4.8,8.5 5,7.5 5.4,5.5 C5.8,2.5 7.5,0.4 10.5,0.4 Z" fill="url(#mb)" transform="translate(482.25,434.2) scale(1.081,0.985)"/>
<rect x="492.3" y="435.0" width="2.6" height="2.6" rx="0.6" fill="#fff"/>
<ellipse cx="490.2" cy="457.4" rx="4.2" ry="7.3" fill="#a0a0a0" opacity="0.1"/>
<ellipse cx="492.5" cy="456.6" rx="4.7" ry="6.1" fill="#a0a0a0" opacity="0.1"/>
</g></g>
<clipPath id="cc31"><rect x="434.2" y="488.8" width="21.5" height="55.0"/></clipPath>
<g clip-path="url(#cc31)">
<rect x="434.2" y="488.8" width="21.5" height="55.0" fill="url(#cbg)"/>
<g transform="rotate(1.1,444.9,516.3)">
<path d="M10.5,0.4 C13.5,0.4 15.2,2.5 15.6,5.5 C16,7.5 16.2,8.5 17.2,9.3 C19.5,10.6 20.6,13 20.3,17 C20.8,24 20.7,33 19.8,40 C19.3,43.5 18.4,45.5 18.8,48 L20,52.6 L15.4,52.6 L14.4,48.2 C13.2,48.6 12.3,49 11.7,49.4 L11.7,53 L9.3,53 L9.3,49.4 C8.7,49 7.8,48.6 6.6,48.2 L5.6,52.6 L1,52.6 L2.2,48 C2.6,45.5 1.7,43.5 1.2,40 C0.3,33 0.2,24 0.7,17 C0.4,13 1.5,10.6 3.8,9.3 C4.8,8.5 5,7.5 5.4,5.5 C5.8,2.5 7.5,0.4 10.5,0.4 Z" fill="url(#mb)" transform="translate(434.58,488.8) scale(1.024,1.038)"/>
<rect x="444.0" y="489.6" width="2.6" height="2.6" rx="0.6" fill="#fff"/>
<ellipse cx="445.4" cy="523.5" rx="3.0" ry="9.5" fill="#a0a0a0" opacity="0.1"/>
<ellipse cx="443.1" cy="514.6" rx="4.0" ry="9.6" fill="#a0a0a0" opacity="0.1"/>
</g></g>
<clipPath id="cc32"><rect x="458.2" y="488.8" width="22.0" height="55.0"/></clipPath>
<g clip-path="url(#cc32)">
<rect x="458.2" y="488.8" width="22.0" height="55.0" fill="url(#cbg)"/>
<g transform="rotate(0.2,469.2,516.3)">
<path d="M10.5,0.4 C13.5,0.4 15.2,2.5 15.6,5.5 C16,7.5 16.2,8.5 17.2,9.3 C19.5,10.6 20.6,13 20.3,17 C20.8,24 20.7,33 19.8,40 C19.3,43.5 18.4,45.5 18.8,48 L20,52.6 L15.4,52.6 L14.4,48.2 C13.2,48.6 12.3,49 11.7,49.4 L11.7,53 L9.3,53 L9.3,49.4 C8.7,49 7.8,48.6 6.6,48.2 L5.6,52.6 L1,52.6 L2.2,48 C2.6,45.5 1.7,43.5 1.2,40 C0.3,33 0.2,24 0.7,17 C0.4,13 1.5,10.6 3.8,9.3 C4.8,8.5 5,7.5 5.4,5.5 C5.8,2.5 7.5,0.4 10.5,0.4 Z" fill="url(#mb)" transform="translate(457.87,488.8) scale(1.048,1.038)"/>
<rect x="467.6" y="489.6" width="2.6" height="2.6" rx="0.6" fill="#fff"/>
<ellipse cx="473.5" cy="509.0" rx="4.3" ry="6.7" fill="#a0a0a0" opacity="0.1"/>
<ellipse cx="469.8" cy="515.7" rx="4.1" ry="6.1" fill="#a0a0a0" opacity="0.1"/>
</g></g>
<clipPath id="cc33"><rect x="482.7" y="488.8" width="22.7" height="55.0"/></clipPath>
<g clip-path="url(#cc33)">
<rect x="482.7" y="488.8" width="22.7" height="55.0" fill="url(#cbg)"/>
<g transform="rotate(4.0,494.0,516.3)">
<path d="M10.5,0.4 C13.5,0.4 15.2,2.5 15.6,5.5 C16,7.5 16.2,8.5 17.2,9.3 C19.5,10.6 20.6,13 20.3,17 C20.8,24 20.7,33 19.8,40 C19.3,43.5 18.4,45.5 18.8,48 L20,52.6 L15.4,52.6 L14.4,48.2 C13.2,48.6 12.3,49 11.7,49.4 L11.7,53 L9.3,53 L9.3,49.4 C8.7,49 7.8,48.6 6.6,48.2 L5.6,52.6 L1,52.6 L2.2,48 C2.6,45.5 1.7,43.5 1.2,40 C0.3,33 0.2,24 0.7,17 C0.4,13 1.5,10.6 3.8,9.3 C4.8,8.5 5,7.5 5.4,5.5 C5.8,2.5 7.5,0.4 10.5,0.4 Z" fill="url(#mb)" transform="translate(482.34,488.8) scale(1.081,1.038)"/>
<rect x="492.4" y="489.6" width="2.6" height="2.6" rx="0.6" fill="#fff"/>
<ellipse cx="491.1" cy="511.6" rx="5.0" ry="7.0" fill="#a0a0a0" opacity="0.1"/>
<ellipse cx="494.8" cy="515.6" rx="3.0" ry="8.6" fill="#a0a0a0" opacity="0.1"/>
</g></g>
<clipPath id="cc34"><rect x="434.2" y="546.2" width="21.5" height="53.8"/></clipPath>
<g clip-path="url(#cc34)">
<rect x="434.2" y="546.2" width="21.5" height="53.8" fill="url(#cbg)"/>
<g transform="rotate(4.4,444.9,573.1)">
<path d="M10.5,0.4 C13.5,0.4 15.2,2.5 15.6,5.5 C16,7.5 16.2,8.5 17.2,9.3 C19.5,10.6 20.6,13 20.3,17 C20.8,24 20.7,33 19.8,40 C19.3,43.5 18.4,45.5 18.8,48 L20,52.6 L15.4,52.6 L14.4,48.2 C13.2,48.6 12.3,49 11.7,49.4 L11.7,53 L9.3,53 L9.3,49.4 C8.7,49 7.8,48.6 6.6,48.2 L5.6,52.6 L1,52.6 L2.2,48 C2.6,45.5 1.7,43.5 1.2,40 C0.3,33 0.2,24 0.7,17 C0.4,13 1.5,10.6 3.8,9.3 C4.8,8.5 5,7.5 5.4,5.5 C5.8,2.5 7.5,0.4 10.5,0.4 Z" fill="url(#mb)" transform="translate(434.20,546.2) scale(1.024,1.015)"/>
<rect x="443.7" y="547.0" width="2.6" height="2.6" rx="0.6" fill="#fff"/>
<ellipse cx="449.0" cy="561.8" rx="4.2" ry="7.4" fill="#a0a0a0" opacity="0.1"/>
<ellipse cx="441.8" cy="586.8" rx="3.2" ry="8.0" fill="#a0a0a0" opacity="0.1"/>
</g></g>
<clipPath id="cc35"><rect x="458.2" y="546.2" width="22.0" height="53.8"/></clipPath>
<g clip-path="url(#cc35)">
<rect x="458.2" y="546.2" width="22.0" height="53.8" fill="url(#cbg)"/>
<g transform="rotate(0.7,469.2,573.1)">
<path d="M10.5,0.4 C13.5,0.4 15.2,2.5 15.6,5.5 C16,7.5 16.2,8.5 17.2,9.3 C19.5,10.6 20.6,13 20.3,17 C20.8,24 20.7,33 19.8,40 C19.3,43.5 18.4,45.5 18.8,48 L20,52.6 L15.4,52.6 L14.4,48.2 C13.2,48.6 12.3,49 11.7,49.4 L11.7,53 L9.3,53 L9.3,49.4 C8.7,49 7.8,48.6 6.6,48.2 L5.6,52.6 L1,52.6 L2.2,48 C2.6,45.5 1.7,43.5 1.2,40 C0.3,33 0.2,24 0.7,17 C0.4,13 1.5,10.6 3.8,9.3 C4.8,8.5 5,7.5 5.4,5.5 C5.8,2.5 7.5,0.4 10.5,0.4 Z" fill="url(#mb)" transform="translate(457.88,546.2) scale(1.048,1.015)"/>
<rect x="467.6" y="547.0" width="2.6" height="2.6" rx="0.6" fill="#fff"/>
<ellipse cx="466.6" cy="584.9" rx="3.9" ry="6.8" fill="#a0a0a0" opacity="0.1"/>
<ellipse cx="471.8" cy="563.6" rx="4.5" ry="7.0" fill="#a0a0a0" opacity="0.1"/>
</g></g>
<clipPath id="cc36"><rect x="482.7" y="546.2" width="22.7" height="53.8"/></clipPath>
<g clip-path="url(#cc36)">
<rect x="482.7" y="546.2" width="22.7" height="53.8" fill="url(#cbg)"/>
<g transform="rotate(-2.4,494.0,573.1)">
<path d="M10.5,0.4 C13.5,0.4 15.2,2.5 15.6,5.5 C16,7.5 16.2,8.5 17.2,9.3 C19.5,10.6 20.6,13 20.3,17 C20.8,24 20.7,33 19.8,40 C19.3,43.5 18.4,45.5 18.8,48 L20,52.6 L15.4,52.6 L14.4,48.2 C13.2,48.6 12.3,49 11.7,49.4 L11.7,53 L9.3,53 L9.3,49.4 C8.7,49 7.8,48.6 6.6,48.2 L5.6,52.6 L1,52.6 L2.2,48 C2.6,45.5 1.7,43.5 1.2,40 C0.3,33 0.2,24 0.7,17 C0.4,13 1.5,10.6 3.8,9.3 C4.8,8.5 5,7.5 5.4,5.5 C5.8,2.5 7.5,0.4 10.5,0.4 Z" fill="url(#mb)" transform="translate(483.11,546.2) scale(1.081,1.015)"/>
<rect x="493.2" y="547.0" width="2.6" height="2.6" rx="0.6" fill="#fff"/>
<ellipse cx="495.4" cy="579.5" rx="4.0" ry="9.5" fill="#a0a0a0" opacity="0.1"/>
<ellipse cx="494.4" cy="566.6" rx="4.0" ry="8.7" fill="#a0a0a0" opacity="0.1"/>
</g></g>
<path d="M375.9,377.0h0.6v0.6h-0.6zM368.9,398.7h0.6v0.6h-0.6zM372.5,392.0h0.6v0.6h-0.6zM373.7,393.2h0.6v0.6h-0.6zM364.3,394.3h0.6v0.6h-0.6zM376.7,403.8h0.6v0.6h-0.6zM368.9,408.2h0.6v0.6h-0.6zM374.0,400.7h0.6v0.6h-0.6zM368.2,405.7h0.6v0.6h-0.6zM374.0,406.8h0.6v0.6h-0.6zM376.0,395.9h0.6v0.6h-0.6zM376.6,397.7h0.6v0.6h-0.6zM370.7,408.7h0.6v0.6h-0.6zM372.8,403.4h0.6v0.6h-0.6zM373.4,379.7h0.6v0.6h-0.6zM379.8,396.4h0.6v0.6h-0.6zM377.3,392.7h0.6v0.6h-0.6zM369.4,400.5h0.6v0.6h-0.6zM363.2,392.7h0.6v0.6h-0.6zM372.5,389.3h0.6v0.6h-0.6zM371.9,393.9h0.6v0.6h-0.6zM369.3,389.2h0.6v0.6h-0.6zM377.1,386.6h0.6v0.6h-0.6zM371.4,421.7h0.6v0.6h-0.6zM371.2,405.6h0.6v0.6h-0.6zM378.7,392.7h0.6v0.6h-0.6zM372.0,415.0h0.6v0.6h-0.6zM376.5,423.7h0.6v0.6h-0.6zM367.7,421.3h0.6v0.6h-0.6zM366.6,409.7h0.6v0.6h-0.6zM372.1,405.7h0.6v0.6h-0.6zM375.3,403.9h0.6v0.6h-0.6zM370.8,405.3h0.6v0.6h-0.6zM368.6,403.9h0.6v0.6h-0.6zM371.7,413.5h0.6v0.6h-0.6zM371.1,414.6h0.6v0.6h-0.6zM366.7,396.0h0.6v0.6h-0.6zM375.1,402.9h0.6v0.6h-0.6zM377.5,409.0h0.6v0.6h-0.6zM367.8,404.0h0.6v0.6h-0.6zM369.9,405.9h0.6v0.6h-0.6zM367.8,413.2h0.6v0.6h-0.6zM375.3,392.1h0.6v0.6h-0.6zM371.7,399.3h0.6v0.6h-0.6zM372.0,389.5h0.6v0.6h-0.6zM363.9,397.2h0.6v0.6h-0.6zM371.6,392.6h0.6v0.6h-0.6zM363.0,420.5h0.6v0.6h-0.6zM363.9,403.9h0.6v0.6h-0.6zM367.7,392.9h0.6v0.6h-0.6zM366.9,391.3h0.6v0.6h-0.6zM370.0,409.9h0.6v0.6h-0.6zM376.2,387.4h0.6v0.6h-0.6zM368.6,412.4h0.6v0.6h-0.6zM380.5,397.3h0.6v0.6h-0.6zM373.5,415.8h0.6v0.6h-0.6zM380.4,384.2h0.6v0.6h-0.6zM376.3,401.9h0.6v0.6h-0.6zM368.4,416.2h0.6v0.6h-0.6zM372.1,407.8h0.6v0.6h-0.6zM363.9,401.7h0.6v0.6h-0.6zM366.2,403.4h0.6v0.6h-0.6zM370.8,403.9h0.6v0.6h-0.6zM368.0,380.9h0.6v0.6h-0.6zM376.3,394.1h0.6v0.6h-0.6zM365.2,418.1h0.6v0.6h-0.6zM372.7,405.8h0.6v0.6h-0.6zM375.8,395.4h0.6v0.6h-0.6zM369.9,411.7h0.6v0.6h-0.6zM378.4,427.2h0.6v0.6h-0.6zM367.0,411.7h0.6v0.6h-0.6zM371.6,401.7h0.6v0.6h-0.6zM371.5,397.3h0.6v0.6h-0.6zM377.2,392.9h0.6v0.6h-0.6zM372.9,382.7h0.6v0.6h-0.6zM373.6,406.7h0.6v0.6h-0.6zM363.9,395.3h0.6v0.6h-0.6zM379.5,406.1h0.6v0.6h-0.6zM373.1,415.3h0.6v0.6h-0.6zM369.1,406.8h0.6v0.6h-0.6zM378.0,395.5h0.6v0.6h-0.6zM372.0,406.2h0.6v0.6h-0.6zM376.4,382.5h0.6v0.6h-0.6zM374.5,405.8h0.6v0.6h-0.6zM369.9,396.6h0.6v0.6h-0.6zM374.5,385.0h0.6v0.6h-0.6zM371.5,401.3h0.6v0.6h-0.6zM372.6,392.9h0.6v0.6h-0.6zM368.5,402.3h0.6v0.6h-0.6zM371.6,405.6h0.6v0.6h-0.6zM368.0,402.1h0.6v0.6h-0.6zM378.2,401.2h0.6v0.6h-0.6zM373.1,384.9h0.6v0.6h-0.6zM371.8,404.3h0.6v0.6h-0.6zM368.3,415.7h0.6v0.6h-0.6zM363.9,405.4h0.6v0.6h-0.6zM379.2,405.3h0.6v0.6h-0.6zM373.3,414.5h0.6v0.6h-0.6zM379.1,392.7h0.6v0.6h-0.6zM374.7,409.7h0.6v0.6h-0.6zM377.5,413.0h0.6v0.6h-0.6zM373.5,381.1h0.6v0.6h-0.6zM378.2,412.6h0.6v0.6h-0.6zM373.2,397.3h0.6v0.6h-0.6zM380.8,402.3h0.6v0.6h-0.6zM375.5,400.3h0.6v0.6h-0.6zM368.9,401.5h0.6v0.6h-0.6zM365.1,407.0h0.6v0.6h-0.6zM366.6,402.3h0.6v0.6h-0.6zM374.3,379.6h0.6v0.6h-0.6zM371.9,405.5h0.6v0.6h-0.6zM371.7,403.9h0.6v0.6h-0.6zM368.0,427.1h0.6v0.6h-0.6zM371.1,410.6h0.6v0.6h-0.6zM378.9,396.4h0.6v0.6h-0.6zM363.7,414.3h0.6v0.6h-0.6zM378.5,393.1h0.6v0.6h-0.6zM372.3,388.1h0.6v0.6h-0.6zM375.7,412.6h0.6v0.6h-0.6zM366.5,406.4h0.6v0.6h-0.6zM372.4,396.1h0.6v0.6h-0.6zM367.0,416.8h0.6v0.6h-0.6zM371.1,396.3h0.6v0.6h-0.6zM373.9,387.3h0.6v0.6h-0.6zM371.4,397.9h0.6v0.6h-0.6zM370.9,388.1h0.6v0.6h-0.6zM367.0,389.0h0.6v0.6h-0.6zM375.1,396.8h0.6v0.6h-0.6zM378.5,382.1h0.6v0.6h-0.6zM368.2,407.6h0.6v0.6h-0.6zM373.5,401.2h0.6v0.6h-0.6zM382.0,416.6h0.6v0.6h-0.6zM368.1,389.4h0.6v0.6h-0.6zM371.1,417.6h0.6v0.6h-0.6zM375.3,414.2h0.6v0.6h-0.6zM374.1,405.6h0.6v0.6h-0.6zM377.2,402.7h0.6v0.6h-0.6zM370.7,394.2h0.6v0.6h-0.6zM367.6,389.0h0.6v0.6h-0.6zM373.6,413.0h0.6v0.6h-0.6zM377.7,406.5h0.6v0.6h-0.6zM372.1,389.3h0.6v0.6h-0.6zM379.7,413.4h0.6v0.6h-0.6zM367.8,400.8h0.6v0.6h-0.6zM373.2,384.4h0.6v0.6h-0.6zM370.7,401.3h0.6v0.6h-0.6zM367.7,395.0h0.6v0.6h-0.6zM375.2,414.3h0.6v0.6h-0.6zM373.7,391.6h0.6v0.6h-0.6zM374.8,400.6h0.6v0.6h-0.6zM374.8,414.1h0.6v0.6h-0.6zM370.7,396.7h0.6v0.6h-0.6zM381.9,402.5h0.6v0.6h-0.6zM371.9,413.3h0.6v0.6h-0.6zM371.2,401.7h0.6v0.6h-0.6zM373.4,385.4h0.6v0.6h-0.6zM371.6,415.7h0.6v0.6h-0.6zM371.2,395.5h0.6v0.6h-0.6zM373.9,388.0h0.6v0.6h-0.6zM370.3,388.5h0.6v0.6h-0.6z" fill="#8a50f0" opacity="0.75"/>
<path d="M392.3,390.0h0.6v0.6h-0.6zM397.3,421.8h0.6v0.6h-0.6zM394.3,410.9h0.6v0.6h-0.6zM395.9,391.9h0.6v0.6h-0.6zM402.0,397.9h0.6v0.6h-0.6zM396.1,403.5h0.6v0.6h-0.6zM397.0,394.3h0.6v0.6h-0.6zM389.6,406.3h0.6v0.6h-0.6zM393.1,408.3h0.6v0.6h-0.6zM397.8,403.5h0.6v0.6h-0.6zM401.6,411.6h0.6v0.6h-0.6zM401.2,410.5h0.6v0.6h-0.6zM402.0,417.7h0.6v0.6h-0.6zM387.9,406.1h0.6v0.6h-0.6zM402.8,426.4h0.6v0.6h-0.6zM404.7,399.3h0.6v0.6h-0.6zM403.7,398.9h0.6v0.6h-0.6zM401.7,400.0h0.6v0.6h-0.6zM399.8,405.6h0.6v0.6h-0.6zM403.2,386.1h0.6v0.6h-0.6zM390.9,413.5h0.6v0.6h-0.6zM400.6,396.0h0.6v0.6h-0.6zM389.1,420.3h0.6v0.6h-0.6zM396.5,430.1h0.6v0.6h-0.6zM401.3,404.3h0.6v0.6h-0.6zM395.3,403.3h0.6v0.6h-0.6zM401.4,377.8h0.6v0.6h-0.6zM390.3,410.8h0.6v0.6h-0.6zM396.4,411.3h0.6v0.6h-0.6zM393.9,390.4h0.6v0.6h-0.6zM403.7,400.9h0.6v0.6h-0.6zM400.8,397.3h0.6v0.6h-0.6zM390.4,408.5h0.6v0.6h-0.6zM398.2,403.4h0.6v0.6h-0.6zM393.5,401.3h0.6v0.6h-0.6zM396.8,386.3h0.6v0.6h-0.6zM392.0,408.8h0.6v0.6h-0.6zM395.8,396.5h0.6v0.6h-0.6zM398.2,381.3h0.6v0.6h-0.6zM397.5,407.5h0.6v0.6h-0.6zM396.9,385.8h0.6v0.6h-0.6zM394.4,377.4h0.6v0.6h-0.6zM398.2,412.6h0.6v0.6h-0.6zM402.8,390.6h0.6v0.6h-0.6zM393.7,393.3h0.6v0.6h-0.6zM397.8,423.8h0.6v0.6h-0.6zM403.1,379.4h0.6v0.6h-0.6zM402.9,405.0h0.6v0.6h-0.6zM396.0,390.8h0.6v0.6h-0.6zM403.9,397.0h0.6v0.6h-0.6zM397.6,399.1h0.6v0.6h-0.6zM399.8,399.8h0.6v0.6h-0.6zM394.9,411.9h0.6v0.6h-0.6zM396.9,397.0h0.6v0.6h-0.6zM387.7,410.0h0.6v0.6h-0.6zM393.0,397.1h0.6v0.6h-0.6zM394.1,399.4h0.6v0.6h-0.6zM401.5,407.9h0.6v0.6h-0.6zM397.0,415.9h0.6v0.6h-0.6zM399.1,406.3h0.6v0.6h-0.6zM394.0,383.4h0.6v0.6h-0.6zM402.9,417.6h0.6v0.6h-0.6zM397.4,385.0h0.6v0.6h-0.6zM394.5,400.1h0.6v0.6h-0.6zM396.5,404.4h0.6v0.6h-0.6zM403.2,385.5h0.6v0.6h-0.6zM398.3,430.0h0.6v0.6h-0.6zM395.2,392.2h0.6v0.6h-0.6zM389.7,401.9h0.6v0.6h-0.6zM390.4,402.6h0.6v0.6h-0.6zM397.5,397.9h0.6v0.6h-0.6zM389.3,422.2h0.6v0.6h-0.6zM394.5,390.9h0.6v0.6h-0.6zM393.5,412.5h0.6v0.6h-0.6zM397.2,408.9h0.6v0.6h-0.6zM400.8,400.0h0.6v0.6h-0.6zM397.7,397.3h0.6v0.6h-0.6zM399.5,385.0h0.6v0.6h-0.6zM393.2,392.6h0.6v0.6h-0.6zM396.5,406.9h0.6v0.6h-0.6zM387.1,389.5h0.6v0.6h-0.6zM389.2,403.1h0.6v0.6h-0.6zM396.2,415.4h0.6v0.6h-0.6zM402.2,379.6h0.6v0.6h-0.6zM389.1,404.4h0.6v0.6h-0.6zM398.1,386.7h0.6v0.6h-0.6zM396.7,404.0h0.6v0.6h-0.6zM397.2,396.3h0.6v0.6h-0.6zM395.5,392.0h0.6v0.6h-0.6zM394.5,393.6h0.6v0.6h-0.6zM402.6,409.0h0.6v0.6h-0.6zM392.0,387.7h0.6v0.6h-0.6zM389.7,418.4h0.6v0.6h-0.6zM395.4,402.2h0.6v0.6h-0.6zM395.4,407.7h0.6v0.6h-0.6zM399.4,406.8h0.6v0.6h-0.6zM395.5,400.2h0.6v0.6h-0.6zM397.5,408.4h0.6v0.6h-0.6zM395.5,411.0h0.6v0.6h-0.6zM403.4,387.9h0.6v0.6h-0.6zM398.4,400.7h0.6v0.6h-0.6zM397.0,413.5h0.6v0.6h-0.6zM393.9,400.4h0.6v0.6h-0.6zM400.7,424.3h0.6v0.6h-0.6zM393.8,402.1h0.6v0.6h-0.6zM395.6,410.8h0.6v0.6h-0.6zM394.5,395.4h0.6v0.6h-0.6zM399.4,405.4h0.6v0.6h-0.6zM397.6,421.5h0.6v0.6h-0.6zM394.9,429.4h0.6v0.6h-0.6zM397.4,408.0h0.6v0.6h-0.6zM394.4,398.3h0.6v0.6h-0.6zM401.1,385.7h0.6v0.6h-0.6zM394.7,400.1h0.6v0.6h-0.6zM394.5,384.3h0.6v0.6h-0.6zM395.8,411.7h0.6v0.6h-0.6zM389.3,393.7h0.6v0.6h-0.6zM398.9,398.4h0.6v0.6h-0.6zM395.5,406.2h0.6v0.6h-0.6zM399.0,402.2h0.6v0.6h-0.6zM397.0,408.2h0.6v0.6h-0.6zM390.8,386.2h0.6v0.6h-0.6zM396.2,398.7h0.6v0.6h-0.6zM393.3,406.1h0.6v0.6h-0.6zM399.3,399.0h0.6v0.6h-0.6zM399.4,411.5h0.6v0.6h-0.6zM400.4,415.8h0.6v0.6h-0.6zM398.7,390.5h0.6v0.6h-0.6zM391.2,389.5h0.6v0.6h-0.6zM400.7,393.2h0.6v0.6h-0.6zM399.8,410.3h0.6v0.6h-0.6zM392.9,400.7h0.6v0.6h-0.6zM393.8,390.9h0.6v0.6h-0.6zM400.6,397.7h0.6v0.6h-0.6zM396.3,412.2h0.6v0.6h-0.6zM391.7,395.4h0.6v0.6h-0.6zM391.7,401.0h0.6v0.6h-0.6zM398.6,407.2h0.6v0.6h-0.6zM402.8,412.9h0.6v0.6h-0.6zM399.1,384.8h0.6v0.6h-0.6zM395.4,383.5h0.6v0.6h-0.6zM395.2,406.2h0.6v0.6h-0.6zM389.4,385.0h0.6v0.6h-0.6zM399.3,402.5h0.6v0.6h-0.6zM392.3,405.3h0.6v0.6h-0.6zM402.6,411.9h0.6v0.6h-0.6zM402.4,403.0h0.6v0.6h-0.6zM393.3,408.5h0.6v0.6h-0.6zM387.4,398.6h0.6v0.6h-0.6zM392.0,399.7h0.6v0.6h-0.6zM398.6,412.5h0.6v0.6h-0.6zM395.0,387.9h0.6v0.6h-0.6zM398.2,397.4h0.6v0.6h-0.6zM396.4,405.1h0.6v0.6h-0.6zM397.5,400.9h0.6v0.6h-0.6zM392.9,394.9h0.6v0.6h-0.6zM402.4,402.4h0.6v0.6h-0.6zM394.4,387.4h0.6v0.6h-0.6zM401.9,404.3h0.6v0.6h-0.6z" fill="#8a50f0" opacity="0.75"/>
<path d="M416.7,400.0h0.6v0.6h-0.6zM414.3,416.2h0.6v0.6h-0.6zM418.7,393.8h0.6v0.6h-0.6zM427.2,385.9h0.6v0.6h-0.6zM426.7,404.2h0.6v0.6h-0.6zM418.2,403.2h0.6v0.6h-0.6zM416.7,414.6h0.6v0.6h-0.6zM423.1,406.3h0.6v0.6h-0.6zM418.3,392.8h0.6v0.6h-0.6zM424.3,390.0h0.6v0.6h-0.6zM418.8,398.0h0.6v0.6h-0.6zM425.9,406.6h0.6v0.6h-0.6zM422.5,412.1h0.6v0.6h-0.6zM425.0,391.3h0.6v0.6h-0.6zM417.5,402.0h0.6v0.6h-0.6zM422.4,406.1h0.6v0.6h-0.6zM427.7,395.0h0.6v0.6h-0.6zM420.5,403.2h0.6v0.6h-0.6zM415.8,398.5h0.6v0.6h-0.6zM409.3,395.1h0.6v0.6h-0.6zM419.6,419.5h0.6v0.6h-0.6zM413.4,400.6h0.6v0.6h-0.6zM420.4,399.6h0.6v0.6h-0.6zM419.0,405.0h0.6v0.6h-0.6zM424.4,419.7h0.6v0.6h-0.6zM415.5,412.0h0.6v0.6h-0.6zM417.3,400.5h0.6v0.6h-0.6zM419.8,407.5h0.6v0.6h-0.6zM419.4,401.4h0.6v0.6h-0.6zM416.4,396.4h0.6v0.6h-0.6zM417.1,387.6h0.6v0.6h-0.6zM416.7,414.4h0.6v0.6h-0.6zM420.6,391.0h0.6v0.6h-0.6zM413.0,389.9h0.6v0.6h-0.6zM425.2,385.9h0.6v0.6h-0.6zM413.8,400.3h0.6v0.6h-0.6zM414.5,410.9h0.6v0.6h-0.6zM420.7,399.9h0.6v0.6h-0.6zM416.5,384.0h0.6v0.6h-0.6zM418.8,401.2h0.6v0.6h-0.6zM418.4,424.4h0.6v0.6h-0.6zM420.2,383.7h0.6v0.6h-0.6zM429.6,391.5h0.6v0.6h-0.6zM425.1,401.2h0.6v0.6h-0.6zM416.9,381.5h0.6v0.6h-0.6zM417.9,400.9h0.6v0.6h-0.6zM414.2,389.1h0.6v0.6h-0.6zM418.7,401.6h0.6v0.6h-0.6zM420.9,406.3h0.6v0.6h-0.6zM410.4,402.8h0.6v0.6h-0.6zM422.3,408.7h0.6v0.6h-0.6zM420.4,405.7h0.6v0.6h-0.6zM422.8,412.3h0.6v0.6h-0.6zM411.2,396.7h0.6v0.6h-0.6zM418.5,415.9h0.6v0.6h-0.6zM422.1,392.7h0.6v0.6h-0.6zM420.8,408.0h0.6v0.6h-0.6zM414.1,389.6h0.6v0.6h-0.6zM416.5,403.7h0.6v0.6h-0.6zM416.8,400.5h0.6v0.6h-0.6zM422.6,380.0h0.6v0.6h-0.6zM423.5,406.9h0.6v0.6h-0.6zM422.7,394.8h0.6v0.6h-0.6zM425.8,380.9h0.6v0.6h-0.6zM417.7,383.7h0.6v0.6h-0.6zM416.5,404.9h0.6v0.6h-0.6zM417.8,401.9h0.6v0.6h-0.6zM424.9,411.1h0.6v0.6h-0.6zM419.7,408.3h0.6v0.6h-0.6zM427.0,395.2h0.6v0.6h-0.6zM413.6,400.5h0.6v0.6h-0.6zM416.3,404.9h0.6v0.6h-0.6zM423.5,416.7h0.6v0.6h-0.6zM413.8,397.0h0.6v0.6h-0.6zM425.0,399.0h0.6v0.6h-0.6zM419.3,420.9h0.6v0.6h-0.6zM428.6,400.6h0.6v0.6h-0.6zM409.6,404.6h0.6v0.6h-0.6zM420.6,414.9h0.6v0.6h-0.6zM424.3,399.2h0.6v0.6h-0.6zM429.0,409.2h0.6v0.6h-0.6zM419.7,398.9h0.6v0.6h-0.6zM418.0,405.2h0.6v0.6h-0.6zM412.2,410.5h0.6v0.6h-0.6zM414.9,395.7h0.6v0.6h-0.6zM411.4,401.9h0.6v0.6h-0.6zM424.8,405.6h0.6v0.6h-0.6zM415.8,386.4h0.6v0.6h-0.6zM418.6,404.0h0.6v0.6h-0.6zM427.5,384.4h0.6v0.6h-0.6zM412.1,380.3h0.6v0.6h-0.6zM414.0,399.6h0.6v0.6h-0.6zM415.8,407.8h0.6v0.6h-0.6zM415.4,406.3h0.6v0.6h-0.6zM419.5,411.4h0.6v0.6h-0.6zM421.6,402.2h0.6v0.6h-0.6zM417.0,388.9h0.6v0.6h-0.6zM423.6,389.2h0.6v0.6h-0.6zM424.9,409.3h0.6v0.6h-0.6zM416.5,382.5h0.6v0.6h-0.6zM419.6,414.1h0.6v0.6h-0.6zM419.3,405.9h0.6v0.6h-0.6zM420.5,394.5h0.6v0.6h-0.6zM422.5,409.3h0.6v0.6h-0.6zM420.4,404.6h0.6v0.6h-0.6zM424.2,414.8h0.6v0.6h-0.6zM419.1,410.3h0.6v0.6h-0.6zM414.2,402.1h0.6v0.6h-0.6zM422.5,381.2h0.6v0.6h-0.6zM415.5,397.5h0.6v0.6h-0.6zM417.3,396.2h0.6v0.6h-0.6zM421.5,397.4h0.6v0.6h-0.6zM411.1,392.3h0.6v0.6h-0.6zM421.5,409.4h0.6v0.6h-0.6zM412.0,389.8h0.6v0.6h-0.6zM428.0,393.5h0.6v0.6h-0.6zM418.0,396.3h0.6v0.6h-0.6zM425.0,396.4h0.6v0.6h-0.6zM417.2,390.7h0.6v0.6h-0.6zM425.3,389.0h0.6v0.6h-0.6zM417.7,378.4h0.6v0.6h-0.6zM417.1,409.6h0.6v0.6h-0.6zM416.1,406.4h0.6v0.6h-0.6zM424.5,400.2h0.6v0.6h-0.6zM426.1,396.0h0.6v0.6h-0.6zM408.6,403.1h0.6v0.6h-0.6zM412.0,399.3h0.6v0.6h-0.6zM416.8,382.3h0.6v0.6h-0.6zM428.2,407.5h0.6v0.6h-0.6zM415.1,411.2h0.6v0.6h-0.6zM426.3,405.8h0.6v0.6h-0.6zM420.3,409.8h0.6v0.6h-0.6zM423.0,386.6h0.6v0.6h-0.6zM429.2,399.9h0.6v0.6h-0.6zM421.6,389.4h0.6v0.6h-0.6zM417.0,409.8h0.6v0.6h-0.6zM429.0,399.1h0.6v0.6h-0.6zM415.9,393.7h0.6v0.6h-0.6zM420.6,385.0h0.6v0.6h-0.6zM427.3,428.0h0.6v0.6h-0.6zM418.0,415.7h0.6v0.6h-0.6zM417.6,399.8h0.6v0.6h-0.6zM423.3,416.2h0.6v0.6h-0.6zM424.7,399.3h0.6v0.6h-0.6zM417.1,403.6h0.6v0.6h-0.6zM412.7,393.4h0.6v0.6h-0.6zM422.9,399.0h0.6v0.6h-0.6zM423.3,392.1h0.6v0.6h-0.6zM424.1,398.9h0.6v0.6h-0.6zM423.1,398.5h0.6v0.6h-0.6zM427.4,389.6h0.6v0.6h-0.6zM414.1,405.4h0.6v0.6h-0.6zM414.6,402.2h0.6v0.6h-0.6zM419.5,392.8h0.6v0.6h-0.6zM420.8,411.9h0.6v0.6h-0.6zM418.9,389.5h0.6v0.6h-0.6zM423.5,408.9h0.6v0.6h-0.6z" fill="#8a50f0" opacity="0.75"/>
<ellipse cx="381.0" cy="246.4" rx="4.9399999999999995" ry="6.12" fill="url(#halo)"/>
<ellipse cx="381.0" cy="246.4" rx="2.6" ry="3.6" fill="url(#bP)"/>
<ellipse cx="381.4" cy="302.8" rx="3.61" ry="4.08" fill="url(#halo)"/>
<ellipse cx="381.4" cy="302.8" rx="1.9" ry="2.4" fill="url(#bP)"/>
<ellipse cx="402.0" cy="299.8" rx="5.699999999999999" ry="6.12" fill="url(#halo)"/>
<ellipse cx="402.0" cy="299.8" rx="3.0" ry="3.6" fill="url(#bP)"/>
<ellipse cx="426.5" cy="298.8" rx="6.08" ry="6.969999999999999" fill="url(#halo)"/>
<ellipse cx="426.5" cy="298.8" rx="3.2" ry="4.1" fill="url(#bV)"/>
<ellipse cx="378.0" cy="354.3" rx="8.739999999999998" ry="8.16" fill="url(#halo)"/>
<ellipse cx="378.0" cy="354.3" rx="4.6" ry="4.8" fill="url(#bP)"/>
<ellipse cx="402.1" cy="352.9" rx="7.6" ry="7.14" fill="url(#halo)"/>
<ellipse cx="402.1" cy="352.9" rx="4.0" ry="4.2" fill="url(#bP)"/>
<ellipse cx="418.2" cy="350.7" rx="8.739999999999998" ry="9.18" fill="url(#halo)"/>
<ellipse cx="418.2" cy="350.7" rx="4.6" ry="5.4" fill="url(#bP)"/>
<ellipse cx="374.5" cy="408.7" rx="8.4" ry="9.6" fill="url(#bR)"/>
<ellipse cx="398.8" cy="407.9" rx="7.8" ry="8.6" fill="url(#bG)"/>
<ellipse cx="421.7" cy="406.2" rx="8.2" ry="10.2" fill="url(#bR)"/>
<ellipse cx="375.1" cy="466.4" rx="14.44" ry="13.939999999999998" fill="url(#halo)"/>
<ellipse cx="375.1" cy="466.4" rx="7.6" ry="8.2" fill="url(#bP)"/>
<ellipse cx="398" cy="465.5" rx="13.299999999999999" ry="12.58" fill="url(#halo)"/>
<ellipse cx="398" cy="465.5" rx="7.0" ry="7.4" fill="url(#bP)"/>
<ellipse cx="422.6" cy="462.1" rx="7.4" ry="10.0" fill="url(#bG2)"/>
<ellipse cx="475.8" cy="248.4" rx="3.8" ry="3.74" fill="url(#halo)"/>
<ellipse cx="475.8" cy="248.4" rx="2.0" ry="2.2" fill="url(#bP)"/>
<ellipse cx="453.0" cy="293.2" rx="1.6" ry="2.4" fill="url(#bF)"/>
<ellipse cx="474.5" cy="295.6" rx="6.6499999999999995" ry="7.14" fill="url(#halo)"/>
<ellipse cx="474.5" cy="295.6" rx="3.5" ry="4.2" fill="url(#bP)"/>
<ellipse cx="500.9" cy="295.2" rx="5.51" ry="10.54" fill="url(#halo)"/>
<ellipse cx="500.9" cy="295.2" rx="2.9" ry="6.2" fill="url(#bP)"/>
<ellipse cx="449.2" cy="351.8" rx="5.51" ry="8.5" fill="url(#halo)"/>
<ellipse cx="449.2" cy="351.8" rx="2.9" ry="5.0" fill="url(#bP)"/>
<ellipse cx="471.6" cy="351.8" rx="7.03" ry="7.14" fill="url(#halo)"/>
<ellipse cx="471.6" cy="351.8" rx="3.7" ry="4.2" fill="url(#bP)"/>
<ellipse cx="501.4" cy="353.1" rx="6.08" ry="10.54" fill="url(#halo)"/>
<ellipse cx="501.4" cy="353.1" rx="3.2" ry="6.2" fill="url(#bC)"/>
<ellipse cx="452.7" cy="409.8" rx="5.51" ry="7.14" fill="url(#halo)"/>
<ellipse cx="452.7" cy="409.8" rx="2.9" ry="4.2" fill="url(#bP)"/>
<ellipse cx="475.1" cy="405.6" rx="5.51" ry="4.93" fill="url(#halo)"/>
<ellipse cx="475.1" cy="405.6" rx="2.9" ry="2.9" fill="url(#bP)"/>
<ellipse cx="500.6" cy="406.1" rx="6.84" ry="10.54" fill="url(#halo)"/>
<ellipse cx="500.6" cy="406.1" rx="3.6" ry="6.2" fill="url(#bC)"/>
<ellipse cx="449.6" cy="459.3" rx="7.03" ry="7.819999999999999" fill="url(#halo)"/>
<ellipse cx="449.6" cy="459.3" rx="3.7" ry="4.6" fill="url(#bP)"/>
<ellipse cx="470.2" cy="462.2" rx="5.89" ry="7.14" fill="url(#halo)"/>
<ellipse cx="470.2" cy="462.2" rx="3.1" ry="4.2" fill="url(#bP)"/>
<ellipse cx="498.7" cy="458.5" rx="5.51" ry="6.29" fill="url(#halo)"/>
<ellipse cx="498.7" cy="458.5" rx="2.9" ry="3.7" fill="url(#bP)"/>
<ellipse cx="449.2" cy="516.9" rx="1.9" ry="2.8" fill="url(#bF)"/>
<ellipse cx="468.6" cy="520.7" rx="7.9799999999999995" ry="8.5" fill="url(#halo)"/>
<ellipse cx="468.6" cy="520.7" rx="4.2" ry="5.0" fill="url(#bP)"/>
<ellipse cx="499.8" cy="519.4" rx="5.51" ry="8.5" fill="url(#halo)"/>
<ellipse cx="499.8" cy="519.4" rx="2.9" ry="5.0" fill="url(#bP)"/>
<ellipse cx="451.8" cy="575.8" rx="5.51" ry="7.819999999999999" fill="url(#halo)"/>
<ellipse cx="451.8" cy="575.8" rx="2.9" ry="4.6" fill="url(#bP)"/>
<ellipse cx="472.1" cy="581.5" rx="11.399999999999999" ry="10.88" fill="url(#halo)"/>
<ellipse cx="472.1" cy="581.5" rx="6.0" ry="6.4" fill="url(#bC)"/>
<ellipse cx="501.6" cy="577.8" rx="7.03" ry="10.709999999999999" fill="url(#halo)"/>
<ellipse cx="501.6" cy="577.8" rx="3.7" ry="6.3" fill="url(#bP)"/>
<rect x="362.7" y="257.7" width="8.2" height="5.9" fill="#fff"/>
<text x="366.8" y="262.4" text-anchor="middle" style="font-size:6px;fill:#111;stroke:none">−5</text>
<rect x="386.4" y="257.7" width="8.2" height="5.9" fill="#fff"/>
<text x="390.5" y="262.4" text-anchor="middle" style="font-size:6px;fill:#111;stroke:none">−5</text>
<rect x="408.4" y="257.7" width="8.2" height="5.9" fill="#fff"/>
<text x="412.5" y="262.4" text-anchor="middle" style="font-size:6px;fill:#111;stroke:none">−7</text>
<rect x="434.5" y="257.7" width="8.2" height="5.9" fill="#fff"/>
<text x="438.6" y="262.4" text-anchor="middle" style="font-size:6px;fill:#111;stroke:none">−6</text>
<rect x="458.5" y="257.7" width="8.2" height="5.9" fill="#fff"/>
<text x="462.6" y="262.4" text-anchor="middle" style="font-size:6px;fill:#111;stroke:none">−4</text>
<rect x="483.0" y="257.7" width="8.2" height="5.9" fill="#fff"/>
<text x="487.1" y="262.4" text-anchor="middle" style="font-size:6px;fill:#111;stroke:none">−4</text>
<rect x="362.7" y="312.4" width="8.2" height="5.9" fill="#fff"/>
<text x="366.8" y="317.1" text-anchor="middle" style="font-size:6px;fill:#111;stroke:none">−2</text>
<rect x="386.4" y="312.4" width="8.2" height="5.9" fill="#fff"/>
<text x="390.5" y="317.1" text-anchor="middle" style="font-size:6px;fill:#111;stroke:none">−2</text>
<rect x="408.4" y="312.4" width="8.2" height="5.9" fill="#fff"/>
<text x="412.5" y="317.1" text-anchor="middle" style="font-size:6px;fill:#111;stroke:none">−4</text>
<rect x="434.5" y="312.4" width="8.2" height="5.9" fill="#fff"/>
<text x="438.6" y="317.1" text-anchor="middle" style="font-size:6px;fill:#111;stroke:none">−3</text>
<rect x="458.5" y="312.4" width="4.8" height="5.9" fill="#fff"/>
<text x="460.9" y="317.1" text-anchor="middle" style="font-size:6px;fill:#111;stroke:none">0</text>
<rect x="483.0" y="312.4" width="4.8" height="5.9" fill="#fff"/>
<text x="485.4" y="317.1" text-anchor="middle" style="font-size:6px;fill:#111;stroke:none">0</text>
<rect x="362.7" y="368.3" width="4.8" height="5.9" fill="#fff"/>
<text x="365.1" y="373.0" text-anchor="middle" style="font-size:6px;fill:#111;stroke:none">2</text>
<rect x="386.4" y="368.3" width="4.8" height="5.9" fill="#fff"/>
<text x="388.8" y="373.0" text-anchor="middle" style="font-size:6px;fill:#111;stroke:none">2</text>
<rect x="408.4" y="368.3" width="4.8" height="5.9" fill="#fff"/>
<text x="410.8" y="373.0" text-anchor="middle" style="font-size:6px;fill:#111;stroke:none">0</text>
<rect x="434.5" y="368.3" width="4.8" height="5.9" fill="#fff"/>
<text x="436.9" y="373.0" text-anchor="middle" style="font-size:6px;fill:#111;stroke:none">1</text>
<rect x="458.5" y="368.3" width="4.8" height="5.9" fill="#fff"/>
<text x="460.9" y="373.0" text-anchor="middle" style="font-size:6px;fill:#111;stroke:none">3</text>
<rect x="483.0" y="368.3" width="4.8" height="5.9" fill="#fff"/>
<text x="485.4" y="373.0" text-anchor="middle" style="font-size:6px;fill:#111;stroke:none">3</text>
<rect x="362.7" y="424.9" width="4.8" height="5.9" fill="#fff"/>
<text x="365.1" y="429.6" text-anchor="middle" style="font-size:6px;fill:#111;stroke:none">5</text>
<rect x="386.4" y="424.9" width="4.8" height="5.9" fill="#fff"/>
<text x="388.8" y="429.6" text-anchor="middle" style="font-size:6px;fill:#111;stroke:none">5</text>
<rect x="408.4" y="424.9" width="4.8" height="5.9" fill="#fff"/>
<text x="410.8" y="429.6" text-anchor="middle" style="font-size:6px;fill:#111;stroke:none">3</text>
<rect x="434.5" y="424.9" width="4.8" height="5.9" fill="#fff"/>
<text x="436.9" y="429.6" text-anchor="middle" style="font-size:6px;fill:#111;stroke:none">4</text>
<rect x="458.5" y="424.9" width="4.8" height="5.9" fill="#fff"/>
<text x="460.9" y="429.6" text-anchor="middle" style="font-size:6px;fill:#111;stroke:none">7</text>
<rect x="483.0" y="424.9" width="4.8" height="5.9" fill="#fff"/>
<text x="485.4" y="429.6" text-anchor="middle" style="font-size:6px;fill:#111;stroke:none">7</text>
<rect x="362.7" y="480.2" width="4.8" height="5.9" fill="#fff"/>
<text x="365.1" y="484.9" text-anchor="middle" style="font-size:6px;fill:#111;stroke:none">9</text>
<rect x="386.4" y="480.2" width="4.8" height="5.9" fill="#fff"/>
<text x="388.8" y="484.9" text-anchor="middle" style="font-size:6px;fill:#111;stroke:none">9</text>
<rect x="408.4" y="480.2" width="4.8" height="5.9" fill="#fff"/>
<text x="410.8" y="484.9" text-anchor="middle" style="font-size:6px;fill:#111;stroke:none">7</text>
<rect x="434.5" y="480.2" width="4.8" height="5.9" fill="#fff"/>
<text x="436.9" y="484.9" text-anchor="middle" style="font-size:6px;fill:#111;stroke:none">8</text>
<rect x="458.5" y="480.2" width="8.2" height="5.9" fill="#fff"/>
<text x="462.6" y="484.9" text-anchor="middle" style="font-size:6px;fill:#111;stroke:none">10</text>
<rect x="483.0" y="480.2" width="8.2" height="5.9" fill="#fff"/>
<text x="487.1" y="484.9" text-anchor="middle" style="font-size:6px;fill:#111;stroke:none">10</text>
<rect x="434.5" y="537.6" width="8.2" height="5.9" fill="#fff"/>
<text x="438.6" y="542.3" text-anchor="middle" style="font-size:6px;fill:#111;stroke:none">15</text>
<rect x="458.5" y="537.6" width="8.2" height="5.9" fill="#fff"/>
<text x="462.6" y="542.3" text-anchor="middle" style="font-size:6px;fill:#111;stroke:none">14</text>
<rect x="483.0" y="537.6" width="8.2" height="5.9" fill="#fff"/>
<text x="487.1" y="542.3" text-anchor="middle" style="font-size:6px;fill:#111;stroke:none">14</text>
<rect x="434.5" y="593.8" width="8.2" height="5.9" fill="#fff"/>
<text x="438.6" y="598.5" text-anchor="middle" style="font-size:6px;fill:#111;stroke:none">19</text>
<rect x="458.5" y="593.8" width="8.2" height="5.9" fill="#fff"/>
<text x="462.6" y="598.5" text-anchor="middle" style="font-size:6px;fill:#111;stroke:none">18</text>
<rect x="483.0" y="593.8" width="8.2" height="5.9" fill="#fff"/>
<text x="487.1" y="598.5" text-anchor="middle" style="font-size:6px;fill:#111;stroke:none">18</text>
<text transform="translate(518.6,275.6) rotate(-90)" text-anchor="middle">Days after treatment start</text>
<line x1="515.4" y1="323" x2="515.4" y2="596" stroke="#1e1e1e" stroke-width="0.9"/>
<polygon points="513.3,594 515.4,601 517.5,594" fill="#1e1e1e"/>
<rect x="388.6" y="492.8" width="3" height="106.6" fill="url(#cbar)"/>
<line x1="391.6" y1="493.4" x2="392.8" y2="493.4" stroke="#777" stroke-width="0.5"/>
<text x="395.3" y="496.09999999999997">1.0</text>
<line x1="391.6" y1="514.6999999999999" x2="392.8" y2="514.6999999999999" stroke="#777" stroke-width="0.5"/>
<text x="395.3" y="517.4">0.8</text>
<line x1="391.6" y1="536.0" x2="392.8" y2="536.0" stroke="#777" stroke-width="0.5"/>
<text x="395.3" y="538.7">0.6</text>
<line x1="391.6" y1="557.3" x2="392.8" y2="557.3" stroke="#777" stroke-width="0.5"/>
<text x="395.3" y="560.0">0.4</text>
<line x1="391.6" y1="578.6" x2="392.8" y2="578.6" stroke="#777" stroke-width="0.5"/>
<text x="395.3" y="581.3000000000001">0.2</text>
<text x="395.3" y="600.6">(×10<tspan font-size="4.6" dy="-2.8">6</tspan><tspan dy="2.8">)</tspan></text>
<text transform="translate(383.2,543.6) rotate(-90)" text-anchor="middle">Radiance (p/s/cm<tspan font-size="4.6" dy="-2.8">2</tspan><tspan dy="2.8">/sr)</tspan></text>
<text x="2.1" y="543.9" style="font-weight:bold;font-size:10px;">H</text>
<line x1="39.6" y1="547.3" x2="39.6" y2="640.6" stroke="#1e1e1e" stroke-width="1.1"/>
<line x1="37.2" y1="548.7" x2="39.6" y2="548.7" stroke="#1e1e1e" stroke-width="1"/>
<text x="35.6" y="551.3000000000001" text-anchor="end">2,000</text>
<line x1="37.2" y1="571.575" x2="39.6" y2="571.575" stroke="#1e1e1e" stroke-width="1"/>
<text x="35.6" y="574.1750000000001" text-anchor="end">1,500</text>
<line x1="37.2" y1="594.45" x2="39.6" y2="594.45" stroke="#1e1e1e" stroke-width="1"/>
<text x="35.6" y="597.0500000000001" text-anchor="end">1,000</text>
<line x1="37.2" y1="617.325" x2="39.6" y2="617.325" stroke="#1e1e1e" stroke-width="1"/>
<text x="35.6" y="619.9250000000001" text-anchor="end">500</text>
<text x="35" y="645.6" text-anchor="end">0</text>
<line x1="39.6" y1="640.2" x2="176.4" y2="640.2" stroke="#1e1e1e" stroke-width="1.1"/>
<line x1="39.6" y1="640.2" x2="39.6" y2="642.7" stroke="#1e1e1e" stroke-width="1"/>
<text x="39.6" y="651.2" text-anchor="middle">0</text>
<line x1="73.75" y1="640.2" x2="73.75" y2="642.7" stroke="#1e1e1e" stroke-width="1"/>
<text x="73.75" y="651.2" text-anchor="middle">5</text>
<line x1="107.9" y1="640.2" x2="107.9" y2="642.7" stroke="#1e1e1e" stroke-width="1"/>
<text x="107.9" y="651.2" text-anchor="middle">10</text>
<line x1="142.05" y1="640.2" x2="142.05" y2="642.7" stroke="#1e1e1e" stroke-width="1"/>
<text x="142.05" y="651.2" text-anchor="middle">15</text>
<line x1="176.2" y1="640.2" x2="176.2" y2="642.7" stroke="#1e1e1e" stroke-width="1"/>
<text x="176.2" y="651.2" text-anchor="middle">20</text>
<text x="108" y="677.6" text-anchor="middle">Days</text>
<text transform="translate(10.8,594.9) rotate(-90)" text-anchor="middle">Tumor volume (mm<tspan font-size="4.6" dy="-2.8">3</tspan><tspan dy="2.8">)</tspan></text>
<polygon points="27.8,635.8 35.2,638.6 27.8,641.4 29.6,638.6" fill="#2330d0"/>
<polygon points="37.400000000000006,661 40.7,654 44.0,661 40.7,658.6" fill="#1e1e1e"/>
<text x="40.5" y="668.8" text-anchor="middle">Start</text>
<polygon points="93.0,661 96.3,654 99.6,661 96.3,658.6" fill="#1e1e1e"/>
<text x="96.3" y="668.8" text-anchor="middle">Stop</text>
<polyline points="39.6,639.4 46.4,639.0 53.3,638.5 60.1,636.5 66.9,635.0 73.8,635.0 80.6,635.0 87.4,634.8 94.2,634.8 101.1,634.5 107.9,633.8 114.7,633.7 121.6,632.3 128.4,630.4 135.2,628.5 142.1,626.0 148.9,621.7 155.7,617.7 162.5,611.5 169.4,605.8" fill="none" stroke="#e8331f" stroke-width="1.3"/>
<rect x="37.9" y="637.65" width="3.5" height="3.5" fill="#e8331f"/>
<rect x="44.7" y="637.25" width="3.5" height="3.5" fill="#e8331f"/>
<rect x="51.5" y="636.75" width="3.5" height="3.5" fill="#e8331f"/>
<rect x="58.3" y="634.75" width="3.5" height="3.5" fill="#e8331f"/>
<path d="M66.92,633.8 V636.2 M65.32000000000001,633.8 H68.52 M65.32000000000001,636.2 H68.52" stroke="#e8331f" stroke-width="0.9" fill="none"/>
<rect x="65.2" y="633.25" width="3.5" height="3.5" fill="#e8331f"/>
<path d="M73.75,633.8 V636.2 M72.15,633.8 H75.35 M72.15,636.2 H75.35" stroke="#e8331f" stroke-width="0.9" fill="none"/>
<rect x="72.0" y="633.25" width="3.5" height="3.5" fill="#e8331f"/>
<path d="M80.58000000000001,633.7 V636.3 M78.98000000000002,633.7 H82.18 M78.98000000000002,636.3 H82.18" stroke="#e8331f" stroke-width="0.9" fill="none"/>
<rect x="78.8" y="633.25" width="3.5" height="3.5" fill="#e8331f"/>
<path d="M87.41,633.4 V636.1999999999999 M85.81,633.4 H89.00999999999999 M85.81,636.1999999999999 H89.00999999999999" stroke="#e8331f" stroke-width="0.9" fill="none"/>
<rect x="85.7" y="633.05" width="3.5" height="3.5" fill="#e8331f"/>
<path d="M94.24000000000001,633.3 V636.3 M92.64000000000001,633.3 H95.84 M92.64000000000001,636.3 H95.84" stroke="#e8331f" stroke-width="0.9" fill="none"/>
<rect x="92.5" y="633.05" width="3.5" height="3.5" fill="#e8331f"/>
<path d="M101.07,632.9 V636.1 M99.47,632.9 H102.66999999999999 M99.47,636.1 H102.66999999999999" stroke="#e8331f" stroke-width="0.9" fill="none"/>
<rect x="99.3" y="632.75" width="3.5" height="3.5" fill="#e8331f"/>
<path d="M107.9,632.0 V635.5999999999999 M106.30000000000001,632.0 H109.5 M106.30000000000001,635.5999999999999 H109.5" stroke="#e8331f" stroke-width="0.9" fill="none"/>
<rect x="106.2" y="632.05" width="3.5" height="3.5" fill="#e8331f"/>
<path d="M114.72999999999999,631.3000000000001 V636.1 M113.13,631.3000000000001 H116.32999999999998 M113.13,636.1 H116.32999999999998" stroke="#e8331f" stroke-width="0.9" fill="none"/>
<rect x="113.0" y="631.95" width="3.5" height="3.5" fill="#e8331f"/>
<path d="M121.56,629.0999999999999 V635.5 M119.96000000000001,629.0999999999999 H123.16 M119.96000000000001,635.5 H123.16" stroke="#e8331f" stroke-width="0.9" fill="none"/>
<rect x="119.8" y="630.55" width="3.5" height="3.5" fill="#e8331f"/>
<path d="M128.39000000000001,626.4 V634.4 M126.79000000000002,626.4 H129.99 M126.79000000000002,634.4 H129.99" stroke="#e8331f" stroke-width="0.9" fill="none"/>
<rect x="126.6" y="628.65" width="3.5" height="3.5" fill="#e8331f"/>
<path d="M135.22,623.5 V633.5 M133.62,623.5 H136.82 M133.62,633.5 H136.82" stroke="#e8331f" stroke-width="0.9" fill="none"/>
<rect x="133.5" y="626.75" width="3.5" height="3.5" fill="#e8331f"/>
<path d="M142.05,619.7 V632.3 M140.45000000000002,619.7 H143.65 M140.45000000000002,632.3 H143.65" stroke="#e8331f" stroke-width="0.9" fill="none"/>
<rect x="140.3" y="624.25" width="3.5" height="3.5" fill="#e8331f"/>
<path d="M148.88,614.2 V629.2 M147.28,614.2 H150.48 M147.28,629.2 H150.48" stroke="#e8331f" stroke-width="0.9" fill="none"/>
<rect x="147.1" y="619.95" width="3.5" height="3.5" fill="#e8331f"/>
<path d="M155.71,609.5 V625.9000000000001 M154.11,609.5 H157.31 M154.11,625.9000000000001 H157.31" stroke="#e8331f" stroke-width="0.9" fill="none"/>
<rect x="154.0" y="615.95" width="3.5" height="3.5" fill="#e8331f"/>
<path d="M162.54,601.9 V621.1 M160.94,601.9 H164.14 M160.94,621.1 H164.14" stroke="#e8331f" stroke-width="0.9" fill="none"/>
<rect x="160.8" y="609.75" width="3.5" height="3.5" fill="#e8331f"/>
<path d="M169.37,595.1999999999999 V616.4 M167.77,595.1999999999999 H170.97 M167.77,616.4 H170.97" stroke="#e8331f" stroke-width="0.9" fill="none"/>
<rect x="167.6" y="604.05" width="3.5" height="3.5" fill="#e8331f"/>
<polyline points="39.6,639.2 46.4,638.8 53.3,638.3 60.1,635.4 66.9,631.5 73.8,625.4 80.6,620.0 87.4,611.3 94.2,604.2 101.1,594.0 107.9,581.2 114.7,567.7" fill="none" stroke="#1e1e1e" stroke-width="1.3"/>
<circle cx="39.6" cy="639.2" r="1.75" fill="#1e1e1e"/>
<circle cx="46.4" cy="638.8" r="1.75" fill="#1e1e1e"/>
<circle cx="53.3" cy="638.3" r="1.75" fill="#1e1e1e"/>
<circle cx="60.1" cy="635.4" r="1.75" fill="#1e1e1e"/>
<path d="M66.92,630.0 V633.0 M65.32000000000001,630.0 H68.52 M65.32000000000001,633.0 H68.52" stroke="#1e1e1e" stroke-width="0.9" fill="none"/>
<circle cx="66.9" cy="631.5" r="1.75" fill="#1e1e1e"/>
<path d="M73.75,621.6 V629.1999999999999 M72.15,621.6 H75.35 M72.15,629.1999999999999 H75.35" stroke="#1e1e1e" stroke-width="0.9" fill="none"/>
<circle cx="73.8" cy="625.4" r="1.75" fill="#1e1e1e"/>
<path d="M80.58000000000001,615.2 V624.8 M78.98000000000002,615.2 H82.18 M78.98000000000002,624.8 H82.18" stroke="#1e1e1e" stroke-width="0.9" fill="none"/>
<circle cx="80.6" cy="620" r="1.75" fill="#1e1e1e"/>
<path d="M87.41,605.0 V617.5999999999999 M85.81,605.0 H89.00999999999999 M85.81,617.5999999999999 H89.00999999999999" stroke="#1e1e1e" stroke-width="0.9" fill="none"/>
<circle cx="87.4" cy="611.3" r="1.75" fill="#1e1e1e"/>
<path d="M94.24000000000001,596.5 V611.9000000000001 M92.64000000000001,596.5 H95.84 M92.64000000000001,611.9000000000001 H95.84" stroke="#1e1e1e" stroke-width="0.9" fill="none"/>
<circle cx="94.2" cy="604.2" r="1.75" fill="#1e1e1e"/>
<path d="M101.07,584.7 V603.3 M99.47,584.7 H102.66999999999999 M99.47,603.3 H102.66999999999999" stroke="#1e1e1e" stroke-width="0.9" fill="none"/>
<circle cx="101.1" cy="594" r="1.75" fill="#1e1e1e"/>
<path d="M107.9,570.2 V592.2 M106.30000000000001,570.2 H109.5 M106.30000000000001,592.2 H109.5" stroke="#1e1e1e" stroke-width="0.9" fill="none"/>
<circle cx="107.9" cy="581.2" r="1.75" fill="#1e1e1e"/>
<path d="M114.72999999999999,554.2 V581.2 M113.13,554.2 H116.32999999999998 M113.13,581.2 H116.32999999999998" stroke="#1e1e1e" stroke-width="0.9" fill="none"/>
<circle cx="114.7" cy="567.7" r="1.75" fill="#1e1e1e"/>
<rect x="78.87" y="629.62" width="1.55" height="1.55" fill="#3a3a3a"/>
<rect x="81.17" y="629.62" width="1.55" height="1.55" fill="#3a3a3a"/>
<rect x="85.77" y="629.02" width="1.55" height="1.55" fill="#3a3a3a"/>
<rect x="88.07" y="629.02" width="1.55" height="1.55" fill="#3a3a3a"/>
<rect x="93.07" y="627.83" width="1.55" height="1.55" fill="#3a3a3a"/>
<rect x="95.37" y="627.83" width="1.55" height="1.55" fill="#3a3a3a"/>
<rect x="97.42" y="626.12" width="1.55" height="1.55" fill="#3a3a3a"/>
<rect x="99.72" y="626.12" width="1.55" height="1.55" fill="#3a3a3a"/>
<rect x="102.02" y="626.12" width="1.55" height="1.55" fill="#3a3a3a"/>
<rect x="104.22" y="622.93" width="1.55" height="1.55" fill="#3a3a3a"/>
<rect x="106.52" y="622.93" width="1.55" height="1.55" fill="#3a3a3a"/>
<rect x="108.82" y="622.93" width="1.55" height="1.55" fill="#3a3a3a"/>
<rect x="112.02" y="619.23" width="1.55" height="1.55" fill="#3a3a3a"/>
<rect x="114.32" y="619.23" width="1.55" height="1.55" fill="#3a3a3a"/>
<rect x="116.62" y="619.23" width="1.55" height="1.55" fill="#3a3a3a"/>
<line x1="45.3" y1="555.7" x2="55.4" y2="555.7" stroke="#1e1e1e" stroke-width="1.1"/>
<circle cx="50.35" cy="555.7" r="1.5" fill="#1e1e1e"/>
<text x="58.8" y="558.4">Vehicle</text>
<line x1="45.3" y1="567.4" x2="55.4" y2="567.4" stroke="#e8331f" stroke-width="1.1"/>
<rect x="48.85" y="565.9" width="3" height="3" fill="#e8331f"/>
<text x="58.8" y="570.1">TAM</text>
<text x="189.8" y="544.2" style="font-weight:bold;font-size:10px;">I</text>
<line x1="221.5" y1="549.2" x2="221.5" y2="627.9" stroke="#1e1e1e" stroke-width="1.1"/>
<line x1="219.1" y1="562.1" x2="221.5" y2="562.1" stroke="#1e1e1e" stroke-width="1"/>
<text x="217.6" y="564.9" text-anchor="end" style="font-size:8px;">10.0</text>
<line x1="219.1" y1="578.45" x2="221.5" y2="578.45" stroke="#1e1e1e" stroke-width="1"/>
<text x="217.6" y="581.25" text-anchor="end" style="font-size:8px;">7.5</text>
<line x1="219.1" y1="594.8" x2="221.5" y2="594.8" stroke="#1e1e1e" stroke-width="1"/>
<text x="217.6" y="597.5999999999999" text-anchor="end" style="font-size:8px;">5.0</text>
<line x1="219.1" y1="611.15" x2="221.5" y2="611.15" stroke="#1e1e1e" stroke-width="1"/>
<text x="217.6" y="613.9499999999999" text-anchor="end" style="font-size:8px;">2.5</text>
<line x1="219.1" y1="627.5" x2="221.5" y2="627.5" stroke="#1e1e1e" stroke-width="1"/>
<text x="217.6" y="630.3" text-anchor="end" style="font-size:8px;">0</text>
<text transform="translate(197.2,590) rotate(-90)" text-anchor="middle">Total Flux (×10<tspan font-size="4.6" dy="-2.8">6</tspan><tspan dy="2.8"> p/s)</tspan></text>
<line x1="234.5" y1="640.1" x2="359.2" y2="640.1" stroke="#1e1e1e" stroke-width="1.1"/>
<line x1="245.4" y1="640.1" x2="245.4" y2="642.6" stroke="#1e1e1e" stroke-width="1"/>
<text transform="translate(248.0,646.4) rotate(-40)" text-anchor="end">−2–0</text>
<line x1="262.27" y1="640.1" x2="262.27" y2="642.6" stroke="#1e1e1e" stroke-width="1"/>
<text transform="translate(264.87,646.4) rotate(-40)" text-anchor="end">1–3</text>
<line x1="279.14" y1="640.1" x2="279.14" y2="642.6" stroke="#1e1e1e" stroke-width="1"/>
<text transform="translate(281.74,646.4) rotate(-40)" text-anchor="end">4–6</text>
<line x1="296.01" y1="640.1" x2="296.01" y2="642.6" stroke="#1e1e1e" stroke-width="1"/>
<text transform="translate(298.61,646.4) rotate(-40)" text-anchor="end">7–9</text>
<line x1="312.88" y1="640.1" x2="312.88" y2="642.6" stroke="#1e1e1e" stroke-width="1"/>
<text transform="translate(315.48,646.4) rotate(-40)" text-anchor="end">10–12</text>
<line x1="329.75" y1="640.1" x2="329.75" y2="642.6" stroke="#1e1e1e" stroke-width="1"/>
<text transform="translate(332.35,646.4) rotate(-40)" text-anchor="end">12–15</text>
<line x1="346.62" y1="640.1" x2="346.62" y2="642.6" stroke="#1e1e1e" stroke-width="1"/>
<text transform="translate(349.22,646.4) rotate(-40)" text-anchor="end">16–18</text>
<polygon points="241.29999999999998,664.8 244.6,657.8 247.9,664.8 244.6,662.4" fill="#1e1e1e"/>
<text x="245.3" y="671.5" text-anchor="middle">Start</text>
<polygon points="288.4,664.8 291.7,657.8 295.0,664.8 291.7,662.4" fill="#1e1e1e"/>
<text x="292.3" y="671.5" text-anchor="middle">Stop</text>
<text x="296" y="682.3" text-anchor="middle">Days</text>
<polyline points="245.4,625.4 262.3,623.8 279.1,611.5 296.0,609.6 312.9,617.6 329.8,621.9 346.6,618.5" fill="none" stroke="#e8331f" stroke-width="1.3"/>
<rect x="243.4" y="623.4" width="4" height="4" fill="#e8331f"/>
<rect x="260.3" y="621.8" width="4" height="4" fill="#e8331f"/>
<path d="M279.14,603.5 V619.5 M277.44,603.5 H280.84 M277.44,619.5 H280.84" stroke="#e8331f" stroke-width="0.9" fill="none"/>
<rect x="277.1" y="609.5" width="4" height="4" fill="#e8331f"/>
<path d="M296.01,597.7 V621.5 M294.31,597.7 H297.71 M294.31,621.5 H297.71" stroke="#e8331f" stroke-width="0.9" fill="none"/>
<rect x="294.0" y="607.6" width="4" height="4" fill="#e8331f"/>
<path d="M312.88,614.6 V620.6 M311.18,614.6 H314.58 M311.18,620.6 H314.58" stroke="#e8331f" stroke-width="0.9" fill="none"/>
<rect x="310.9" y="615.6" width="4" height="4" fill="#e8331f"/>
<path d="M329.75,620.6999999999999 V623.1 M328.05,620.6999999999999 H331.45 M328.05,623.1 H331.45" stroke="#e8331f" stroke-width="0.9" fill="none"/>
<rect x="327.8" y="619.9" width="4" height="4" fill="#e8331f"/>
<path d="M346.62,615.3 V621.7 M344.92,615.3 H348.32 M344.92,621.7 H348.32" stroke="#e8331f" stroke-width="0.9" fill="none"/>
<rect x="344.6" y="616.5" width="4" height="4" fill="#e8331f"/>
<polyline points="245.4,625.0 262.3,621.5 279.1,608.4 296.0,603.2 312.9,579.2 329.8,569.3" fill="none" stroke="#1e1e1e" stroke-width="1.3"/>
<circle cx="245.4" cy="625.0" r="2.0" fill="#1e1e1e"/>
<circle cx="262.3" cy="621.5" r="2.0" fill="#1e1e1e"/>
<path d="M279.14,604.9 V611.9 M277.44,604.9 H280.84 M277.44,611.9 H280.84" stroke="#1e1e1e" stroke-width="0.9" fill="none"/>
<circle cx="279.1" cy="608.4" r="2.0" fill="#1e1e1e"/>
<path d="M296.01,596.4000000000001 V610.0 M294.31,596.4000000000001 H297.71 M294.31,610.0 H297.71" stroke="#1e1e1e" stroke-width="0.9" fill="none"/>
<circle cx="296.0" cy="603.2" r="2.0" fill="#1e1e1e"/>
<path d="M312.88,562.8000000000001 V595.6 M311.18,562.8000000000001 H314.58 M311.18,595.6 H314.58" stroke="#1e1e1e" stroke-width="0.9" fill="none"/>
<circle cx="312.9" cy="579.2" r="2.0" fill="#1e1e1e"/>
<path d="M329.75,551.0999999999999 V587.5 M328.05,551.0999999999999 H331.45 M328.05,587.5 H331.45" stroke="#1e1e1e" stroke-width="0.9" fill="none"/>
<circle cx="329.8" cy="569.3" r="2.0" fill="#1e1e1e"/>
<rect x="310.88" y="610.62" width="1.55" height="1.55" fill="#3a3a3a"/>
<rect x="313.18" y="610.62" width="1.55" height="1.55" fill="#3a3a3a"/>
<rect x="326.53" y="615.83" width="1.55" height="1.55" fill="#3a3a3a"/>
<rect x="328.83" y="615.83" width="1.55" height="1.55" fill="#3a3a3a"/>
<rect x="331.13" y="615.83" width="1.55" height="1.55" fill="#3a3a3a"/>
<line x1="227.7" y1="555.5" x2="238.7" y2="555.5" stroke="#1e1e1e" stroke-width="1.1"/>
<circle cx="233.2" cy="555.5" r="1.5" fill="#1e1e1e"/>
<text x="241.8" y="558.2">Vehicle</text>
<line x1="227.7" y1="568.6" x2="238.7" y2="568.6" stroke="#e8331f" stroke-width="1.1"/>
<rect x="231.7" y="567.1" width="3" height="3" fill="#e8331f"/>
<text x="241.8" y="571.3">TAM</text>
</svg>
</body></html>
